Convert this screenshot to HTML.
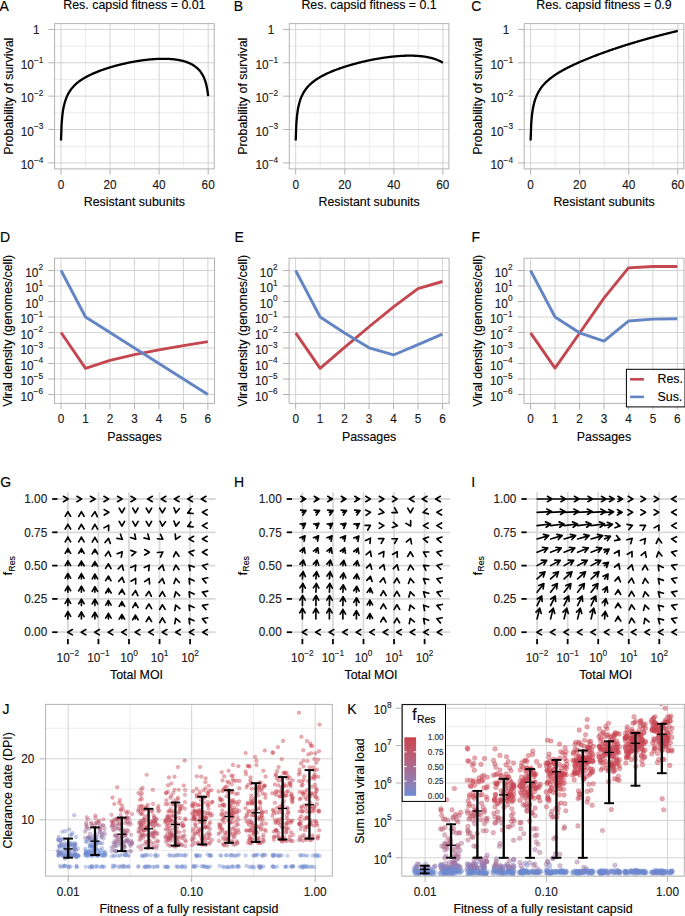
<!DOCTYPE html>
<html><head><meta charset="utf-8"><style>
html,body{margin:0;padding:0;background:#fff;}
svg{display:block;font-family:"Liberation Sans", sans-serif;}
text{stroke:currentColor;stroke-width:0.12px;}
circle{fill-opacity:0.42;stroke-opacity:0.42;stroke-width:0.6}.q0{fill:#6a8ad2;stroke:#6a8ad2}.q1{fill:#7487cb;stroke:#7487cb}.q2{fill:#7e84c4;stroke:#7e84c4}.q3{fill:#8681bd;stroke:#8681bd}.q4{fill:#8d7eb6;stroke:#8d7eb6}.q5{fill:#937aaf;stroke:#937aaf}.q6{fill:#9977a8;stroke:#9977a8}.q7{fill:#9e74a1;stroke:#9e74a1}.q8{fill:#a3709b;stroke:#a3709b}.q9{fill:#a86d94;stroke:#a86d94}.q10{fill:#ac698d;stroke:#ac698d}.q11{fill:#b06686;stroke:#b06686}.q12{fill:#b46280;stroke:#b46280}.q13{fill:#b75f79;stroke:#b75f79}.q14{fill:#ba5b73;stroke:#ba5b73}.q15{fill:#bd576c;stroke:#bd576c}.q16{fill:#c05366;stroke:#c05366}.q17{fill:#c24e5f;stroke:#c24e5f}.q18{fill:#c54a59;stroke:#c54a59}.q19{fill:#c74552;stroke:#c74552}.q20{fill:#c9404c;stroke:#c9404c}.K circle{fill-opacity:0.46;stroke-opacity:0.46}circle.q0b{fill:#6a8ad2;stroke:#6a8ad2;fill-opacity:0.36;stroke-opacity:0.36}circle.q1b{fill:#7487cb;stroke:#7487cb;fill-opacity:0.36;stroke-opacity:0.36}circle.q2b{fill:#7e84c4;stroke:#7e84c4;fill-opacity:0.36;stroke-opacity:0.36}circle.q3b{fill:#8681bd;stroke:#8681bd;fill-opacity:0.36;stroke-opacity:0.36}circle.q4b{fill:#8d7eb6;stroke:#8d7eb6;fill-opacity:0.36;stroke-opacity:0.36}circle.q5b{fill:#937aaf;stroke:#937aaf;fill-opacity:0.36;stroke-opacity:0.36}circle.q6b{fill:#9977a8;stroke:#9977a8;fill-opacity:0.36;stroke-opacity:0.36}circle.q7b{fill:#9e74a1;stroke:#9e74a1;fill-opacity:0.36;stroke-opacity:0.36}circle.q8b{fill:#a3709b;stroke:#a3709b;fill-opacity:0.36;stroke-opacity:0.36}circle.q9b{fill:#a86d94;stroke:#a86d94;fill-opacity:0.36;stroke-opacity:0.36}circle.q10b{fill:#ac698d;stroke:#ac698d;fill-opacity:0.36;stroke-opacity:0.36}circle.q11b{fill:#b06686;stroke:#b06686;fill-opacity:0.36;stroke-opacity:0.36}circle.q12b{fill:#b46280;stroke:#b46280;fill-opacity:0.36;stroke-opacity:0.36}circle.q13b{fill:#b75f79;stroke:#b75f79;fill-opacity:0.36;stroke-opacity:0.36}circle.q14b{fill:#ba5b73;stroke:#ba5b73;fill-opacity:0.36;stroke-opacity:0.36}circle.q15b{fill:#bd576c;stroke:#bd576c;fill-opacity:0.36;stroke-opacity:0.36}circle.q16b{fill:#c05366;stroke:#c05366;fill-opacity:0.36;stroke-opacity:0.36}circle.q17b{fill:#c24e5f;stroke:#c24e5f;fill-opacity:0.36;stroke-opacity:0.36}circle.q18b{fill:#c54a59;stroke:#c54a59;fill-opacity:0.36;stroke-opacity:0.36}circle.q19b{fill:#c74552;stroke:#c74552;fill-opacity:0.36;stroke-opacity:0.36}circle.q20b{fill:#c9404c;stroke:#c9404c;fill-opacity:0.36;stroke-opacity:0.36}
</style></head><body>
<svg width="685" height="916" viewBox="0 0 685 916">
<rect width="685" height="916" fill="#fff"/>
<line x1="85.53" y1="23.6" x2="85.53" y2="168.9" stroke="#e4e4e4" stroke-width="0.75" />
<line x1="134.59" y1="23.6" x2="134.59" y2="168.9" stroke="#e4e4e4" stroke-width="0.75" />
<line x1="183.65" y1="23.6" x2="183.65" y2="168.9" stroke="#e4e4e4" stroke-width="0.75" />
<line x1="54.6" y1="46.09" x2="214.2" y2="46.09" stroke="#e4e4e4" stroke-width="0.75" />
<line x1="54.6" y1="79.46" x2="214.2" y2="79.46" stroke="#e4e4e4" stroke-width="0.75" />
<line x1="54.6" y1="112.84" x2="214.2" y2="112.84" stroke="#e4e4e4" stroke-width="0.75" />
<line x1="54.6" y1="146.21" x2="214.2" y2="146.21" stroke="#e4e4e4" stroke-width="0.75" />
<line x1="61" y1="23.6" x2="61" y2="168.9" stroke="#d3d3d3" stroke-width="1.0" />
<line x1="110.06" y1="23.6" x2="110.06" y2="168.9" stroke="#d3d3d3" stroke-width="1.0" />
<line x1="159.12" y1="23.6" x2="159.12" y2="168.9" stroke="#d3d3d3" stroke-width="1.0" />
<line x1="208.18" y1="23.6" x2="208.18" y2="168.9" stroke="#d3d3d3" stroke-width="1.0" />
<line x1="54.6" y1="29.4" x2="214.2" y2="29.4" stroke="#d3d3d3" stroke-width="1.0" />
<line x1="54.6" y1="62.77" x2="214.2" y2="62.77" stroke="#d3d3d3" stroke-width="1.0" />
<line x1="54.6" y1="96.15" x2="214.2" y2="96.15" stroke="#d3d3d3" stroke-width="1.0" />
<line x1="54.6" y1="129.53" x2="214.2" y2="129.53" stroke="#d3d3d3" stroke-width="1.0" />
<line x1="54.6" y1="162.9" x2="214.2" y2="162.9" stroke="#d3d3d3" stroke-width="1.0" />
<polyline points="61,140.47 61.61,124 62.23,116.54 62.84,111.67 63.45,108.06 64.07,105.18 64.68,102.8 65.29,100.77 65.91,99 66.52,97.43 67.13,96.03 67.75,94.75 68.36,93.58 68.97,92.51 69.59,91.51 70.2,90.59 70.81,89.72 71.43,88.9 72.04,88.13 72.65,87.4 73.27,86.71 73.88,86.06 74.49,85.43 75.1,84.83 75.72,84.25 76.33,83.7 76.94,83.17 77.56,82.66 78.17,82.17 78.78,81.69 79.4,81.23 80.01,80.79 80.62,80.36 81.24,79.94 81.85,79.53 82.46,79.13 83.08,78.75 83.69,78.37 84.3,78.01 84.92,77.65 85.53,77.3 86.14,76.96 86.76,76.62 87.37,76.3 87.98,75.98 88.6,75.67 89.21,75.36 89.82,75.06 90.44,74.76 91.05,74.47 91.66,74.19 92.28,73.91 92.89,73.64 93.5,73.37 94.12,73.1 94.73,72.84 95.34,72.58 95.96,72.33 96.57,72.08 97.18,71.84 97.79,71.6 98.41,71.36 99.02,71.12 99.63,70.89 100.25,70.66 100.86,70.44 101.47,70.22 102.09,70 102.7,69.78 103.31,69.57 103.93,69.36 104.54,69.15 105.15,68.94 105.77,68.74 106.38,68.54 106.99,68.34 107.61,68.15 108.22,67.95 108.83,67.76 109.45,67.57 110.06,67.39 110.67,67.2 111.29,67.02 111.9,66.84 112.51,66.67 113.13,66.49 113.74,66.32 114.35,66.15 114.97,65.98 115.58,65.81 116.19,65.64 116.81,65.48 117.42,65.32 118.03,65.16 118.65,65 119.26,64.85 119.87,64.69 120.49,64.54 121.1,64.39 121.71,64.24 122.32,64.1 122.94,63.95 123.55,63.81 124.16,63.67 124.78,63.53 125.39,63.39 126,63.26 126.62,63.13 127.23,62.99 127.84,62.86 128.46,62.74 129.07,62.61 129.68,62.49 130.3,62.36 130.91,62.24 131.52,62.12 132.14,62.01 132.75,61.89 133.36,61.78 133.98,61.67 134.59,61.56 135.2,61.45 135.82,61.34 136.43,61.24 137.04,61.14 137.66,61.04 138.27,60.94 138.88,60.84 139.5,60.75 140.11,60.66 140.72,60.57 141.34,60.48 141.95,60.39 142.56,60.31 143.18,60.22 143.79,60.14 144.4,60.06 145.02,59.99 145.63,59.91 146.24,59.84 146.85,59.77 147.47,59.7 148.08,59.64 148.69,59.57 149.31,59.51 149.92,59.45 150.53,59.4 151.15,59.34 151.76,59.29 152.37,59.24 152.99,59.19 153.6,59.15 154.21,59.1 154.83,59.06 155.44,59.03 156.05,58.99 156.67,58.96 157.28,58.93 157.89,58.9 158.51,58.88 159.12,58.85 159.73,58.84 160.35,58.82 160.96,58.81 161.57,58.8 162.19,58.79 162.8,58.78 163.41,58.78 164.03,58.79 164.64,58.79 165.25,58.8 165.87,58.81 166.48,58.83 167.09,58.85 167.71,58.87 168.32,58.9 168.93,58.93 169.55,58.96 170.16,59 170.77,59.04 171.38,59.09 172,59.14 172.61,59.19 173.22,59.25 173.84,59.32 174.45,59.39 175.06,59.46 175.68,59.54 176.29,59.63 176.9,59.72 177.52,59.81 178.13,59.91 178.74,60.02 179.36,60.14 179.97,60.26 180.58,60.38 181.2,60.52 181.81,60.66 182.42,60.81 183.04,60.97 183.65,61.13 184.26,61.31 184.88,61.49 185.49,61.68 186.1,61.88 186.72,62.1 187.33,62.32 187.94,62.56 188.56,62.8 189.17,63.06 189.78,63.34 190.4,63.62 191.01,63.93 191.62,64.25 192.24,64.58 192.85,64.94 193.46,65.31 194.08,65.71 194.69,66.13 195.3,66.57 195.91,67.04 196.53,67.54 197.14,68.07 197.75,68.64 198.37,69.25 198.98,69.9 199.59,70.59 200.21,71.35 200.82,72.16 201.43,73.04 202.05,74.01 202.66,75.07 203.27,76.24 203.89,77.55 204.5,79.02 205.11,80.69 205.73,82.64 206.34,84.94 206.95,87.74 207.57,91.3 208.18,96.15" fill="none" stroke="#000" stroke-width="2.3" stroke-linejoin="round" />
<rect x="54.6" y="23.6" width="159.6" height="145.3" fill="none" stroke="#b3b3b3" stroke-width="1.0"/>
<line x1="61" y1="168.9" x2="61" y2="174.7" stroke="#b3b3b3" stroke-width="1.0" />
<text transform="translate(61,189) scale(1,1.08)" font-size="11.8" text-anchor="middle" fill="#222222" >0</text>
<line x1="110.06" y1="168.9" x2="110.06" y2="174.7" stroke="#b3b3b3" stroke-width="1.0" />
<text transform="translate(110.06,189) scale(1,1.08)" font-size="11.8" text-anchor="middle" fill="#222222" >20</text>
<line x1="159.12" y1="168.9" x2="159.12" y2="174.7" stroke="#b3b3b3" stroke-width="1.0" />
<text transform="translate(159.12,189) scale(1,1.08)" font-size="11.8" text-anchor="middle" fill="#222222" >40</text>
<line x1="208.18" y1="168.9" x2="208.18" y2="174.7" stroke="#b3b3b3" stroke-width="1.0" />
<text transform="translate(208.18,189) scale(1,1.08)" font-size="11.8" text-anchor="middle" fill="#222222" >60</text>
<line x1="48.4" y1="29.4" x2="54.6" y2="29.4" stroke="#b3b3b3" stroke-width="1.0" />
<text transform="translate(39.6,33.7) scale(1,1.08)" font-size="11.8" text-anchor="end" fill="#222222" >1</text>
<line x1="48.4" y1="62.77" x2="54.6" y2="62.77" stroke="#b3b3b3" stroke-width="1.0" />
<text transform="translate(20.81,68.98) scale(1,1.08)" font-size="11.8" fill="#222222">10</text>
<text x="33.94" y="62.68" font-size="8.3" fill="#222222">&#8722;1</text>
<line x1="48.4" y1="96.15" x2="54.6" y2="96.15" stroke="#b3b3b3" stroke-width="1.0" />
<text transform="translate(20.81,102.35) scale(1,1.08)" font-size="11.8" fill="#222222">10</text>
<text x="33.94" y="96.05" font-size="8.3" fill="#222222">&#8722;2</text>
<line x1="48.4" y1="129.53" x2="54.6" y2="129.53" stroke="#b3b3b3" stroke-width="1.0" />
<text transform="translate(20.81,135.73) scale(1,1.08)" font-size="11.8" fill="#222222">10</text>
<text x="33.94" y="129.43" font-size="8.3" fill="#222222">&#8722;3</text>
<line x1="48.4" y1="162.9" x2="54.6" y2="162.9" stroke="#b3b3b3" stroke-width="1.0" />
<text transform="translate(20.81,169.1) scale(1,1.08)" font-size="11.8" fill="#222222">10</text>
<text x="33.94" y="162.8" font-size="8.3" fill="#222222">&#8722;4</text>
<text x="134.4" y="205.7" font-size="12.4" text-anchor="middle" fill="#000000" >Resistant subunits</text>
<text transform="translate(12.6,96.25) rotate(-90)" font-size="12.4" text-anchor="middle" fill="#000000">Probability of survival</text>
<text x="134.4" y="8.8" font-size="12.4" text-anchor="middle" fill="#000000" >Res. capsid fitness = 0.01</text>
<text x="-0.4" y="10.6" font-size="14.0" text-anchor="start" fill="#000000" >A</text>
<line x1="320.23" y1="23.6" x2="320.23" y2="168.9" stroke="#e4e4e4" stroke-width="0.75" />
<line x1="369.29" y1="23.6" x2="369.29" y2="168.9" stroke="#e4e4e4" stroke-width="0.75" />
<line x1="418.35" y1="23.6" x2="418.35" y2="168.9" stroke="#e4e4e4" stroke-width="0.75" />
<line x1="289.3" y1="46.09" x2="448.9" y2="46.09" stroke="#e4e4e4" stroke-width="0.75" />
<line x1="289.3" y1="79.46" x2="448.9" y2="79.46" stroke="#e4e4e4" stroke-width="0.75" />
<line x1="289.3" y1="112.84" x2="448.9" y2="112.84" stroke="#e4e4e4" stroke-width="0.75" />
<line x1="289.3" y1="146.21" x2="448.9" y2="146.21" stroke="#e4e4e4" stroke-width="0.75" />
<line x1="295.7" y1="23.6" x2="295.7" y2="168.9" stroke="#d3d3d3" stroke-width="1.0" />
<line x1="344.76" y1="23.6" x2="344.76" y2="168.9" stroke="#d3d3d3" stroke-width="1.0" />
<line x1="393.82" y1="23.6" x2="393.82" y2="168.9" stroke="#d3d3d3" stroke-width="1.0" />
<line x1="442.88" y1="23.6" x2="442.88" y2="168.9" stroke="#d3d3d3" stroke-width="1.0" />
<line x1="289.3" y1="29.4" x2="448.9" y2="29.4" stroke="#d3d3d3" stroke-width="1.0" />
<line x1="289.3" y1="62.77" x2="448.9" y2="62.77" stroke="#d3d3d3" stroke-width="1.0" />
<line x1="289.3" y1="96.15" x2="448.9" y2="96.15" stroke="#d3d3d3" stroke-width="1.0" />
<line x1="289.3" y1="129.53" x2="448.9" y2="129.53" stroke="#d3d3d3" stroke-width="1.0" />
<line x1="289.3" y1="162.9" x2="448.9" y2="162.9" stroke="#d3d3d3" stroke-width="1.0" />
<polyline points="295.7,140.47 296.31,124 296.93,116.53 297.54,111.66 298.15,108.03 298.77,105.16 299.38,102.77 299.99,100.73 300.61,98.96 301.22,97.38 301.83,95.97 302.45,94.69 303.06,93.51 303.67,92.43 304.29,91.43 304.9,90.5 305.51,89.62 306.13,88.8 306.74,88.03 307.35,87.29 307.96,86.59 308.58,85.93 309.19,85.3 309.8,84.69 310.42,84.11 311.03,83.55 311.64,83.01 312.26,82.5 312.87,82 313.48,81.51 314.1,81.05 314.71,80.6 315.32,80.16 315.94,79.73 316.55,79.32 317.16,78.91 317.78,78.52 318.39,78.14 319,77.76 319.62,77.4 320.23,77.04 320.84,76.69 321.46,76.35 322.07,76.02 322.68,75.69 323.3,75.37 323.91,75.05 324.52,74.75 325.14,74.44 325.75,74.14 326.36,73.85 326.98,73.56 327.59,73.28 328.2,73 328.82,72.73 329.43,72.46 330.04,72.19 330.66,71.93 331.27,71.67 331.88,71.42 332.5,71.17 333.11,70.92 333.72,70.68 334.33,70.44 334.95,70.2 335.56,69.96 336.17,69.73 336.79,69.5 337.4,69.28 338.01,69.05 338.63,68.83 339.24,68.61 339.85,68.4 340.47,68.18 341.08,67.97 341.69,67.76 342.31,67.56 342.92,67.35 343.53,67.15 344.15,66.95 344.76,66.75 345.37,66.56 345.99,66.36 346.6,66.17 347.21,65.98 347.83,65.8 348.44,65.61 349.05,65.43 349.67,65.24 350.28,65.06 350.89,64.89 351.51,64.71 352.12,64.53 352.73,64.36 353.35,64.19 353.96,64.02 354.57,63.85 355.19,63.69 355.8,63.52 356.41,63.36 357.02,63.2 357.64,63.04 358.25,62.88 358.86,62.73 359.48,62.57 360.09,62.42 360.7,62.27 361.32,62.12 361.93,61.97 362.54,61.83 363.16,61.68 363.77,61.54 364.38,61.4 365,61.26 365.61,61.12 366.22,60.98 366.84,60.85 367.45,60.71 368.06,60.58 368.68,60.45 369.29,60.32 369.9,60.19 370.52,60.07 371.13,59.94 371.74,59.82 372.36,59.7 372.97,59.58 373.58,59.46 374.2,59.35 374.81,59.23 375.42,59.12 376.04,59.01 376.65,58.9 377.26,58.79 377.88,58.68 378.49,58.57 379.1,58.47 379.72,58.37 380.33,58.27 380.94,58.17 381.55,58.07 382.17,57.98 382.78,57.88 383.39,57.79 384.01,57.7 384.62,57.61 385.23,57.53 385.85,57.44 386.46,57.36 387.07,57.28 387.69,57.2 388.3,57.12 388.91,57.04 389.53,56.97 390.14,56.9 390.75,56.82 391.37,56.76 391.98,56.69 392.59,56.62 393.21,56.56 393.82,56.5 394.43,56.44 395.05,56.38 395.66,56.33 396.27,56.27 396.89,56.22 397.5,56.17 398.11,56.12 398.73,56.08 399.34,56.04 399.95,56 400.57,55.96 401.18,55.92 401.79,55.89 402.41,55.85 403.02,55.83 403.63,55.8 404.25,55.77 404.86,55.75 405.47,55.73 406.08,55.71 406.7,55.7 407.31,55.69 407.92,55.68 408.54,55.67 409.15,55.66 409.76,55.66 410.38,55.66 410.99,55.67 411.6,55.67 412.22,55.68 412.83,55.7 413.44,55.71 414.06,55.73 414.67,55.76 415.28,55.78 415.9,55.81 416.51,55.84 417.12,55.88 417.74,55.92 418.35,55.96 418.96,56.01 419.58,56.06 420.19,56.12 420.8,56.18 421.42,56.24 422.03,56.31 422.64,56.38 423.26,56.46 423.87,56.54 424.48,56.63 425.1,56.72 425.71,56.81 426.32,56.92 426.94,57.02 427.55,57.14 428.16,57.26 428.78,57.38 429.39,57.51 430,57.65 430.62,57.8 431.23,57.95 431.84,58.11 432.45,58.28 433.07,58.46 433.68,58.64 434.29,58.83 434.91,59.04 435.52,59.25 436.13,59.47 436.75,59.7 437.36,59.95 437.97,60.2 438.59,60.47 439.2,60.75 439.81,61.05 440.43,61.36 441.04,61.69 441.65,62.03 442.27,62.39 442.88,62.77" fill="none" stroke="#000" stroke-width="2.3" stroke-linejoin="round" />
<rect x="289.3" y="23.6" width="159.6" height="145.3" fill="none" stroke="#b3b3b3" stroke-width="1.0"/>
<line x1="295.7" y1="168.9" x2="295.7" y2="174.7" stroke="#b3b3b3" stroke-width="1.0" />
<text transform="translate(295.7,189) scale(1,1.08)" font-size="11.8" text-anchor="middle" fill="#222222" >0</text>
<line x1="344.76" y1="168.9" x2="344.76" y2="174.7" stroke="#b3b3b3" stroke-width="1.0" />
<text transform="translate(344.76,189) scale(1,1.08)" font-size="11.8" text-anchor="middle" fill="#222222" >20</text>
<line x1="393.82" y1="168.9" x2="393.82" y2="174.7" stroke="#b3b3b3" stroke-width="1.0" />
<text transform="translate(393.82,189) scale(1,1.08)" font-size="11.8" text-anchor="middle" fill="#222222" >40</text>
<line x1="442.88" y1="168.9" x2="442.88" y2="174.7" stroke="#b3b3b3" stroke-width="1.0" />
<text transform="translate(442.88,189) scale(1,1.08)" font-size="11.8" text-anchor="middle" fill="#222222" >60</text>
<line x1="283.1" y1="29.4" x2="289.3" y2="29.4" stroke="#b3b3b3" stroke-width="1.0" />
<text transform="translate(274.3,33.7) scale(1,1.08)" font-size="11.8" text-anchor="end" fill="#222222" >1</text>
<line x1="283.1" y1="62.77" x2="289.3" y2="62.77" stroke="#b3b3b3" stroke-width="1.0" />
<text transform="translate(255.51,68.98) scale(1,1.08)" font-size="11.8" fill="#222222">10</text>
<text x="268.64" y="62.68" font-size="8.3" fill="#222222">&#8722;1</text>
<line x1="283.1" y1="96.15" x2="289.3" y2="96.15" stroke="#b3b3b3" stroke-width="1.0" />
<text transform="translate(255.51,102.35) scale(1,1.08)" font-size="11.8" fill="#222222">10</text>
<text x="268.64" y="96.05" font-size="8.3" fill="#222222">&#8722;2</text>
<line x1="283.1" y1="129.53" x2="289.3" y2="129.53" stroke="#b3b3b3" stroke-width="1.0" />
<text transform="translate(255.51,135.73) scale(1,1.08)" font-size="11.8" fill="#222222">10</text>
<text x="268.64" y="129.43" font-size="8.3" fill="#222222">&#8722;3</text>
<line x1="283.1" y1="162.9" x2="289.3" y2="162.9" stroke="#b3b3b3" stroke-width="1.0" />
<text transform="translate(255.51,169.1) scale(1,1.08)" font-size="11.8" fill="#222222">10</text>
<text x="268.64" y="162.8" font-size="8.3" fill="#222222">&#8722;4</text>
<text x="369.1" y="205.7" font-size="12.4" text-anchor="middle" fill="#000000" >Resistant subunits</text>
<text transform="translate(247.3,96.25) rotate(-90)" font-size="12.4" text-anchor="middle" fill="#000000">Probability of survival</text>
<text x="369.1" y="8.8" font-size="12.4" text-anchor="middle" fill="#000000" >Res. capsid fitness = 0.1</text>
<text x="233.7" y="10.6" font-size="14.0" text-anchor="start" fill="#000000" >B</text>
<line x1="555.13" y1="23.6" x2="555.13" y2="168.9" stroke="#e4e4e4" stroke-width="0.75" />
<line x1="604.19" y1="23.6" x2="604.19" y2="168.9" stroke="#e4e4e4" stroke-width="0.75" />
<line x1="653.25" y1="23.6" x2="653.25" y2="168.9" stroke="#e4e4e4" stroke-width="0.75" />
<line x1="524.2" y1="46.09" x2="683.8" y2="46.09" stroke="#e4e4e4" stroke-width="0.75" />
<line x1="524.2" y1="79.46" x2="683.8" y2="79.46" stroke="#e4e4e4" stroke-width="0.75" />
<line x1="524.2" y1="112.84" x2="683.8" y2="112.84" stroke="#e4e4e4" stroke-width="0.75" />
<line x1="524.2" y1="146.21" x2="683.8" y2="146.21" stroke="#e4e4e4" stroke-width="0.75" />
<line x1="530.6" y1="23.6" x2="530.6" y2="168.9" stroke="#d3d3d3" stroke-width="1.0" />
<line x1="579.66" y1="23.6" x2="579.66" y2="168.9" stroke="#d3d3d3" stroke-width="1.0" />
<line x1="628.72" y1="23.6" x2="628.72" y2="168.9" stroke="#d3d3d3" stroke-width="1.0" />
<line x1="677.78" y1="23.6" x2="677.78" y2="168.9" stroke="#d3d3d3" stroke-width="1.0" />
<line x1="524.2" y1="29.4" x2="683.8" y2="29.4" stroke="#d3d3d3" stroke-width="1.0" />
<line x1="524.2" y1="62.77" x2="683.8" y2="62.77" stroke="#d3d3d3" stroke-width="1.0" />
<line x1="524.2" y1="96.15" x2="683.8" y2="96.15" stroke="#d3d3d3" stroke-width="1.0" />
<line x1="524.2" y1="129.53" x2="683.8" y2="129.53" stroke="#d3d3d3" stroke-width="1.0" />
<line x1="524.2" y1="162.9" x2="683.8" y2="162.9" stroke="#d3d3d3" stroke-width="1.0" />
<polyline points="530.6,140.47 531.21,123.95 531.83,116.43 532.44,111.51 533.05,107.84 533.67,104.91 534.28,102.48 534.89,100.39 535.51,98.56 536.12,96.94 536.73,95.48 537.35,94.14 537.96,92.92 538.57,91.79 539.19,90.74 539.8,89.75 540.41,88.82 541.03,87.95 541.64,87.12 542.25,86.34 542.87,85.59 543.48,84.87 544.09,84.18 544.7,83.52 545.32,82.89 545.93,82.28 546.54,81.69 547.16,81.11 547.77,80.56 548.38,80.02 549,79.5 549.61,78.99 550.22,78.5 550.84,78.02 551.45,77.55 552.06,77.09 552.68,76.64 553.29,76.2 553.9,75.77 554.52,75.34 555.13,74.93 555.74,74.52 556.36,74.12 556.97,73.73 557.58,73.34 558.2,72.96 558.81,72.59 559.42,72.22 560.04,71.86 560.65,71.5 561.26,71.15 561.88,70.8 562.49,70.46 563.1,70.12 563.72,69.78 564.33,69.45 564.94,69.12 565.56,68.79 566.17,68.47 566.78,68.16 567.39,67.84 568.01,67.53 568.62,67.22 569.23,66.91 569.85,66.61 570.46,66.31 571.07,66.01 571.69,65.72 572.3,65.43 572.91,65.14 573.53,64.85 574.14,64.56 574.75,64.28 575.37,63.99 575.98,63.71 576.59,63.44 577.21,63.16 577.82,62.89 578.43,62.61 579.05,62.34 579.66,62.07 580.27,61.81 580.89,61.54 581.5,61.28 582.11,61.02 582.73,60.75 583.34,60.5 583.95,60.24 584.57,59.98 585.18,59.73 585.79,59.47 586.41,59.22 587.02,58.97 587.63,58.72 588.25,58.47 588.86,58.22 589.47,57.98 590.09,57.73 590.7,57.49 591.31,57.25 591.93,57 592.54,56.76 593.15,56.53 593.76,56.29 594.38,56.05 594.99,55.81 595.6,55.58 596.22,55.35 596.83,55.11 597.44,54.88 598.06,54.65 598.67,54.42 599.28,54.19 599.9,53.97 600.51,53.74 601.12,53.51 601.74,53.29 602.35,53.06 602.96,52.84 603.58,52.62 604.19,52.4 604.8,52.18 605.42,51.96 606.03,51.74 606.64,51.52 607.26,51.31 607.87,51.09 608.48,50.88 609.1,50.66 609.71,50.45 610.32,50.24 610.94,50.02 611.55,49.81 612.16,49.6 612.78,49.39 613.39,49.18 614,48.98 614.62,48.77 615.23,48.56 615.84,48.36 616.46,48.15 617.07,47.95 617.68,47.75 618.29,47.55 618.91,47.34 619.52,47.14 620.13,46.94 620.75,46.74 621.36,46.54 621.97,46.35 622.59,46.15 623.2,45.95 623.81,45.76 624.43,45.56 625.04,45.37 625.65,45.17 626.27,44.98 626.88,44.79 627.49,44.6 628.11,44.41 628.72,44.22 629.33,44.03 629.95,43.84 630.56,43.65 631.17,43.46 631.79,43.28 632.4,43.09 633.01,42.91 633.63,42.72 634.24,42.54 634.85,42.35 635.47,42.17 636.08,41.99 636.69,41.81 637.31,41.62 637.92,41.44 638.53,41.26 639.15,41.09 639.76,40.91 640.37,40.73 640.99,40.55 641.6,40.38 642.21,40.2 642.82,40.02 643.44,39.85 644.05,39.67 644.66,39.5 645.28,39.33 645.89,39.16 646.5,38.98 647.12,38.81 647.73,38.64 648.34,38.47 648.96,38.3 649.57,38.13 650.18,37.96 650.8,37.8 651.41,37.63 652.02,37.46 652.64,37.3 653.25,37.13 653.86,36.97 654.48,36.8 655.09,36.64 655.7,36.47 656.32,36.31 656.93,36.15 657.54,35.99 658.16,35.82 658.77,35.66 659.38,35.5 660,35.34 660.61,35.18 661.22,35.03 661.84,34.87 662.45,34.71 663.06,34.55 663.68,34.4 664.29,34.24 664.9,34.08 665.51,33.93 666.13,33.77 666.74,33.62 667.35,33.47 667.97,33.31 668.58,33.16 669.19,33.01 669.81,32.86 670.42,32.71 671.03,32.55 671.65,32.4 672.26,32.25 672.87,32.11 673.49,31.96 674.1,31.81 674.71,31.66 675.33,31.51 675.94,31.37 676.55,31.22 677.17,31.07 677.78,30.93" fill="none" stroke="#000" stroke-width="2.3" stroke-linejoin="round" />
<rect x="524.2" y="23.6" width="159.6" height="145.3" fill="none" stroke="#b3b3b3" stroke-width="1.0"/>
<line x1="530.6" y1="168.9" x2="530.6" y2="174.7" stroke="#b3b3b3" stroke-width="1.0" />
<text transform="translate(530.6,189) scale(1,1.08)" font-size="11.8" text-anchor="middle" fill="#222222" >0</text>
<line x1="579.66" y1="168.9" x2="579.66" y2="174.7" stroke="#b3b3b3" stroke-width="1.0" />
<text transform="translate(579.66,189) scale(1,1.08)" font-size="11.8" text-anchor="middle" fill="#222222" >20</text>
<line x1="628.72" y1="168.9" x2="628.72" y2="174.7" stroke="#b3b3b3" stroke-width="1.0" />
<text transform="translate(628.72,189) scale(1,1.08)" font-size="11.8" text-anchor="middle" fill="#222222" >40</text>
<line x1="677.78" y1="168.9" x2="677.78" y2="174.7" stroke="#b3b3b3" stroke-width="1.0" />
<text transform="translate(677.78,189) scale(1,1.08)" font-size="11.8" text-anchor="middle" fill="#222222" >60</text>
<line x1="518" y1="29.4" x2="524.2" y2="29.4" stroke="#b3b3b3" stroke-width="1.0" />
<text transform="translate(509.2,33.7) scale(1,1.08)" font-size="11.8" text-anchor="end" fill="#222222" >1</text>
<line x1="518" y1="62.77" x2="524.2" y2="62.77" stroke="#b3b3b3" stroke-width="1.0" />
<text transform="translate(490.41,68.98) scale(1,1.08)" font-size="11.8" fill="#222222">10</text>
<text x="503.54" y="62.68" font-size="8.3" fill="#222222">&#8722;1</text>
<line x1="518" y1="96.15" x2="524.2" y2="96.15" stroke="#b3b3b3" stroke-width="1.0" />
<text transform="translate(490.41,102.35) scale(1,1.08)" font-size="11.8" fill="#222222">10</text>
<text x="503.54" y="96.05" font-size="8.3" fill="#222222">&#8722;2</text>
<line x1="518" y1="129.53" x2="524.2" y2="129.53" stroke="#b3b3b3" stroke-width="1.0" />
<text transform="translate(490.41,135.73) scale(1,1.08)" font-size="11.8" fill="#222222">10</text>
<text x="503.54" y="129.43" font-size="8.3" fill="#222222">&#8722;3</text>
<line x1="518" y1="162.9" x2="524.2" y2="162.9" stroke="#b3b3b3" stroke-width="1.0" />
<text transform="translate(490.41,169.1) scale(1,1.08)" font-size="11.8" fill="#222222">10</text>
<text x="503.54" y="162.8" font-size="8.3" fill="#222222">&#8722;4</text>
<text x="604" y="205.7" font-size="12.4" text-anchor="middle" fill="#000000" >Resistant subunits</text>
<text transform="translate(482.2,96.25) rotate(-90)" font-size="12.4" text-anchor="middle" fill="#000000">Probability of survival</text>
<text x="604" y="8.8" font-size="12.4" text-anchor="middle" fill="#000000" >Res. capsid fitness = 0.9</text>
<text x="471.2" y="10.6" font-size="14.0" text-anchor="start" fill="#000000" >C</text>
<line x1="61.05" y1="258.2" x2="61.05" y2="403.4" stroke="#d3d3d3" stroke-width="1.0" />
<line x1="85.52" y1="258.2" x2="85.52" y2="403.4" stroke="#d3d3d3" stroke-width="1.0" />
<line x1="109.99" y1="258.2" x2="109.99" y2="403.4" stroke="#d3d3d3" stroke-width="1.0" />
<line x1="134.46" y1="258.2" x2="134.46" y2="403.4" stroke="#d3d3d3" stroke-width="1.0" />
<line x1="158.93" y1="258.2" x2="158.93" y2="403.4" stroke="#d3d3d3" stroke-width="1.0" />
<line x1="183.4" y1="258.2" x2="183.4" y2="403.4" stroke="#d3d3d3" stroke-width="1.0" />
<line x1="207.87" y1="258.2" x2="207.87" y2="403.4" stroke="#d3d3d3" stroke-width="1.0" />
<line x1="54.5" y1="270.5" x2="214.5" y2="270.5" stroke="#d3d3d3" stroke-width="1.0" />
<line x1="54.5" y1="286" x2="214.5" y2="286" stroke="#d3d3d3" stroke-width="1.0" />
<line x1="54.5" y1="301.5" x2="214.5" y2="301.5" stroke="#d3d3d3" stroke-width="1.0" />
<line x1="54.5" y1="317" x2="214.5" y2="317" stroke="#d3d3d3" stroke-width="1.0" />
<line x1="54.5" y1="332.5" x2="214.5" y2="332.5" stroke="#d3d3d3" stroke-width="1.0" />
<line x1="54.5" y1="348" x2="214.5" y2="348" stroke="#d3d3d3" stroke-width="1.0" />
<line x1="54.5" y1="363.5" x2="214.5" y2="363.5" stroke="#d3d3d3" stroke-width="1.0" />
<line x1="54.5" y1="379" x2="214.5" y2="379" stroke="#d3d3d3" stroke-width="1.0" />
<line x1="54.5" y1="394.5" x2="214.5" y2="394.5" stroke="#d3d3d3" stroke-width="1.0" />
<polyline points="61.05,332.5 85.52,368.31 109.99,360.4 134.46,354.66 158.93,349.86 183.4,345.68 207.87,341.64" fill="none" stroke="#C4464F" stroke-width="2.9" stroke-linejoin="round" />
<polyline points="61.05,270.5 85.52,317 109.99,332.5 134.46,348 158.93,363.5 183.4,379 207.87,394.5" fill="none" stroke="#6385C4" stroke-width="2.9" stroke-linejoin="round" />
<rect x="54.5" y="258.2" width="160" height="145.2" fill="none" stroke="#b3b3b3" stroke-width="1.0"/>
<line x1="61.05" y1="403.4" x2="61.05" y2="409.4" stroke="#b3b3b3" stroke-width="1.0" />
<text transform="translate(61.05,423.3) scale(1,1.08)" font-size="11.8" text-anchor="middle" fill="#222222" >0</text>
<line x1="85.52" y1="403.4" x2="85.52" y2="409.4" stroke="#b3b3b3" stroke-width="1.0" />
<text transform="translate(85.52,423.3) scale(1,1.08)" font-size="11.8" text-anchor="middle" fill="#222222" >1</text>
<line x1="109.99" y1="403.4" x2="109.99" y2="409.4" stroke="#b3b3b3" stroke-width="1.0" />
<text transform="translate(109.99,423.3) scale(1,1.08)" font-size="11.8" text-anchor="middle" fill="#222222" >2</text>
<line x1="134.46" y1="403.4" x2="134.46" y2="409.4" stroke="#b3b3b3" stroke-width="1.0" />
<text transform="translate(134.46,423.3) scale(1,1.08)" font-size="11.8" text-anchor="middle" fill="#222222" >3</text>
<line x1="158.93" y1="403.4" x2="158.93" y2="409.4" stroke="#b3b3b3" stroke-width="1.0" />
<text transform="translate(158.93,423.3) scale(1,1.08)" font-size="11.8" text-anchor="middle" fill="#222222" >4</text>
<line x1="183.4" y1="403.4" x2="183.4" y2="409.4" stroke="#b3b3b3" stroke-width="1.0" />
<text transform="translate(183.4,423.3) scale(1,1.08)" font-size="11.8" text-anchor="middle" fill="#222222" >5</text>
<line x1="207.87" y1="403.4" x2="207.87" y2="409.4" stroke="#b3b3b3" stroke-width="1.0" />
<text transform="translate(207.87,423.3) scale(1,1.08)" font-size="11.8" text-anchor="middle" fill="#222222" >6</text>
<line x1="48.3" y1="270.5" x2="54.5" y2="270.5" stroke="#b3b3b3" stroke-width="1.0" />
<text transform="translate(25.26,276.6) scale(1,1.08)" font-size="11.8" fill="#222222">10</text>
<text x="38.38" y="270.3" font-size="8.3" fill="#222222">2</text>
<line x1="48.3" y1="286" x2="54.5" y2="286" stroke="#b3b3b3" stroke-width="1.0" />
<text transform="translate(25.26,292.1) scale(1,1.08)" font-size="11.8" fill="#222222">10</text>
<text x="38.38" y="285.8" font-size="8.3" fill="#222222">1</text>
<line x1="48.3" y1="301.5" x2="54.5" y2="301.5" stroke="#b3b3b3" stroke-width="1.0" />
<text transform="translate(25.26,307.6) scale(1,1.08)" font-size="11.8" fill="#222222">10</text>
<text x="38.38" y="301.3" font-size="8.3" fill="#222222">0</text>
<line x1="48.3" y1="317" x2="54.5" y2="317" stroke="#b3b3b3" stroke-width="1.0" />
<text transform="translate(20.41,323.1) scale(1,1.08)" font-size="11.8" fill="#222222">10</text>
<text x="33.54" y="316.8" font-size="8.3" fill="#222222">&#8722;1</text>
<line x1="48.3" y1="332.5" x2="54.5" y2="332.5" stroke="#b3b3b3" stroke-width="1.0" />
<text transform="translate(20.41,338.6) scale(1,1.08)" font-size="11.8" fill="#222222">10</text>
<text x="33.54" y="332.3" font-size="8.3" fill="#222222">&#8722;2</text>
<line x1="48.3" y1="348" x2="54.5" y2="348" stroke="#b3b3b3" stroke-width="1.0" />
<text transform="translate(20.41,354.1) scale(1,1.08)" font-size="11.8" fill="#222222">10</text>
<text x="33.54" y="347.8" font-size="8.3" fill="#222222">&#8722;3</text>
<line x1="48.3" y1="363.5" x2="54.5" y2="363.5" stroke="#b3b3b3" stroke-width="1.0" />
<text transform="translate(20.41,369.6) scale(1,1.08)" font-size="11.8" fill="#222222">10</text>
<text x="33.54" y="363.3" font-size="8.3" fill="#222222">&#8722;4</text>
<line x1="48.3" y1="379" x2="54.5" y2="379" stroke="#b3b3b3" stroke-width="1.0" />
<text transform="translate(20.41,385.1) scale(1,1.08)" font-size="11.8" fill="#222222">10</text>
<text x="33.54" y="378.8" font-size="8.3" fill="#222222">&#8722;5</text>
<line x1="48.3" y1="394.5" x2="54.5" y2="394.5" stroke="#b3b3b3" stroke-width="1.0" />
<text transform="translate(20.41,400.6) scale(1,1.08)" font-size="11.8" fill="#222222">10</text>
<text x="33.54" y="394.3" font-size="8.3" fill="#222222">&#8722;6</text>
<text x="134.5" y="440.9" font-size="12.4" text-anchor="middle" fill="#000000" >Passages</text>
<text transform="translate(12.1,330.8) rotate(-90)" font-size="12.4" text-anchor="middle" fill="#000000">Viral density (genomes/cell)</text>
<text x="-0.1" y="241.7" font-size="14.0" text-anchor="start" fill="#000000" >D</text>
<line x1="295.65" y1="258.2" x2="295.65" y2="403.4" stroke="#d3d3d3" stroke-width="1.0" />
<line x1="320.12" y1="258.2" x2="320.12" y2="403.4" stroke="#d3d3d3" stroke-width="1.0" />
<line x1="344.59" y1="258.2" x2="344.59" y2="403.4" stroke="#d3d3d3" stroke-width="1.0" />
<line x1="369.06" y1="258.2" x2="369.06" y2="403.4" stroke="#d3d3d3" stroke-width="1.0" />
<line x1="393.53" y1="258.2" x2="393.53" y2="403.4" stroke="#d3d3d3" stroke-width="1.0" />
<line x1="418" y1="258.2" x2="418" y2="403.4" stroke="#d3d3d3" stroke-width="1.0" />
<line x1="442.47" y1="258.2" x2="442.47" y2="403.4" stroke="#d3d3d3" stroke-width="1.0" />
<line x1="289.1" y1="270.5" x2="449.1" y2="270.5" stroke="#d3d3d3" stroke-width="1.0" />
<line x1="289.1" y1="286" x2="449.1" y2="286" stroke="#d3d3d3" stroke-width="1.0" />
<line x1="289.1" y1="301.5" x2="449.1" y2="301.5" stroke="#d3d3d3" stroke-width="1.0" />
<line x1="289.1" y1="317" x2="449.1" y2="317" stroke="#d3d3d3" stroke-width="1.0" />
<line x1="289.1" y1="332.5" x2="449.1" y2="332.5" stroke="#d3d3d3" stroke-width="1.0" />
<line x1="289.1" y1="348" x2="449.1" y2="348" stroke="#d3d3d3" stroke-width="1.0" />
<line x1="289.1" y1="363.5" x2="449.1" y2="363.5" stroke="#d3d3d3" stroke-width="1.0" />
<line x1="289.1" y1="379" x2="449.1" y2="379" stroke="#d3d3d3" stroke-width="1.0" />
<line x1="289.1" y1="394.5" x2="449.1" y2="394.5" stroke="#d3d3d3" stroke-width="1.0" />
<polyline points="295.65,332.81 320.12,368.31 344.59,347.38 369.06,326.76 393.53,306.93 418,288.63 442.47,281.5" fill="none" stroke="#C4464F" stroke-width="2.9" stroke-linejoin="round" />
<polyline points="295.65,270.5 320.12,317 344.59,332.96 369.06,347.85 393.53,354.98 418,344.59 442.47,334.05" fill="none" stroke="#6385C4" stroke-width="2.9" stroke-linejoin="round" />
<rect x="289.1" y="258.2" width="160" height="145.2" fill="none" stroke="#b3b3b3" stroke-width="1.0"/>
<line x1="295.65" y1="403.4" x2="295.65" y2="409.4" stroke="#b3b3b3" stroke-width="1.0" />
<text transform="translate(295.65,423.3) scale(1,1.08)" font-size="11.8" text-anchor="middle" fill="#222222" >0</text>
<line x1="320.12" y1="403.4" x2="320.12" y2="409.4" stroke="#b3b3b3" stroke-width="1.0" />
<text transform="translate(320.12,423.3) scale(1,1.08)" font-size="11.8" text-anchor="middle" fill="#222222" >1</text>
<line x1="344.59" y1="403.4" x2="344.59" y2="409.4" stroke="#b3b3b3" stroke-width="1.0" />
<text transform="translate(344.59,423.3) scale(1,1.08)" font-size="11.8" text-anchor="middle" fill="#222222" >2</text>
<line x1="369.06" y1="403.4" x2="369.06" y2="409.4" stroke="#b3b3b3" stroke-width="1.0" />
<text transform="translate(369.06,423.3) scale(1,1.08)" font-size="11.8" text-anchor="middle" fill="#222222" >3</text>
<line x1="393.53" y1="403.4" x2="393.53" y2="409.4" stroke="#b3b3b3" stroke-width="1.0" />
<text transform="translate(393.53,423.3) scale(1,1.08)" font-size="11.8" text-anchor="middle" fill="#222222" >4</text>
<line x1="418" y1="403.4" x2="418" y2="409.4" stroke="#b3b3b3" stroke-width="1.0" />
<text transform="translate(418,423.3) scale(1,1.08)" font-size="11.8" text-anchor="middle" fill="#222222" >5</text>
<line x1="442.47" y1="403.4" x2="442.47" y2="409.4" stroke="#b3b3b3" stroke-width="1.0" />
<text transform="translate(442.47,423.3) scale(1,1.08)" font-size="11.8" text-anchor="middle" fill="#222222" >6</text>
<line x1="282.9" y1="270.5" x2="289.1" y2="270.5" stroke="#b3b3b3" stroke-width="1.0" />
<text transform="translate(259.86,276.6) scale(1,1.08)" font-size="11.8" fill="#222222">10</text>
<text x="272.98" y="270.3" font-size="8.3" fill="#222222">2</text>
<line x1="282.9" y1="286" x2="289.1" y2="286" stroke="#b3b3b3" stroke-width="1.0" />
<text transform="translate(259.86,292.1) scale(1,1.08)" font-size="11.8" fill="#222222">10</text>
<text x="272.98" y="285.8" font-size="8.3" fill="#222222">1</text>
<line x1="282.9" y1="301.5" x2="289.1" y2="301.5" stroke="#b3b3b3" stroke-width="1.0" />
<text transform="translate(259.86,307.6) scale(1,1.08)" font-size="11.8" fill="#222222">10</text>
<text x="272.98" y="301.3" font-size="8.3" fill="#222222">0</text>
<line x1="282.9" y1="317" x2="289.1" y2="317" stroke="#b3b3b3" stroke-width="1.0" />
<text transform="translate(255.01,323.1) scale(1,1.08)" font-size="11.8" fill="#222222">10</text>
<text x="268.14" y="316.8" font-size="8.3" fill="#222222">&#8722;1</text>
<line x1="282.9" y1="332.5" x2="289.1" y2="332.5" stroke="#b3b3b3" stroke-width="1.0" />
<text transform="translate(255.01,338.6) scale(1,1.08)" font-size="11.8" fill="#222222">10</text>
<text x="268.14" y="332.3" font-size="8.3" fill="#222222">&#8722;2</text>
<line x1="282.9" y1="348" x2="289.1" y2="348" stroke="#b3b3b3" stroke-width="1.0" />
<text transform="translate(255.01,354.1) scale(1,1.08)" font-size="11.8" fill="#222222">10</text>
<text x="268.14" y="347.8" font-size="8.3" fill="#222222">&#8722;3</text>
<line x1="282.9" y1="363.5" x2="289.1" y2="363.5" stroke="#b3b3b3" stroke-width="1.0" />
<text transform="translate(255.01,369.6) scale(1,1.08)" font-size="11.8" fill="#222222">10</text>
<text x="268.14" y="363.3" font-size="8.3" fill="#222222">&#8722;4</text>
<line x1="282.9" y1="379" x2="289.1" y2="379" stroke="#b3b3b3" stroke-width="1.0" />
<text transform="translate(255.01,385.1) scale(1,1.08)" font-size="11.8" fill="#222222">10</text>
<text x="268.14" y="378.8" font-size="8.3" fill="#222222">&#8722;5</text>
<line x1="282.9" y1="394.5" x2="289.1" y2="394.5" stroke="#b3b3b3" stroke-width="1.0" />
<text transform="translate(255.01,400.6) scale(1,1.08)" font-size="11.8" fill="#222222">10</text>
<text x="268.14" y="394.3" font-size="8.3" fill="#222222">&#8722;6</text>
<text x="369.1" y="440.9" font-size="12.4" text-anchor="middle" fill="#000000" >Passages</text>
<text transform="translate(246.7,330.8) rotate(-90)" font-size="12.4" text-anchor="middle" fill="#000000">Viral density (genomes/cell)</text>
<text x="234.6" y="241.7" font-size="14.0" text-anchor="start" fill="#000000" >E</text>
<line x1="530.55" y1="258.2" x2="530.55" y2="403.4" stroke="#d3d3d3" stroke-width="1.0" />
<line x1="555.02" y1="258.2" x2="555.02" y2="403.4" stroke="#d3d3d3" stroke-width="1.0" />
<line x1="579.49" y1="258.2" x2="579.49" y2="403.4" stroke="#d3d3d3" stroke-width="1.0" />
<line x1="603.96" y1="258.2" x2="603.96" y2="403.4" stroke="#d3d3d3" stroke-width="1.0" />
<line x1="628.43" y1="258.2" x2="628.43" y2="403.4" stroke="#d3d3d3" stroke-width="1.0" />
<line x1="652.9" y1="258.2" x2="652.9" y2="403.4" stroke="#d3d3d3" stroke-width="1.0" />
<line x1="677.37" y1="258.2" x2="677.37" y2="403.4" stroke="#d3d3d3" stroke-width="1.0" />
<line x1="524" y1="270.5" x2="684" y2="270.5" stroke="#d3d3d3" stroke-width="1.0" />
<line x1="524" y1="286" x2="684" y2="286" stroke="#d3d3d3" stroke-width="1.0" />
<line x1="524" y1="301.5" x2="684" y2="301.5" stroke="#d3d3d3" stroke-width="1.0" />
<line x1="524" y1="317" x2="684" y2="317" stroke="#d3d3d3" stroke-width="1.0" />
<line x1="524" y1="332.5" x2="684" y2="332.5" stroke="#d3d3d3" stroke-width="1.0" />
<line x1="524" y1="348" x2="684" y2="348" stroke="#d3d3d3" stroke-width="1.0" />
<line x1="524" y1="363.5" x2="684" y2="363.5" stroke="#d3d3d3" stroke-width="1.0" />
<line x1="524" y1="379" x2="684" y2="379" stroke="#d3d3d3" stroke-width="1.0" />
<line x1="524" y1="394.5" x2="684" y2="394.5" stroke="#d3d3d3" stroke-width="1.0" />
<polyline points="530.55,332.81 555.02,368.15 579.49,333.27 603.96,298.09 628.43,267.87 652.9,266.47 677.37,266.47" fill="none" stroke="#C4464F" stroke-width="2.9" stroke-linejoin="round" />
<polyline points="530.55,270.5 555.02,317 579.49,332.81 603.96,341.02 628.43,321.03 652.9,319.17 677.37,318.7" fill="none" stroke="#6385C4" stroke-width="2.9" stroke-linejoin="round" />
<rect x="524" y="258.2" width="160" height="145.2" fill="none" stroke="#b3b3b3" stroke-width="1.0"/>
<line x1="530.55" y1="403.4" x2="530.55" y2="409.4" stroke="#b3b3b3" stroke-width="1.0" />
<text transform="translate(530.55,423.3) scale(1,1.08)" font-size="11.8" text-anchor="middle" fill="#222222" >0</text>
<line x1="555.02" y1="403.4" x2="555.02" y2="409.4" stroke="#b3b3b3" stroke-width="1.0" />
<text transform="translate(555.02,423.3) scale(1,1.08)" font-size="11.8" text-anchor="middle" fill="#222222" >1</text>
<line x1="579.49" y1="403.4" x2="579.49" y2="409.4" stroke="#b3b3b3" stroke-width="1.0" />
<text transform="translate(579.49,423.3) scale(1,1.08)" font-size="11.8" text-anchor="middle" fill="#222222" >2</text>
<line x1="603.96" y1="403.4" x2="603.96" y2="409.4" stroke="#b3b3b3" stroke-width="1.0" />
<text transform="translate(603.96,423.3) scale(1,1.08)" font-size="11.8" text-anchor="middle" fill="#222222" >3</text>
<line x1="628.43" y1="403.4" x2="628.43" y2="409.4" stroke="#b3b3b3" stroke-width="1.0" />
<text transform="translate(628.43,423.3) scale(1,1.08)" font-size="11.8" text-anchor="middle" fill="#222222" >4</text>
<line x1="652.9" y1="403.4" x2="652.9" y2="409.4" stroke="#b3b3b3" stroke-width="1.0" />
<text transform="translate(652.9,423.3) scale(1,1.08)" font-size="11.8" text-anchor="middle" fill="#222222" >5</text>
<line x1="677.37" y1="403.4" x2="677.37" y2="409.4" stroke="#b3b3b3" stroke-width="1.0" />
<text transform="translate(677.37,423.3) scale(1,1.08)" font-size="11.8" text-anchor="middle" fill="#222222" >6</text>
<line x1="517.8" y1="270.5" x2="524" y2="270.5" stroke="#b3b3b3" stroke-width="1.0" />
<text transform="translate(494.76,276.6) scale(1,1.08)" font-size="11.8" fill="#222222">10</text>
<text x="507.88" y="270.3" font-size="8.3" fill="#222222">2</text>
<line x1="517.8" y1="286" x2="524" y2="286" stroke="#b3b3b3" stroke-width="1.0" />
<text transform="translate(494.76,292.1) scale(1,1.08)" font-size="11.8" fill="#222222">10</text>
<text x="507.88" y="285.8" font-size="8.3" fill="#222222">1</text>
<line x1="517.8" y1="301.5" x2="524" y2="301.5" stroke="#b3b3b3" stroke-width="1.0" />
<text transform="translate(494.76,307.6) scale(1,1.08)" font-size="11.8" fill="#222222">10</text>
<text x="507.88" y="301.3" font-size="8.3" fill="#222222">0</text>
<line x1="517.8" y1="317" x2="524" y2="317" stroke="#b3b3b3" stroke-width="1.0" />
<text transform="translate(489.91,323.1) scale(1,1.08)" font-size="11.8" fill="#222222">10</text>
<text x="503.04" y="316.8" font-size="8.3" fill="#222222">&#8722;1</text>
<line x1="517.8" y1="332.5" x2="524" y2="332.5" stroke="#b3b3b3" stroke-width="1.0" />
<text transform="translate(489.91,338.6) scale(1,1.08)" font-size="11.8" fill="#222222">10</text>
<text x="503.04" y="332.3" font-size="8.3" fill="#222222">&#8722;2</text>
<line x1="517.8" y1="348" x2="524" y2="348" stroke="#b3b3b3" stroke-width="1.0" />
<text transform="translate(489.91,354.1) scale(1,1.08)" font-size="11.8" fill="#222222">10</text>
<text x="503.04" y="347.8" font-size="8.3" fill="#222222">&#8722;3</text>
<line x1="517.8" y1="363.5" x2="524" y2="363.5" stroke="#b3b3b3" stroke-width="1.0" />
<text transform="translate(489.91,369.6) scale(1,1.08)" font-size="11.8" fill="#222222">10</text>
<text x="503.04" y="363.3" font-size="8.3" fill="#222222">&#8722;4</text>
<line x1="517.8" y1="379" x2="524" y2="379" stroke="#b3b3b3" stroke-width="1.0" />
<text transform="translate(489.91,385.1) scale(1,1.08)" font-size="11.8" fill="#222222">10</text>
<text x="503.04" y="378.8" font-size="8.3" fill="#222222">&#8722;5</text>
<line x1="517.8" y1="394.5" x2="524" y2="394.5" stroke="#b3b3b3" stroke-width="1.0" />
<text transform="translate(489.91,400.6) scale(1,1.08)" font-size="11.8" fill="#222222">10</text>
<text x="503.04" y="394.3" font-size="8.3" fill="#222222">&#8722;6</text>
<text x="604" y="440.9" font-size="12.4" text-anchor="middle" fill="#000000" >Passages</text>
<text transform="translate(481.6,330.8) rotate(-90)" font-size="12.4" text-anchor="middle" fill="#000000">Viral density (genomes/cell)</text>
<text x="471.4" y="241.7" font-size="14.0" text-anchor="start" fill="#000000" >F</text>
<rect x="626.4" y="369.3" width="58.6" height="37.6" fill="#fff" stroke="#000" stroke-width="1"/>
<line x1="630.1" y1="379.3" x2="643.9" y2="379.3" stroke="#C4464F" stroke-width="2.6" />
<line x1="630.1" y1="396.9" x2="643.9" y2="396.9" stroke="#6385C4" stroke-width="2.6" />
<text x="657.5" y="383.1" font-size="12.4" text-anchor="start" fill="#000000" >Res.</text>
<text x="657.5" y="401" font-size="12.4" text-anchor="start" fill="#000000" >Sus.</text>
<line x1="67.9" y1="492.2" x2="67.9" y2="638.6" stroke="#d9d9d9" stroke-width="1.8" />
<line x1="98.45" y1="492.2" x2="98.45" y2="638.6" stroke="#d9d9d9" stroke-width="1.8" />
<line x1="129" y1="492.2" x2="129" y2="638.6" stroke="#d9d9d9" stroke-width="1.8" />
<line x1="159.55" y1="492.2" x2="159.55" y2="638.6" stroke="#d9d9d9" stroke-width="1.8" />
<line x1="190.1" y1="492.2" x2="190.1" y2="638.6" stroke="#d9d9d9" stroke-width="1.8" />
<line x1="57.5" y1="632.2" x2="215.5" y2="632.2" stroke="#d9d9d9" stroke-width="1.8" />
<line x1="57.5" y1="598.9" x2="215.5" y2="598.9" stroke="#d9d9d9" stroke-width="1.8" />
<line x1="57.5" y1="565.6" x2="215.5" y2="565.6" stroke="#d9d9d9" stroke-width="1.8" />
<line x1="57.5" y1="532.3" x2="215.5" y2="532.3" stroke="#d9d9d9" stroke-width="1.8" />
<line x1="57.5" y1="499" x2="215.5" y2="499" stroke="#d9d9d9" stroke-width="1.8" />
<path d="M67.9 499L68.1 499M63.42 501.7L68.1 499L63.42 496.3M81.4 499L81.6 499M76.92 501.7L81.6 499L76.92 496.3M94.9 499L95.1 499M90.42 501.7L95.1 499L90.42 496.3M108.4 499L108.6 499M103.92 501.7L108.6 499L103.92 496.3M121.9 499L122.1 499M117.42 501.7L122.1 499L117.42 496.3M135.4 499L135.6 499M130.92 501.7L135.6 499L130.92 496.3M148.9 499L147.7 499M152.38 496.3L147.7 499L152.38 501.7M162.4 499L161.2 499M165.88 496.3L161.2 499L165.88 501.7M175.9 499L174.5 499M179.18 496.3L174.5 499L179.18 501.7M189.4 499L187.8 499M192.48 496.3L187.8 499L192.48 501.7M202.9 499L201.3 499M205.98 496.3L201.3 499L205.98 501.7M67.9 512.32L67.9 511.72M70.6 516.4L67.9 511.72L65.2 516.4M81.4 512.32L81.4 511.72M84.1 516.4L81.4 511.72L78.7 516.4M94.9 512.32L94.95 511.72M97.23 516.62L94.95 511.72L91.85 516.15M108.4 512.32L108.9 512.32M104.22 515.02L108.9 512.32L104.22 509.62M121.9 512.32L121.9 512.82M119.2 508.14L121.9 512.82L124.6 508.14M135.4 512.32L135.4 512.82M132.7 508.14L135.4 512.82L138.1 508.14M148.9 512.32L148.9 512.82M146.2 508.14L148.9 512.82L151.6 508.14M162.4 512.32L162.4 512.82M159.7 508.14L162.4 512.82L165.1 508.14M175.9 512.32L175.81 512.81M173.97 507.74L175.81 512.81L179.28 508.68M189.4 512.32L187.77 513.08M190.87 508.66L187.77 513.08L193.15 513.55M202.9 512.32L202.4 512.32M207.08 509.62L202.4 512.32L207.08 515.02M67.9 525.64L67.9 524.34M70.6 529.02L67.9 524.34L65.2 529.02M81.4 525.64L81.4 524.34M84.1 529.02L81.4 524.34L78.7 529.02M94.9 525.64L94.9 524.44M97.6 529.12L94.9 524.44L92.2 529.12M108.4 525.64L108.65 525.21M108.65 530.61L108.65 525.21L103.97 527.91M121.9 525.64L121.9 526.14M119.2 521.46L121.9 526.14L124.6 521.46M135.4 525.64L135.4 526.14M132.7 521.46L135.4 526.14L138.1 521.46M148.9 525.64L148.9 526.14M146.2 521.46L148.9 526.14L151.6 521.46M162.4 525.64L162.36 526.14M160.07 521.24L162.36 526.14L165.45 521.71M175.9 525.64L175.81 526.13M173.97 521.06L175.81 526.13L179.28 522M189.4 525.64L187.77 526.4M190.87 521.98L187.77 526.4L193.15 526.87M202.9 525.64L202.4 525.64M207.08 522.94L202.4 525.64L207.08 528.34M67.9 538.96L67.9 537.16M70.6 541.84L67.9 537.16L65.2 541.84M81.4 538.96L81.4 537.16M84.1 541.84L81.4 537.16L78.7 541.84M94.9 538.96L94.9 537.36M97.6 542.04L94.9 537.36L92.2 542.04M108.4 538.96L108.5 538.37M110.35 543.44L108.5 538.37L105.03 542.51M121.9 538.96L122.28 539.28M116.97 538.34L122.28 539.28L120.44 534.21M135.4 538.96L135.72 539.34M130.65 537.5L135.72 539.34L134.78 534.03M148.9 538.96L149.25 539.31M144.04 537.92L149.25 539.31L147.86 534.1M162.4 538.96L162.81 539.25M157.43 538.78L162.81 539.25L160.53 534.35M175.9 538.96L175.69 539.41M175.22 534.03L175.69 539.41L180.11 536.32M189.4 538.96L188.9 538.96M193.58 536.26L188.9 538.96L193.58 541.66M202.9 538.96L202.4 538.96M207.08 536.26L202.4 538.96L207.08 541.66M67.9 552.28L67.9 548.68M70.6 553.36L67.9 548.68L65.2 553.36M81.4 552.28L81.4 548.68M84.1 553.36L81.4 548.68L78.7 553.36M94.9 552.28L94.9 549.28M97.6 553.96L94.9 549.28L92.2 553.96M108.4 552.28L108.48 551.38M110.76 556.28L108.48 551.38L105.38 555.81M121.9 552.28L122.22 551.9M121.28 557.21L122.22 551.9L117.15 553.74M135.4 552.28L135.89 552.19M131.76 555.66L135.89 552.19L130.82 550.35M148.9 552.28L149.4 552.28M144.72 554.98L149.4 552.28L144.72 549.58M162.4 552.28L162.81 551.99M160.53 556.89L162.81 551.99L157.43 552.46M175.9 552.28L175.86 551.78M178.95 556.21L175.86 551.78L173.57 556.68M189.4 552.28L188.91 552.19M193.98 550.35L188.91 552.19L193.04 555.66M202.9 552.28L202.4 552.28M207.08 549.58L202.4 552.28L207.08 554.98M67.9 565.6L67.9 560.9M70.6 565.58L67.9 560.9L65.2 565.58M81.4 565.6L81.4 561.1M84.1 565.78L81.4 561.1L78.7 565.78M94.9 565.6L94.9 561.6M97.6 566.28L94.9 561.6L92.2 566.28M108.4 565.6L108.46 563.8M111 568.57L108.46 563.8L105.6 568.38M121.9 565.6L122.06 565.02M123.45 570.24L122.06 565.02L118.24 568.84M135.4 565.6L135.69 565.19M135.22 570.57L135.69 565.19L130.79 567.47M148.9 565.6L149.19 565.19M148.72 570.57L149.19 565.19L144.29 567.47M162.4 565.6L162.53 565.12M163.93 570.33L162.53 565.12L158.71 568.94M175.9 565.6L175.86 565.1M178.95 569.53L175.86 565.1L173.57 570M189.4 565.6L189.08 565.22M194.15 567.06L189.08 565.22L190.02 570.53M202.9 565.6L202.42 565.47M207.63 564.07L202.42 565.47L206.24 569.29M67.9 578.92L67.9 573.52M70.6 578.2L67.9 573.52L65.2 578.2M81.4 578.92L81.4 573.62M84.1 578.3L81.4 573.62L78.7 578.3M94.9 578.92L94.9 574.12M97.6 578.8L94.9 574.12L92.2 578.8M108.4 578.92L108.5 576.02M111.04 580.79L108.5 576.02L105.64 580.6M121.9 578.92L122.2 577.25M124.04 582.32L122.2 577.25L118.72 581.38M135.4 578.92L135.65 578.49M135.65 583.89L135.65 578.49L130.97 581.19M148.9 578.92L149.11 578.47M149.58 583.85L149.11 578.47L144.69 581.56M162.4 578.92L162.49 578.43M164.33 583.5L162.49 578.43L159.02 582.56M175.9 578.92L175.81 578.43M179.28 582.56L175.81 578.43L173.97 583.5M189.4 578.92L189.11 578.51M194.01 580.79L189.11 578.51L189.58 583.89M202.9 578.92L202.43 578.75M207.75 577.81L202.43 578.75L205.9 582.89M67.9 592.24L67.9 586.04M70.6 590.72L67.9 586.04L65.2 590.72M81.4 592.24L81.4 586.24M84.1 590.92L81.4 586.24L78.7 590.92M94.9 592.24L94.9 586.74M97.6 591.42L94.9 586.74L92.2 591.42M108.4 592.24L108.4 588.34M111.1 593.02L108.4 588.34L105.7 593.02M121.9 592.24L122 589.44M124.53 594.21L122 589.44L119.14 594.02M135.4 592.24L135.54 590.65M137.82 595.54L135.54 590.65L132.44 595.07M148.9 592.24L148.99 591.24M151.27 596.14L148.99 591.24L145.89 595.67M162.4 592.24L162.42 591.64M164.96 596.41L162.42 591.64L159.56 596.22M175.9 592.24L175.77 591.76M179.59 595.58L175.77 591.76L174.37 596.97M189.4 592.24L189.11 591.83M194.01 594.11L189.11 591.83L189.58 597.21M202.9 592.24L202.43 592.07M207.75 591.13L202.43 592.07L205.9 596.21M67.9 605.56L67.9 598.76M70.6 603.44L67.9 598.76L65.2 603.44M81.4 605.56L81.4 599.06M84.1 603.74L81.4 599.06L78.7 603.74M94.9 605.56L94.9 599.26M97.6 603.94L94.9 599.26L92.2 603.94M108.4 605.56L108.4 600.46M111.1 605.14L108.4 600.46L105.7 605.14M121.9 605.56L121.9 601.66M124.6 606.34L121.9 601.66L119.2 606.34M135.4 605.56L135.4 602.86M138.1 607.54L135.4 602.86L132.7 607.54M148.9 605.56L148.9 603.96M151.6 608.64L148.9 603.96L146.2 608.64M162.4 605.56L162.4 604.76M165.1 609.44L162.4 604.76L159.7 609.44M175.9 605.56L175.73 605.09M179.87 608.56L175.73 605.09L174.79 610.41M189.4 605.56L189.11 605.15M194.01 607.43L189.11 605.15L189.58 610.53M202.9 605.56L202.43 605.39M207.75 604.45L202.43 605.39L205.9 609.53M67.9 618.88L67.9 611.68M70.6 616.36L67.9 611.68L65.2 616.36M81.4 618.88L81.4 611.88M84.1 616.56L81.4 611.88L78.7 616.56M94.9 618.88L94.9 612.28M97.6 616.96L94.9 612.28L92.2 616.96M108.4 618.88L108.4 613.38M111.1 618.06L108.4 613.38L105.7 618.06M121.9 618.88L121.9 614.48M124.6 619.16L121.9 614.48L119.2 619.16M135.4 618.88L135.4 615.08M138.1 619.76L135.4 615.08L132.7 619.76M148.9 618.88L148.9 616.88M151.6 621.56L148.9 616.88L146.2 621.56M162.4 618.88L162.4 617.88M165.1 622.56L162.4 617.88L159.7 622.56M175.9 618.88L175.73 618.41M179.87 621.88L175.73 618.41L174.79 623.73M189.4 618.88L189.11 618.47M194.01 620.75L189.11 618.47L189.58 623.85M202.9 618.88L202.43 618.71M207.75 617.77L202.43 618.71L205.9 622.85M67.9 632.2L67.7 632.2M72.38 629.5L67.7 632.2L72.38 634.9M81.4 632.2L81.2 632.2M85.88 629.5L81.2 632.2L85.88 634.9M94.9 632.2L94.7 632.2M99.38 629.5L94.7 632.2L99.38 634.9M108.4 632.2L108.2 632.2M112.88 629.5L108.2 632.2L112.88 634.9M121.9 632.2L121.7 632.2M126.38 629.5L121.7 632.2L126.38 634.9M135.4 632.2L135.2 632.2M139.88 629.5L135.2 632.2L139.88 634.9M148.9 632.2L148.7 632.2M153.38 629.5L148.7 632.2L153.38 634.9M162.4 632.2L162.2 632.2M166.88 629.5L162.2 632.2L166.88 634.9M175.9 632.2L175.7 632.2M180.38 629.5L175.7 632.2L180.38 634.9M189.4 632.2L189.2 632.2M193.88 629.5L189.2 632.2L193.88 634.9M202.9 632.2L202.7 632.2M207.38 629.5L202.7 632.2L207.38 634.9" fill="none" stroke="#000" stroke-width="1.65" stroke-linejoin="round" stroke-linecap="round"/>
<line x1="52.2" y1="632.2" x2="57.5" y2="632.2" stroke="#000" stroke-width="1.8" />
<text transform="translate(47.2,636.4) scale(1,1.08)" font-size="11.8" text-anchor="end" fill="#222222" >0.00</text>
<line x1="52.2" y1="598.9" x2="57.5" y2="598.9" stroke="#000" stroke-width="1.8" />
<text transform="translate(47.2,603.1) scale(1,1.08)" font-size="11.8" text-anchor="end" fill="#222222" >0.25</text>
<line x1="52.2" y1="565.6" x2="57.5" y2="565.6" stroke="#000" stroke-width="1.8" />
<text transform="translate(47.2,569.8) scale(1,1.08)" font-size="11.8" text-anchor="end" fill="#222222" >0.50</text>
<line x1="52.2" y1="532.3" x2="57.5" y2="532.3" stroke="#000" stroke-width="1.8" />
<text transform="translate(47.2,536.5) scale(1,1.08)" font-size="11.8" text-anchor="end" fill="#222222" >0.75</text>
<line x1="52.2" y1="499" x2="57.5" y2="499" stroke="#000" stroke-width="1.8" />
<text transform="translate(47.2,503.2) scale(1,1.08)" font-size="11.8" text-anchor="end" fill="#222222" >1.00</text>
<line x1="67.9" y1="638.9" x2="67.9" y2="644.2" stroke="#000" stroke-width="1.8" />
<text transform="translate(56.61,662.1) scale(1,1.08)" font-size="11.8" fill="#222222">10</text>
<text x="69.73" y="655.8" font-size="8.3" fill="#222222">&#8722;2</text>
<line x1="98.45" y1="638.9" x2="98.45" y2="644.2" stroke="#000" stroke-width="1.8" />
<text transform="translate(87.16,662.1) scale(1,1.08)" font-size="11.8" fill="#222222">10</text>
<text x="100.28" y="655.8" font-size="8.3" fill="#222222">&#8722;1</text>
<line x1="129" y1="638.9" x2="129" y2="644.2" stroke="#000" stroke-width="1.8" />
<text transform="translate(120.13,662.1) scale(1,1.08)" font-size="11.8" fill="#222222">10</text>
<text x="133.25" y="655.8" font-size="8.3" fill="#222222">0</text>
<line x1="159.55" y1="638.9" x2="159.55" y2="644.2" stroke="#000" stroke-width="1.8" />
<text transform="translate(150.68,662.1) scale(1,1.08)" font-size="11.8" fill="#222222">10</text>
<text x="163.8" y="655.8" font-size="8.3" fill="#222222">1</text>
<line x1="190.1" y1="638.9" x2="190.1" y2="644.2" stroke="#000" stroke-width="1.8" />
<text transform="translate(181.23,662.1) scale(1,1.08)" font-size="11.8" fill="#222222">10</text>
<text x="194.35" y="655.8" font-size="8.3" fill="#222222">2</text>
<text x="136.5" y="679.1" font-size="12.4" text-anchor="middle" fill="#000000" >Total MOI</text>
<text transform="translate(12.4,575.2) rotate(-90)" font-size="12.6" fill="#000">f<tspan dy="2.3" font-size="8.8">Res</tspan></text>
<text x="0.2" y="486.8" font-size="14.0" text-anchor="start" fill="#000000" >G</text>
<line x1="302.4" y1="492.2" x2="302.4" y2="638.6" stroke="#d9d9d9" stroke-width="1.8" />
<line x1="332.95" y1="492.2" x2="332.95" y2="638.6" stroke="#d9d9d9" stroke-width="1.8" />
<line x1="363.5" y1="492.2" x2="363.5" y2="638.6" stroke="#d9d9d9" stroke-width="1.8" />
<line x1="394.05" y1="492.2" x2="394.05" y2="638.6" stroke="#d9d9d9" stroke-width="1.8" />
<line x1="424.6" y1="492.2" x2="424.6" y2="638.6" stroke="#d9d9d9" stroke-width="1.8" />
<line x1="292" y1="632.2" x2="450" y2="632.2" stroke="#d9d9d9" stroke-width="1.8" />
<line x1="292" y1="598.9" x2="450" y2="598.9" stroke="#d9d9d9" stroke-width="1.8" />
<line x1="292" y1="565.6" x2="450" y2="565.6" stroke="#d9d9d9" stroke-width="1.8" />
<line x1="292" y1="532.3" x2="450" y2="532.3" stroke="#d9d9d9" stroke-width="1.8" />
<line x1="292" y1="499" x2="450" y2="499" stroke="#d9d9d9" stroke-width="1.8" />
<path d="M302.4 499L305.6 499M300.92 501.7L305.6 499L300.92 496.3M315.9 499L318.9 499M314.22 501.7L318.9 499L314.22 496.3M329.4 499L332.4 499M327.72 501.7L332.4 499L327.72 496.3M342.9 499L345.9 499M341.22 501.7L345.9 499L341.22 496.3M356.4 499L359.4 499M354.72 501.7L359.4 499L354.72 496.3M369.9 499L370.4 499M365.72 501.7L370.4 499L365.72 496.3M383.4 499L383.9 499M379.22 501.7L383.9 499L379.22 496.3M396.9 499L397.1 499M392.42 501.7L397.1 499L392.42 496.3M410.4 499L409.4 499M414.08 496.3L409.4 499L414.08 501.7M423.9 499L422.3 499M426.98 496.3L422.3 499L426.98 501.7M437.4 499L435.7 499M440.38 496.3L435.7 499L440.38 501.7M302.4 512.32L306.03 510.63M302.93 515.05L306.03 510.63L300.65 510.16M315.9 512.32L319.53 510.63M316.43 515.05L319.53 510.63L314.15 510.16M329.4 512.32L333.03 510.63M329.93 515.05L333.03 510.63L327.65 510.16M342.9 512.32L346.53 510.63M343.43 515.05L346.53 510.63L341.15 510.16M356.4 512.32L360.03 510.63M356.93 515.05L360.03 510.63L354.65 510.16M369.9 512.32L370.5 512.27M366.07 515.37L370.5 512.27L365.6 509.99M383.4 512.32L383.89 512.41M378.82 514.25L383.89 512.41L379.76 508.94M396.9 512.32L397.33 512.57M391.93 512.57L397.33 512.57L394.63 507.89M410.4 512.32L410.4 512.82M407.7 508.14L410.4 512.82L413.1 508.14M423.9 512.32L423.13 512.53M426.95 508.71L423.13 512.53L428.34 513.92M437.4 512.32L436.9 512.32M441.58 509.62L436.9 512.32L441.58 515.02M302.4 525.64L305.47 523.41M303.28 528.34L305.47 523.41L300.1 523.97M315.9 525.64L318.97 523.41M316.78 528.34L318.97 523.41L313.6 523.97M329.4 525.64L332.47 523.41M330.28 528.34L332.47 523.41L327.1 523.97M342.9 525.64L345.97 523.41M343.78 528.34L345.97 523.41L340.6 523.97M356.4 525.64L359.31 523.52M357.12 528.46L359.31 523.52L353.94 524.09M369.9 525.64L370.42 525.34M367.72 530.02L370.42 525.34L365.02 525.34M383.4 525.64L383.9 525.64M379.22 528.34L383.9 525.64L379.22 522.94M396.9 525.64L397.39 525.73M392.32 527.57L397.39 525.73L393.26 522.26M410.4 525.64L410.65 526.07M405.97 523.37L410.65 526.07L410.65 520.67M423.9 525.64L423.4 525.64M428.08 522.94L423.4 525.64L428.08 528.34M437.4 525.64L436.9 525.64M441.58 522.94L436.9 525.64L441.58 528.34M302.4 538.96L305.04 535.82M304.1 541.14L305.04 535.82L299.96 537.67M315.9 538.96L318.54 535.82M317.6 541.14L318.54 535.82L313.46 537.67M329.4 538.96L332.04 535.82M331.1 541.14L332.04 535.82L326.96 537.67M342.9 538.96L345.47 535.9M344.53 541.21L345.47 535.9L340.4 537.74M356.4 538.96L358.84 536.05M357.9 541.37L358.84 536.05L353.77 537.9M369.9 538.96L370.47 538.14M370 543.52L370.47 538.14L365.58 540.42M383.4 538.96L383.92 538.66M381.22 543.34L383.92 538.66L378.52 538.66M396.9 538.96L397.33 538.71M394.63 543.39L397.33 538.71L391.93 538.71M410.4 538.96L410.57 538.49M411.51 543.81L410.57 538.49L406.43 541.96M423.9 538.96L423.41 538.87M428.48 537.03L423.41 538.87L427.54 542.34M437.4 538.96L436.91 538.87M441.98 537.03L436.91 538.87L441.04 542.34M302.4 552.28L304.24 547.74M304.99 553.08L304.24 547.74L299.98 551.06M315.9 552.28L317.74 547.74M318.49 553.08L317.74 547.74L313.48 551.06M329.4 552.28L331.24 547.74M331.99 553.08L331.24 547.74L326.98 551.06M342.9 552.28L344.66 547.92M345.41 553.27L344.66 547.92L340.41 551.25M356.4 552.28L358.05 548.2M358.8 553.55L358.05 548.2L353.79 551.52M369.9 552.28L370.31 551.15M371.25 556.47L370.31 551.15L366.17 554.62M383.4 552.28L383.86 551.62M383.39 557L383.86 551.62L378.96 553.91M396.9 552.28L397.2 551.76M397.2 557.16L397.2 551.76L392.52 554.46M410.4 552.28L410.4 551.78M413.1 556.46L410.4 551.78L407.7 556.46M423.9 552.28L423.47 552.03M428.87 552.03L423.47 552.03L426.17 556.71M437.4 552.28L436.92 552.15M442.13 550.75L436.92 552.15L440.74 555.97M302.4 565.6L303.39 559.99M305.24 565.06L303.39 559.99L299.92 564.12M315.9 565.6L316.89 559.99M318.74 565.06L316.89 559.99L313.42 564.12M329.4 565.6L330.39 559.99M332.24 565.06L330.39 559.99L326.92 564.12M342.9 565.6L343.84 560.28M345.68 565.36L343.84 560.28L340.37 564.42M356.4 565.6L357.27 560.68M359.12 565.75L357.27 560.68L353.8 564.81M369.9 565.6L370.31 564.05M371.71 569.27L370.31 564.05L366.5 567.87M383.4 565.6L383.74 564.66M384.68 569.98L383.74 564.66L379.61 568.13M396.9 565.6L397.11 564.83M398.5 570.04L397.11 564.83L393.29 568.65M410.4 565.6L410.36 565.1M413.45 569.53L410.36 565.1L408.07 570M423.9 565.6L423.49 565.31M428.87 565.78L423.49 565.31L425.77 570.21M437.4 565.6L436.92 565.47M442.13 564.07L436.92 565.47L440.74 569.29M302.4 578.92L303.16 571.66M305.36 576.59L303.16 571.66L299.99 576.03M315.9 578.92L316.66 571.66M318.86 576.59L316.66 571.66L313.49 576.03M329.4 578.92L330.16 571.66M332.36 576.59L330.16 571.66L326.99 576.03M342.9 578.92L343.53 572.95M345.72 577.89L343.53 572.95L340.35 577.32M356.4 578.92L356.92 573.95M359.12 578.88L356.92 573.95L353.75 578.32M369.9 578.92L370.44 576.38M372.11 581.51L370.44 576.38L366.83 580.39M383.4 578.92L383.61 577.74M385.46 582.81L383.61 577.74L380.14 581.87M396.9 578.92L396.93 578.12M399.46 582.89L396.93 578.12L394.07 582.7M410.4 578.92L410.31 578.43M413.78 582.56L410.31 578.43L408.47 583.5M423.9 578.92L423.52 578.6M428.83 579.54L423.52 578.6L425.36 583.67M437.4 578.92L436.93 578.75M442.25 577.81L436.93 578.75L440.4 582.89M302.4 592.24L302.87 583.35M305.32 588.16L302.87 583.35L299.92 587.88M315.9 592.24L316.37 583.35M318.82 588.16L316.37 583.35L313.42 587.88M329.4 592.24L329.87 583.35M332.32 588.16L329.87 583.35L326.92 587.88M342.9 592.24L343.29 584.75M345.74 589.56L343.29 584.75L340.35 589.28M356.4 592.24L356.71 586.25M359.17 591.06L356.71 586.25L353.77 590.78M369.9 592.24L370.27 587.96M372.56 592.85L370.27 587.96L367.18 592.38M383.4 592.24L383.4 590.84M386.1 595.52L383.4 590.84L380.7 595.52M396.9 592.24L396.9 591.44M399.6 596.12L396.9 591.44L394.2 596.12M410.4 592.24L410.27 591.76M414.09 595.58L410.27 591.76L408.87 596.97M423.9 592.24L423.55 591.89M428.76 593.28L423.55 591.89L424.94 597.1M437.4 592.24L436.93 592.07M442.25 591.13L436.93 592.07L440.4 596.21M302.4 605.56L302.58 595.46M305.19 600.18L302.58 595.46L299.8 600.09M315.9 605.56L316.08 595.46M318.69 600.18L316.08 595.46L313.3 600.09M329.4 605.56L329.58 595.46M332.19 600.18L329.58 595.46L326.8 600.09M342.9 605.56L343.06 596.56M345.68 601.28L343.06 596.56L340.28 601.19M356.4 605.56L356.54 597.76M359.15 602.48L356.54 597.76L353.75 602.39M369.9 605.56L369.9 600.16M372.6 604.84L369.9 600.16L367.2 604.84M383.4 605.56L383.4 603.96M386.1 608.64L383.4 603.96L380.7 608.64M396.9 605.56L396.9 604.76M399.6 609.44L396.9 604.76L394.2 609.44M410.4 605.56L410.23 605.09M414.37 608.56L410.23 605.09L409.29 610.41M423.9 605.56L423.58 605.18M428.65 607.02L423.58 605.18L424.52 610.49M437.4 605.56L436.93 605.39M442.25 604.45L436.93 605.39L440.4 609.53M302.4 618.88L302.4 608.28M305.1 612.96L302.4 608.28L299.7 612.96M315.9 618.88L315.9 608.28M318.6 612.96L315.9 608.28L313.2 612.96M329.4 618.88L329.4 608.28M332.1 612.96L329.4 608.28L326.7 612.96M342.9 618.88L342.9 609.38M345.6 614.06L342.9 609.38L340.2 614.06M356.4 618.88L356.4 610.68M359.1 615.36L356.4 610.68L353.7 615.36M369.9 618.88L369.9 613.58M372.6 618.26L369.9 613.58L367.2 618.26M383.4 618.88L383.4 617.28M386.1 621.96L383.4 617.28L380.7 621.96M396.9 618.88L396.9 618.08M399.6 622.76L396.9 618.08L394.2 622.76M410.4 618.88L410.23 618.41M414.37 621.88L410.23 618.41L409.29 623.73M423.9 618.88L423.58 618.5M428.65 620.34L423.58 618.5L424.52 623.81M437.4 618.88L436.93 618.71M442.25 617.77L436.93 618.71L440.4 622.85M302.4 632.2L302.2 632.2M306.88 629.5L302.2 632.2L306.88 634.9M315.9 632.2L315.7 632.2M320.38 629.5L315.7 632.2L320.38 634.9M329.4 632.2L329.2 632.2M333.88 629.5L329.2 632.2L333.88 634.9M342.9 632.2L342.7 632.2M347.38 629.5L342.7 632.2L347.38 634.9M356.4 632.2L356.2 632.2M360.88 629.5L356.2 632.2L360.88 634.9M369.9 632.2L369.7 632.2M374.38 629.5L369.7 632.2L374.38 634.9M383.4 632.2L383.2 632.2M387.88 629.5L383.2 632.2L387.88 634.9M396.9 632.2L396.7 632.2M401.38 629.5L396.7 632.2L401.38 634.9M410.4 632.2L410.2 632.2M414.88 629.5L410.2 632.2L414.88 634.9M423.9 632.2L423.7 632.2M428.38 629.5L423.7 632.2L428.38 634.9M437.4 632.2L437.2 632.2M441.88 629.5L437.2 632.2L441.88 634.9" fill="none" stroke="#000" stroke-width="1.65" stroke-linejoin="round" stroke-linecap="round"/>
<line x1="286.7" y1="632.2" x2="292" y2="632.2" stroke="#000" stroke-width="1.8" />
<text transform="translate(281.7,636.4) scale(1,1.08)" font-size="11.8" text-anchor="end" fill="#222222" >0.00</text>
<line x1="286.7" y1="598.9" x2="292" y2="598.9" stroke="#000" stroke-width="1.8" />
<text transform="translate(281.7,603.1) scale(1,1.08)" font-size="11.8" text-anchor="end" fill="#222222" >0.25</text>
<line x1="286.7" y1="565.6" x2="292" y2="565.6" stroke="#000" stroke-width="1.8" />
<text transform="translate(281.7,569.8) scale(1,1.08)" font-size="11.8" text-anchor="end" fill="#222222" >0.50</text>
<line x1="286.7" y1="532.3" x2="292" y2="532.3" stroke="#000" stroke-width="1.8" />
<text transform="translate(281.7,536.5) scale(1,1.08)" font-size="11.8" text-anchor="end" fill="#222222" >0.75</text>
<line x1="286.7" y1="499" x2="292" y2="499" stroke="#000" stroke-width="1.8" />
<text transform="translate(281.7,503.2) scale(1,1.08)" font-size="11.8" text-anchor="end" fill="#222222" >1.00</text>
<line x1="302.4" y1="638.9" x2="302.4" y2="644.2" stroke="#000" stroke-width="1.8" />
<text transform="translate(291.11,662.1) scale(1,1.08)" font-size="11.8" fill="#222222">10</text>
<text x="304.23" y="655.8" font-size="8.3" fill="#222222">&#8722;2</text>
<line x1="332.95" y1="638.9" x2="332.95" y2="644.2" stroke="#000" stroke-width="1.8" />
<text transform="translate(321.66,662.1) scale(1,1.08)" font-size="11.8" fill="#222222">10</text>
<text x="334.78" y="655.8" font-size="8.3" fill="#222222">&#8722;1</text>
<line x1="363.5" y1="638.9" x2="363.5" y2="644.2" stroke="#000" stroke-width="1.8" />
<text transform="translate(354.63,662.1) scale(1,1.08)" font-size="11.8" fill="#222222">10</text>
<text x="367.75" y="655.8" font-size="8.3" fill="#222222">0</text>
<line x1="394.05" y1="638.9" x2="394.05" y2="644.2" stroke="#000" stroke-width="1.8" />
<text transform="translate(385.18,662.1) scale(1,1.08)" font-size="11.8" fill="#222222">10</text>
<text x="398.3" y="655.8" font-size="8.3" fill="#222222">1</text>
<line x1="424.6" y1="638.9" x2="424.6" y2="644.2" stroke="#000" stroke-width="1.8" />
<text transform="translate(415.73,662.1) scale(1,1.08)" font-size="11.8" fill="#222222">10</text>
<text x="428.85" y="655.8" font-size="8.3" fill="#222222">2</text>
<text x="371" y="679.1" font-size="12.4" text-anchor="middle" fill="#000000" >Total MOI</text>
<text transform="translate(246.9,575.2) rotate(-90)" font-size="12.6" fill="#000">f<tspan dy="2.3" font-size="8.8">Res</tspan></text>
<text x="234.1" y="486.8" font-size="14.0" text-anchor="start" fill="#000000" >H</text>
<line x1="537.1" y1="492.2" x2="537.1" y2="638.6" stroke="#d9d9d9" stroke-width="1.8" />
<line x1="567.65" y1="492.2" x2="567.65" y2="638.6" stroke="#d9d9d9" stroke-width="1.8" />
<line x1="598.2" y1="492.2" x2="598.2" y2="638.6" stroke="#d9d9d9" stroke-width="1.8" />
<line x1="628.75" y1="492.2" x2="628.75" y2="638.6" stroke="#d9d9d9" stroke-width="1.8" />
<line x1="659.3" y1="492.2" x2="659.3" y2="638.6" stroke="#d9d9d9" stroke-width="1.8" />
<line x1="526.7" y1="632.2" x2="684.7" y2="632.2" stroke="#d9d9d9" stroke-width="1.8" />
<line x1="526.7" y1="598.9" x2="684.7" y2="598.9" stroke="#d9d9d9" stroke-width="1.8" />
<line x1="526.7" y1="565.6" x2="684.7" y2="565.6" stroke="#d9d9d9" stroke-width="1.8" />
<line x1="526.7" y1="532.3" x2="684.7" y2="532.3" stroke="#d9d9d9" stroke-width="1.8" />
<line x1="526.7" y1="499" x2="684.7" y2="499" stroke="#d9d9d9" stroke-width="1.8" />
<path d="M537.1 499L552.1 499M547.42 501.7L552.1 499L547.42 496.3M550.6 499L565.6 499M560.92 501.7L565.6 499L560.92 496.3M564.1 499L579.1 499M574.42 501.7L579.1 499L574.42 496.3M577.6 499L592.6 499M587.92 501.7L592.6 499L587.92 496.3M591.1 499L606.1 499M601.42 501.7L606.1 499L601.42 496.3M604.6 499L614.1 499M609.42 501.7L614.1 499L609.42 496.3M618.1 499L622.6 499M617.92 501.7L622.6 499L617.92 496.3M631.6 499L632.8 499M628.12 501.7L632.8 499L628.12 496.3M645.1 499L645.6 499M640.92 501.7L645.6 499L640.92 496.3M658.6 499L658.8 499M654.12 501.7L658.8 499L654.12 496.3M672.1 499L671.6 499M676.28 496.3L671.6 499L676.28 501.7M537.1 512.32L551.58 511.56M547.05 514.5L551.58 511.56L546.77 509.11M550.6 512.32L565.08 511.56M560.55 514.5L565.08 511.56L560.27 509.11M564.1 512.32L578.58 511.56M574.05 514.5L578.58 511.56L573.77 509.11M577.6 512.32L592.08 511.56M587.55 514.5L592.08 511.56L587.27 509.11M591.1 512.32L605.58 511.56M601.05 514.5L605.58 511.56L600.77 509.11M604.6 512.32L613.59 511.85M609.06 514.79L613.59 511.85L608.78 509.4M618.1 512.32L622.1 512.32M617.42 515.02L622.1 512.32L617.42 509.62M631.6 512.32L632.6 512.32M627.92 515.02L632.6 512.32L627.92 509.62M645.1 512.32L645.6 512.32M640.92 515.02L645.6 512.32L640.92 509.62M658.6 512.32L658.8 512.32M654.12 515.02L658.8 512.32L654.12 509.62M672.1 512.32L671.6 512.32M676.28 509.62L671.6 512.32L676.28 515.02M537.1 525.64L550.5 523.99M546.19 527.24L550.5 523.99L545.53 521.88M550.6 525.64L564 523.99M559.69 527.24L564 523.99L559.03 521.88M564.1 525.64L577.5 523.99M573.19 527.24L577.5 523.99L572.53 521.88M577.6 525.64L591 523.99M586.69 527.24L591 523.99L586.03 521.88M591.1 525.64L604.5 523.99M600.19 527.24L604.5 523.99L599.53 521.88M604.6 525.64L612.48 524.25M608.34 527.72L612.48 524.25L607.4 522.4M618.1 525.64L620.07 525.99M615 527.83L620.07 525.99L615.93 522.52M631.6 525.64L632.35 525.37M628.88 529.5L632.35 525.37L627.03 524.43M645.1 525.64L645.53 525.39M642.83 530.07L645.53 525.39L640.13 525.39M658.6 525.64L658.85 525.21M658.85 530.61L658.85 525.21L654.17 527.91M672.1 525.64L671.6 525.64M676.28 522.94L671.6 525.64L676.28 528.34M537.1 538.96L548.64 535.65M544.88 539.54L548.64 535.65L543.4 534.35M550.6 538.96L562.14 535.65M558.38 539.54L562.14 535.65L556.9 534.35M564.1 538.96L575.64 535.65M571.88 539.54L575.64 535.65L570.4 534.35M577.6 538.96L589.14 535.65M585.38 539.54L589.14 535.65L583.9 534.35M591.1 538.96L602.64 535.65M598.88 539.54L602.64 535.65L597.4 534.35M604.6 538.96L610.49 536.21M607.39 540.64L610.49 536.21L605.11 535.74M618.1 538.96L619.98 539.64M614.66 540.58L619.98 539.64L616.51 535.51M631.6 538.96L632.17 538.39M630.77 543.61L632.17 538.39L626.95 539.79M645.1 538.96L645.42 538.58M644.48 543.89L645.42 538.58L640.35 540.42M658.6 538.96L658.56 538.46M661.65 542.89L658.56 538.46L656.27 543.36M672.1 538.96L671.6 538.92M676.5 536.63L671.6 538.92L676.03 542.01M537.1 552.28L547.76 547.97M544.44 552.23L547.76 547.97L542.42 547.22M550.6 552.28L561.26 547.97M557.94 552.23L561.26 547.97L555.92 547.22M564.1 552.28L574.76 547.97M571.44 552.23L574.76 547.97L569.42 547.22M577.6 552.28L588.26 547.97M584.94 552.23L588.26 547.97L582.92 547.22M591.1 552.28L601.76 547.97M598.44 552.23L601.76 547.97L596.42 547.22M604.6 552.28L609.11 549.13M606.82 554.02L609.11 549.13L603.73 549.6M618.1 552.28L619.1 550.55M619.1 555.95L619.1 550.55L614.42 553.25M631.6 552.28L632 551.59M632 556.99L632 551.59L627.32 554.29M645.1 552.28L645.27 551.81M646.21 557.13L645.27 551.81L641.13 555.28M658.6 552.28L658.51 551.79M661.98 555.92L658.51 551.79L656.67 556.86M672.1 552.28L671.62 552.15M676.83 550.75L671.62 552.15L675.44 555.97M537.1 565.6L546.72 560.27M543.94 564.9L546.72 560.27L541.32 560.17M550.6 565.6L560.22 560.27M557.44 564.9L560.22 560.27L554.82 560.17M564.1 565.6L573.72 560.27M570.94 564.9L573.72 560.27L568.32 560.17M577.6 565.6L587.22 560.27M584.44 564.9L587.22 560.27L581.82 560.17M591.1 565.6L600.72 560.27M597.94 564.9L600.72 560.27L595.32 560.17M604.6 565.6L608.43 562.39M606.58 567.46L608.43 562.39L603.11 563.32M618.1 565.6L618.78 563.72M619.72 569.04L618.78 563.72L614.65 567.19M631.6 565.6L631.81 564.83M633.2 570.04L631.81 564.83L627.99 568.65M645.1 565.6L645.1 565.1M647.8 569.78L645.1 565.1L642.4 569.78M658.6 565.6L658.31 565.19M663.21 567.47L658.31 565.19L658.78 570.57M672.1 565.6L671.63 565.43M676.95 564.49L671.63 565.43L675.1 569.57M537.1 578.92L544.98 571.83M543.31 576.96L544.98 571.83L539.7 572.95M550.6 578.92L558.48 571.83M556.81 576.96L558.48 571.83L553.2 572.95M564.1 578.92L571.98 571.83M570.31 576.96L571.98 571.83L566.7 572.95M577.6 578.92L585.48 571.83M583.81 576.96L585.48 571.83L580.2 572.95M591.1 578.92L598.98 571.83M597.31 576.96L598.98 571.83L593.7 572.95M604.6 578.92L608.04 574.01M607.57 579.38L608.04 574.01L603.15 576.29M618.1 578.92L618.48 576.75M620.33 581.83L618.48 576.75L615.01 580.89M631.6 578.92L631.67 578.12M633.95 583.02L631.67 578.12L628.57 582.55M645.1 578.92L645.06 578.42M648.15 582.85L645.06 578.42L642.77 583.32M658.6 578.92L658.28 578.54M663.35 580.38L658.28 578.54L659.22 583.85M672.1 578.92L671.63 578.75M676.95 577.81L671.63 578.75L675.1 582.89M537.1 592.24L543.87 583.57M543.12 588.92L543.87 583.57L538.87 585.59M550.6 592.24L557.37 583.57M556.62 588.92L557.37 583.57L552.37 585.59M564.1 592.24L570.87 583.57M570.12 588.92L570.87 583.57L565.87 585.59M577.6 592.24L584.37 583.57M583.62 588.92L584.37 583.57L579.37 585.59M591.1 592.24L597.87 583.57M597.12 588.92L597.87 583.57L592.87 585.59M604.6 592.24L607.14 586.8M607.61 592.18L607.14 586.8L602.71 589.9M618.1 592.24L618.19 589.74M620.72 594.51L618.19 589.74L615.33 594.32M631.6 592.24L631.6 591.44M634.3 596.12L631.6 591.44L628.9 596.12M645.1 592.24L645.01 591.75M648.48 595.88L645.01 591.75L643.17 596.82M658.6 592.24L658.25 591.89M663.46 593.28L658.25 591.89L659.64 597.1M672.1 592.24L671.63 592.07M676.95 591.13L671.63 592.07L675.1 596.21M537.1 605.56L541.75 596.03M542.12 601.42L541.75 596.03L537.27 599.05M550.6 605.56L555.25 596.03M555.62 601.42L555.25 596.03L550.77 599.05M564.1 605.56L568.75 596.03M569.12 601.42L568.75 596.03L564.27 599.05M577.6 605.56L582.25 596.03M582.62 601.42L582.25 596.03L577.77 599.05M591.1 605.56L595.75 596.03M596.12 601.42L595.75 596.03L591.27 599.05M604.6 605.56L605.82 598.67M607.66 603.74L605.82 598.67L602.34 602.8M618.1 605.56L618.1 603.06M620.8 607.74L618.1 603.06L615.4 607.74M631.6 605.56L631.53 604.76M634.63 609.19L631.53 604.76L629.25 609.66M645.1 605.56L644.97 605.08M648.79 608.9L644.97 605.08L643.57 610.29M658.6 605.56L658.25 605.21M663.46 606.6L658.25 605.21L659.64 610.42M672.1 605.56L671.63 605.39M676.95 604.45L671.63 605.39L675.1 609.53M537.1 618.88L539.76 608.21M541.25 613.4L539.76 608.21L536.01 612.09M550.6 618.88L553.26 608.21M554.75 613.4L553.26 608.21L549.51 612.09M564.1 618.88L566.76 608.21M568.25 613.4L566.76 608.21L563.01 612.09M577.6 618.88L580.26 608.21M581.75 613.4L580.26 608.21L576.51 612.09M591.1 618.88L593.76 608.21M595.25 613.4L593.76 608.21L590.01 612.09M604.6 618.88L605.25 611.41M607.54 616.3L605.25 611.41L602.16 615.83M618.1 618.88L618.1 616.38M620.8 621.06L618.1 616.38L615.4 621.06M631.6 618.88L631.53 618.08M634.63 622.51L631.53 618.08L629.25 622.98M645.1 618.88L644.93 618.41M649.07 621.88L644.93 618.41L643.99 623.73M658.6 618.88L658.25 618.53M663.46 619.92L658.25 618.53L659.64 623.74M672.1 618.88L671.63 618.71M676.95 617.77L671.63 618.71L675.1 622.85M537.1 632.2L536.9 632.2M541.58 629.5L536.9 632.2L541.58 634.9M550.6 632.2L550.4 632.2M555.08 629.5L550.4 632.2L555.08 634.9M564.1 632.2L563.9 632.2M568.58 629.5L563.9 632.2L568.58 634.9M577.6 632.2L577.4 632.2M582.08 629.5L577.4 632.2L582.08 634.9M591.1 632.2L590.9 632.2M595.58 629.5L590.9 632.2L595.58 634.9M604.6 632.2L604.4 632.2M609.08 629.5L604.4 632.2L609.08 634.9M618.1 632.2L617.9 632.2M622.58 629.5L617.9 632.2L622.58 634.9M631.6 632.2L631.4 632.2M636.08 629.5L631.4 632.2L636.08 634.9M645.1 632.2L644.9 632.2M649.58 629.5L644.9 632.2L649.58 634.9M658.6 632.2L658.4 632.2M663.08 629.5L658.4 632.2L663.08 634.9M672.1 632.2L671.9 632.2M676.58 629.5L671.9 632.2L676.58 634.9" fill="none" stroke="#000" stroke-width="1.65" stroke-linejoin="round" stroke-linecap="round"/>
<line x1="521.4" y1="632.2" x2="526.7" y2="632.2" stroke="#000" stroke-width="1.8" />
<text transform="translate(516.4,636.4) scale(1,1.08)" font-size="11.8" text-anchor="end" fill="#222222" >0.00</text>
<line x1="521.4" y1="598.9" x2="526.7" y2="598.9" stroke="#000" stroke-width="1.8" />
<text transform="translate(516.4,603.1) scale(1,1.08)" font-size="11.8" text-anchor="end" fill="#222222" >0.25</text>
<line x1="521.4" y1="565.6" x2="526.7" y2="565.6" stroke="#000" stroke-width="1.8" />
<text transform="translate(516.4,569.8) scale(1,1.08)" font-size="11.8" text-anchor="end" fill="#222222" >0.50</text>
<line x1="521.4" y1="532.3" x2="526.7" y2="532.3" stroke="#000" stroke-width="1.8" />
<text transform="translate(516.4,536.5) scale(1,1.08)" font-size="11.8" text-anchor="end" fill="#222222" >0.75</text>
<line x1="521.4" y1="499" x2="526.7" y2="499" stroke="#000" stroke-width="1.8" />
<text transform="translate(516.4,503.2) scale(1,1.08)" font-size="11.8" text-anchor="end" fill="#222222" >1.00</text>
<line x1="537.1" y1="638.9" x2="537.1" y2="644.2" stroke="#000" stroke-width="1.8" />
<text transform="translate(525.81,662.1) scale(1,1.08)" font-size="11.8" fill="#222222">10</text>
<text x="538.93" y="655.8" font-size="8.3" fill="#222222">&#8722;2</text>
<line x1="567.65" y1="638.9" x2="567.65" y2="644.2" stroke="#000" stroke-width="1.8" />
<text transform="translate(556.36,662.1) scale(1,1.08)" font-size="11.8" fill="#222222">10</text>
<text x="569.48" y="655.8" font-size="8.3" fill="#222222">&#8722;1</text>
<line x1="598.2" y1="638.9" x2="598.2" y2="644.2" stroke="#000" stroke-width="1.8" />
<text transform="translate(589.33,662.1) scale(1,1.08)" font-size="11.8" fill="#222222">10</text>
<text x="602.45" y="655.8" font-size="8.3" fill="#222222">0</text>
<line x1="628.75" y1="638.9" x2="628.75" y2="644.2" stroke="#000" stroke-width="1.8" />
<text transform="translate(619.88,662.1) scale(1,1.08)" font-size="11.8" fill="#222222">10</text>
<text x="633" y="655.8" font-size="8.3" fill="#222222">1</text>
<line x1="659.3" y1="638.9" x2="659.3" y2="644.2" stroke="#000" stroke-width="1.8" />
<text transform="translate(650.43,662.1) scale(1,1.08)" font-size="11.8" fill="#222222">10</text>
<text x="663.55" y="655.8" font-size="8.3" fill="#222222">2</text>
<text x="605.7" y="679.1" font-size="12.4" text-anchor="middle" fill="#000000" >Total MOI</text>
<text transform="translate(481.6,575.2) rotate(-90)" font-size="12.6" fill="#000">f<tspan dy="2.3" font-size="8.8">Res</tspan></text>
<text x="471.3" y="486.8" font-size="14.0" text-anchor="start" fill="#000000" >I</text>
<line x1="129.95" y1="704.4" x2="129.95" y2="876.1" stroke="#e4e4e4" stroke-width="0.75" />
<line x1="253.45" y1="704.4" x2="253.45" y2="876.1" stroke="#e4e4e4" stroke-width="0.75" />
<line x1="45.6" y1="850.3" x2="332.3" y2="850.3" stroke="#e4e4e4" stroke-width="0.75" />
<line x1="45.6" y1="789.3" x2="332.3" y2="789.3" stroke="#e4e4e4" stroke-width="0.75" />
<line x1="45.6" y1="728.3" x2="332.3" y2="728.3" stroke="#e4e4e4" stroke-width="0.75" />
<line x1="68.2" y1="704.4" x2="68.2" y2="876.1" stroke="#d3d3d3" stroke-width="1.0" />
<line x1="191.7" y1="704.4" x2="191.7" y2="876.1" stroke="#d3d3d3" stroke-width="1.0" />
<line x1="315.2" y1="704.4" x2="315.2" y2="876.1" stroke="#d3d3d3" stroke-width="1.0" />
<line x1="45.6" y1="819.8" x2="332.3" y2="819.8" stroke="#d3d3d3" stroke-width="1.0" />
<line x1="45.6" y1="758.8" x2="332.3" y2="758.8" stroke="#d3d3d3" stroke-width="1.0" />
<clipPath id="cj"><rect x="45.6" y="704.4" width="286.7" height="171.70000000000005"/></clipPath>
<g clip-path="url(#cj)">
<circle cx="273.9" cy="839.8" r="1.8" class="q18"/>
<circle cx="312.1" cy="794.6" r="1.8" class="q18"/>
<circle cx="226.1" cy="855.5" r="1.8" class="q1b"/>
<circle cx="69.8" cy="855.9" r="1.8" class="q2"/>
<circle cx="260.1" cy="868.3" r="1.8" class="q1b"/>
<circle cx="288.4" cy="828.5" r="1.8" class="q19"/>
<circle cx="154.7" cy="866.8" r="1.8" class="q0b"/>
<circle cx="282.4" cy="796.1" r="1.8" class="q17"/>
<circle cx="224.1" cy="844.3" r="1.8" class="q18"/>
<circle cx="184.9" cy="866.2" r="1.8" class="q0b"/>
<circle cx="152.9" cy="866.9" r="1.8" class="q0b"/>
<circle cx="212.2" cy="815.0" r="1.8" class="q20"/>
<circle cx="93.9" cy="846.8" r="1.8" class="q2"/>
<circle cx="319.2" cy="830.3" r="1.8" class="q19"/>
<circle cx="224.2" cy="776.3" r="1.8" class="q20"/>
<circle cx="313.5" cy="776.5" r="1.8" class="q20"/>
<circle cx="207.6" cy="854.6" r="1.8" class="q0b"/>
<circle cx="265.3" cy="794.4" r="1.8" class="q20"/>
<circle cx="157.8" cy="808.2" r="1.8" class="q19"/>
<circle cx="168.2" cy="867.1" r="1.8" class="q1b"/>
<circle cx="292.8" cy="797.8" r="1.8" class="q18"/>
<circle cx="195.1" cy="819.0" r="1.8" class="q16"/>
<circle cx="197.8" cy="814.5" r="1.8" class="q17"/>
<circle cx="253.6" cy="833.0" r="1.8" class="q17"/>
<circle cx="104.6" cy="828.6" r="1.8" class="q9"/>
<circle cx="273.7" cy="831.8" r="1.8" class="q16"/>
<circle cx="147.2" cy="819.9" r="1.8" class="q15"/>
<circle cx="207.9" cy="794.0" r="1.8" class="q20"/>
<circle cx="123.1" cy="829.5" r="1.8" class="q12"/>
<circle cx="200.0" cy="828.8" r="1.8" class="q18"/>
<circle cx="132.2" cy="842.4" r="1.8" class="q7"/>
<circle cx="207.4" cy="813.0" r="1.8" class="q18"/>
<circle cx="246.6" cy="787.1" r="1.8" class="q20"/>
<circle cx="176.2" cy="866.3" r="1.8" class="q1b"/>
<circle cx="251.3" cy="783.3" r="1.8" class="q20"/>
<circle cx="70.5" cy="856.0" r="1.8" class="q0"/>
<circle cx="100.0" cy="831.9" r="1.8" class="q6"/>
<circle cx="227.5" cy="837.5" r="1.8" class="q16"/>
<circle cx="245.4" cy="817.6" r="1.8" class="q18"/>
<circle cx="263.3" cy="837.1" r="1.8" class="q15"/>
<circle cx="179.0" cy="854.9" r="1.8" class="q1b"/>
<circle cx="318.2" cy="811.1" r="1.8" class="q20"/>
<circle cx="219.7" cy="865.9" r="1.8" class="q0b"/>
<circle cx="144.8" cy="808.5" r="1.8" class="q16"/>
<circle cx="144.1" cy="810.0" r="1.8" class="q18"/>
<circle cx="142.3" cy="825.7" r="1.8" class="q17"/>
<circle cx="192.9" cy="831.2" r="1.8" class="q17"/>
<circle cx="292.4" cy="801.2" r="1.8" class="q20"/>
<circle cx="114.4" cy="844.9" r="1.8" class="q8"/>
<circle cx="184.7" cy="760.5" r="1.8" class="q20"/>
<circle cx="85.7" cy="851.2" r="1.8" class="q0"/>
<circle cx="125.2" cy="855.4" r="1.8" class="q1b"/>
<circle cx="118.5" cy="867.1" r="1.8" class="q1b"/>
<circle cx="74.6" cy="844.8" r="1.8" class="q1"/>
<circle cx="74.6" cy="853.5" r="1.8" class="q1"/>
<circle cx="175.9" cy="846.8" r="1.8" class="q16"/>
<circle cx="103.4" cy="819.3" r="1.8" class="q14"/>
<circle cx="64.2" cy="865.8" r="1.8" class="q1b"/>
<circle cx="125.4" cy="835.6" r="1.8" class="q13"/>
<circle cx="178.8" cy="844.3" r="1.8" class="q13"/>
<circle cx="124.5" cy="866.6" r="1.8" class="q1b"/>
<circle cx="193.1" cy="837.1" r="1.8" class="q16"/>
<circle cx="314.9" cy="784.8" r="1.8" class="q20"/>
<circle cx="227.3" cy="840.0" r="1.8" class="q18"/>
<circle cx="249.9" cy="830.4" r="1.8" class="q20"/>
<circle cx="92.0" cy="847.2" r="1.8" class="q0"/>
<circle cx="85.7" cy="866.8" r="1.8" class="q0b"/>
<circle cx="192.4" cy="804.8" r="1.8" class="q19"/>
<circle cx="140.2" cy="827.7" r="1.8" class="q17"/>
<circle cx="192.0" cy="845.3" r="1.8" class="q18"/>
<circle cx="138.4" cy="846.8" r="1.8" class="q12"/>
<circle cx="147.9" cy="866.7" r="1.8" class="q1b"/>
<circle cx="93.6" cy="846.2" r="1.8" class="q0"/>
<circle cx="120.0" cy="855.7" r="1.8" class="q1b"/>
<circle cx="88.1" cy="853.6" r="1.8" class="q0"/>
<circle cx="124.6" cy="841.5" r="1.8" class="q8"/>
<circle cx="142.0" cy="834.0" r="1.8" class="q14"/>
<circle cx="239.4" cy="780.9" r="1.8" class="q20"/>
<circle cx="122.9" cy="808.6" r="1.8" class="q16"/>
<circle cx="101.3" cy="836.6" r="1.8" class="q6"/>
<circle cx="144.8" cy="816.8" r="1.8" class="q17"/>
<circle cx="235.6" cy="834.0" r="1.8" class="q14"/>
<circle cx="181.4" cy="837.0" r="1.8" class="q17"/>
<circle cx="282.2" cy="805.2" r="1.8" class="q17"/>
<circle cx="250.2" cy="780.3" r="1.8" class="q20"/>
<circle cx="264.2" cy="786.5" r="1.8" class="q20"/>
<circle cx="287.3" cy="840.5" r="1.8" class="q16"/>
<circle cx="85.6" cy="853.3" r="1.8" class="q0"/>
<circle cx="203.8" cy="837.8" r="1.8" class="q16"/>
<circle cx="318.2" cy="776.8" r="1.8" class="q20"/>
<circle cx="130.7" cy="824.3" r="1.8" class="q14"/>
<circle cx="141.3" cy="824.7" r="1.8" class="q17"/>
<circle cx="173.1" cy="836.2" r="1.8" class="q19"/>
<circle cx="153.0" cy="833.2" r="1.8" class="q12"/>
<circle cx="304.9" cy="827.3" r="1.8" class="q17"/>
<circle cx="233.0" cy="844.1" r="1.8" class="q17"/>
<circle cx="203.3" cy="840.6" r="1.8" class="q15"/>
<circle cx="304.6" cy="819.0" r="1.8" class="q18"/>
<circle cx="147.2" cy="855.2" r="1.8" class="q0b"/>
<circle cx="151.5" cy="821.2" r="1.8" class="q16"/>
<circle cx="167.5" cy="829.2" r="1.8" class="q16"/>
<circle cx="68.2" cy="856.7" r="1.8" class="q2"/>
<circle cx="179.1" cy="844.3" r="1.8" class="q15"/>
<circle cx="203.9" cy="802.5" r="1.8" class="q18"/>
<circle cx="128.2" cy="855.5" r="1.8" class="q0b"/>
<circle cx="173.3" cy="816.1" r="1.8" class="q20"/>
<circle cx="121.2" cy="810.6" r="1.8" class="q19"/>
<circle cx="164.9" cy="866.6" r="1.8" class="q1b"/>
<circle cx="91.2" cy="842.1" r="1.8" class="q2"/>
<circle cx="319.1" cy="811.7" r="1.8" class="q20"/>
<circle cx="275.7" cy="775.6" r="1.8" class="q20"/>
<circle cx="201.8" cy="839.8" r="1.8" class="q16"/>
<circle cx="247.0" cy="830.5" r="1.8" class="q18"/>
<circle cx="141.6" cy="836.1" r="1.8" class="q12"/>
<circle cx="319.0" cy="751.2" r="1.8" class="q20"/>
<circle cx="176.9" cy="838.0" r="1.8" class="q18"/>
<circle cx="76.4" cy="857.2" r="1.8" class="q2"/>
<circle cx="97.8" cy="866.6" r="1.8" class="q1b"/>
<circle cx="232.0" cy="810.8" r="1.8" class="q17"/>
<circle cx="280.3" cy="838.8" r="1.8" class="q17"/>
<circle cx="209.5" cy="843.8" r="1.8" class="q16"/>
<circle cx="262.4" cy="856.1" r="1.8" class="q1b"/>
<circle cx="203.2" cy="818.9" r="1.8" class="q19"/>
<circle cx="246.9" cy="814.3" r="1.8" class="q20"/>
<circle cx="128.5" cy="866.4" r="1.8" class="q0b"/>
<circle cx="282.7" cy="793.5" r="1.8" class="q20"/>
<circle cx="235.5" cy="832.7" r="1.8" class="q18"/>
<circle cx="314.2" cy="778.6" r="1.8" class="q19"/>
<circle cx="69.2" cy="829.5" r="1.8" class="q3"/>
<circle cx="122.5" cy="867.3" r="1.8" class="q1b"/>
<circle cx="283.1" cy="740.9" r="1.8" class="q20"/>
<circle cx="281.6" cy="787.3" r="1.8" class="q17"/>
<circle cx="277.0" cy="771.1" r="1.8" class="q20"/>
<circle cx="96.7" cy="844.6" r="1.8" class="q3"/>
<circle cx="263.9" cy="840.8" r="1.8" class="q19"/>
<circle cx="100.3" cy="824.5" r="1.8" class="q11"/>
<circle cx="286.6" cy="785.7" r="1.8" class="q20"/>
<circle cx="167.4" cy="823.1" r="1.8" class="q17"/>
<circle cx="115.3" cy="840.6" r="1.8" class="q8"/>
<circle cx="228.5" cy="770.8" r="1.8" class="q20"/>
<circle cx="287.1" cy="807.9" r="1.8" class="q19"/>
<circle cx="272.8" cy="809.8" r="1.8" class="q20"/>
<circle cx="316.1" cy="855.8" r="1.8" class="q0b"/>
<circle cx="92.8" cy="836.1" r="1.8" class="q6"/>
<circle cx="140.7" cy="825.2" r="1.8" class="q15"/>
<circle cx="208.9" cy="785.7" r="1.8" class="q20"/>
<circle cx="306.7" cy="817.9" r="1.8" class="q20"/>
<circle cx="303.6" cy="779.8" r="1.8" class="q20"/>
<circle cx="182.6" cy="825.9" r="1.8" class="q20"/>
<circle cx="234.6" cy="807.7" r="1.8" class="q19"/>
<circle cx="145.1" cy="823.0" r="1.8" class="q16"/>
<circle cx="193.5" cy="815.0" r="1.8" class="q19"/>
<circle cx="209.1" cy="838.2" r="1.8" class="q15"/>
<circle cx="91.0" cy="853.4" r="1.8" class="q0"/>
<circle cx="140.9" cy="795.3" r="1.8" class="q16"/>
<circle cx="233.5" cy="829.2" r="1.8" class="q19"/>
<circle cx="153.5" cy="835.8" r="1.8" class="q13"/>
<circle cx="299.7" cy="772.5" r="1.8" class="q20"/>
<circle cx="155.8" cy="819.3" r="1.8" class="q15"/>
<circle cx="299.5" cy="769.5" r="1.8" class="q19"/>
<circle cx="272.5" cy="866.5" r="1.8" class="q0b"/>
<circle cx="219.0" cy="840.9" r="1.8" class="q17"/>
<circle cx="195.1" cy="824.1" r="1.8" class="q15"/>
<circle cx="183.8" cy="785.5" r="1.8" class="q20"/>
<circle cx="262.6" cy="793.5" r="1.8" class="q20"/>
<circle cx="318.9" cy="810.6" r="1.8" class="q20"/>
<circle cx="66.9" cy="849.8" r="1.8" class="q0"/>
<circle cx="93.7" cy="850.2" r="1.8" class="q0"/>
<circle cx="116.3" cy="841.7" r="1.8" class="q8"/>
<circle cx="119.2" cy="824.6" r="1.8" class="q13"/>
<circle cx="184.8" cy="808.6" r="1.8" class="q19"/>
<circle cx="274.1" cy="855.6" r="1.8" class="q0b"/>
<circle cx="254.3" cy="803.4" r="1.8" class="q20"/>
<circle cx="265.8" cy="831.0" r="1.8" class="q20"/>
<circle cx="100.1" cy="842.9" r="1.8" class="q0"/>
<circle cx="173.0" cy="837.1" r="1.8" class="q15"/>
<circle cx="233.3" cy="809.9" r="1.8" class="q18"/>
<circle cx="293.0" cy="866.1" r="1.8" class="q0b"/>
<circle cx="222.9" cy="837.5" r="1.8" class="q16"/>
<circle cx="224.8" cy="813.4" r="1.8" class="q19"/>
<circle cx="172.5" cy="821.1" r="1.8" class="q19"/>
<circle cx="158.4" cy="806.0" r="1.8" class="q19"/>
<circle cx="185.2" cy="855.8" r="1.8" class="q1b"/>
<circle cx="200.7" cy="810.1" r="1.8" class="q18"/>
<circle cx="231.6" cy="784.3" r="1.8" class="q18"/>
<circle cx="245.6" cy="855.4" r="1.8" class="q0b"/>
<circle cx="118.0" cy="855.7" r="1.8" class="q1b"/>
<circle cx="63.4" cy="866.6" r="1.8" class="q0b"/>
<circle cx="140.7" cy="824.4" r="1.8" class="q19"/>
<circle cx="76.4" cy="865.9" r="1.8" class="q0b"/>
<circle cx="72.5" cy="833.0" r="1.8" class="q0"/>
<circle cx="127.5" cy="841.0" r="1.8" class="q7"/>
<circle cx="205.8" cy="827.6" r="1.8" class="q19"/>
<circle cx="96.4" cy="822.7" r="1.8" class="q13"/>
<circle cx="147.6" cy="847.1" r="1.8" class="q12"/>
<circle cx="114.6" cy="827.0" r="1.8" class="q10"/>
<circle cx="290.7" cy="786.3" r="1.8" class="q20"/>
<circle cx="230.9" cy="800.6" r="1.8" class="q19"/>
<circle cx="260.8" cy="866.9" r="1.8" class="q1b"/>
<circle cx="68.3" cy="847.0" r="1.8" class="q1"/>
<circle cx="306.9" cy="790.0" r="1.8" class="q20"/>
<circle cx="112.6" cy="821.9" r="1.8" class="q17"/>
<circle cx="93.1" cy="852.2" r="1.8" class="q0"/>
<circle cx="69.3" cy="855.9" r="1.8" class="q0"/>
<circle cx="59.7" cy="846.4" r="1.8" class="q0"/>
<circle cx="58.2" cy="840.1" r="1.8" class="q1"/>
<circle cx="124.2" cy="846.7" r="1.8" class="q7"/>
<circle cx="121.3" cy="818.1" r="1.8" class="q17"/>
<circle cx="115.1" cy="818.9" r="1.8" class="q14"/>
<circle cx="117.4" cy="835.1" r="1.8" class="q10"/>
<circle cx="114.3" cy="804.0" r="1.8" class="q18"/>
<circle cx="59.5" cy="853.1" r="1.8" class="q2"/>
<circle cx="171.2" cy="834.0" r="1.8" class="q17"/>
<circle cx="245.6" cy="771.5" r="1.8" class="q20"/>
<circle cx="178.2" cy="812.5" r="1.8" class="q19"/>
<circle cx="60.8" cy="844.6" r="1.8" class="q1"/>
<circle cx="203.4" cy="844.5" r="1.8" class="q19"/>
<circle cx="308.2" cy="837.7" r="1.8" class="q17"/>
<circle cx="222.5" cy="780.4" r="1.8" class="q20"/>
<circle cx="147.0" cy="835.4" r="1.8" class="q12"/>
<circle cx="194.2" cy="810.5" r="1.8" class="q20"/>
<circle cx="155.3" cy="822.7" r="1.8" class="q13"/>
<circle cx="127.3" cy="830.1" r="1.8" class="q13"/>
<circle cx="281.7" cy="759.1" r="1.8" class="q20"/>
<circle cx="308.3" cy="754.4" r="1.8" class="q20"/>
<circle cx="118.4" cy="839.5" r="1.8" class="q10"/>
<circle cx="67.2" cy="852.4" r="1.8" class="q2"/>
<circle cx="303.5" cy="766.5" r="1.8" class="q20"/>
<circle cx="140.1" cy="836.2" r="1.8" class="q14"/>
<circle cx="231.6" cy="841.1" r="1.8" class="q18"/>
<circle cx="97.7" cy="823.8" r="1.8" class="q10"/>
<circle cx="292.6" cy="798.5" r="1.8" class="q20"/>
<circle cx="247.9" cy="822.7" r="1.8" class="q19"/>
<circle cx="278.4" cy="836.7" r="1.8" class="q15"/>
<circle cx="250.3" cy="837.7" r="1.8" class="q20"/>
<circle cx="236.8" cy="841.2" r="1.8" class="q17"/>
<circle cx="58.1" cy="839.4" r="1.8" class="q2"/>
<circle cx="74.5" cy="854.8" r="1.8" class="q0"/>
<circle cx="227.7" cy="839.2" r="1.8" class="q20"/>
<circle cx="87.2" cy="827.3" r="1.8" class="q7"/>
<circle cx="116.6" cy="828.5" r="1.8" class="q10"/>
<circle cx="238.4" cy="766.2" r="1.8" class="q20"/>
<circle cx="307.0" cy="805.0" r="1.8" class="q20"/>
<circle cx="146.1" cy="827.8" r="1.8" class="q15"/>
<circle cx="284.9" cy="772.7" r="1.8" class="q20"/>
<circle cx="307.5" cy="761.0" r="1.8" class="q19"/>
<circle cx="239.1" cy="811.0" r="1.8" class="q17"/>
<circle cx="258.6" cy="827.2" r="1.8" class="q19"/>
<circle cx="224.1" cy="788.8" r="1.8" class="q19"/>
<circle cx="299.6" cy="823.2" r="1.8" class="q20"/>
<circle cx="212.5" cy="801.9" r="1.8" class="q20"/>
<circle cx="256.0" cy="788.2" r="1.8" class="q20"/>
<circle cx="67.7" cy="855.1" r="1.8" class="q0b"/>
<circle cx="285.4" cy="841.3" r="1.8" class="q18"/>
<circle cx="177.4" cy="845.1" r="1.8" class="q15"/>
<circle cx="287.4" cy="855.7" r="1.8" class="q1b"/>
<circle cx="253.0" cy="855.8" r="1.8" class="q1b"/>
<circle cx="152.8" cy="789.9" r="1.8" class="q19"/>
<circle cx="299.5" cy="866.7" r="1.8" class="q0b"/>
<circle cx="140.7" cy="813.2" r="1.8" class="q16"/>
<circle cx="89.7" cy="846.1" r="1.8" class="q0"/>
<circle cx="141.0" cy="814.0" r="1.8" class="q18"/>
<circle cx="281.5" cy="791.2" r="1.8" class="q20"/>
<circle cx="154.7" cy="831.0" r="1.8" class="q17"/>
<circle cx="90.9" cy="840.0" r="1.8" class="q3"/>
<circle cx="234.1" cy="836.3" r="1.8" class="q18"/>
<circle cx="251.4" cy="815.3" r="1.8" class="q20"/>
<circle cx="119.7" cy="828.5" r="1.8" class="q13"/>
<circle cx="238.8" cy="854.5" r="1.8" class="q1b"/>
<circle cx="228.8" cy="790.1" r="1.8" class="q20"/>
<circle cx="69.3" cy="867.2" r="1.8" class="q1b"/>
<circle cx="102.3" cy="853.1" r="1.8" class="q0"/>
<circle cx="153.2" cy="847.8" r="1.8" class="q14"/>
<circle cx="99.8" cy="852.9" r="1.8" class="q0"/>
<circle cx="104.8" cy="834.7" r="1.8" class="q6"/>
<circle cx="165.8" cy="792.9" r="1.8" class="q20"/>
<circle cx="302.7" cy="811.3" r="1.8" class="q20"/>
<circle cx="222.1" cy="828.9" r="1.8" class="q19"/>
<circle cx="77.0" cy="854.5" r="1.8" class="q1b"/>
<circle cx="155.2" cy="821.3" r="1.8" class="q15"/>
<circle cx="310.1" cy="806.7" r="1.8" class="q18"/>
<circle cx="174.5" cy="776.8" r="1.8" class="q20"/>
<circle cx="185.9" cy="841.5" r="1.8" class="q16"/>
<circle cx="224.1" cy="822.5" r="1.8" class="q18"/>
<circle cx="206.3" cy="845.0" r="1.8" class="q12"/>
<circle cx="229.1" cy="867.3" r="1.8" class="q1b"/>
<circle cx="207.7" cy="792.6" r="1.8" class="q20"/>
<circle cx="88.6" cy="837.9" r="1.8" class="q5"/>
<circle cx="101.6" cy="834.8" r="1.8" class="q6"/>
<circle cx="102.3" cy="834.1" r="1.8" class="q5"/>
<circle cx="178.3" cy="836.4" r="1.8" class="q16"/>
<circle cx="69.0" cy="852.8" r="1.8" class="q2"/>
<circle cx="175.6" cy="817.8" r="1.8" class="q18"/>
<circle cx="314.8" cy="774.4" r="1.8" class="q17"/>
<circle cx="254.1" cy="867.4" r="1.8" class="q0b"/>
<circle cx="227.6" cy="867.5" r="1.8" class="q1b"/>
<circle cx="219.7" cy="798.0" r="1.8" class="q20"/>
<circle cx="144.2" cy="855.8" r="1.8" class="q1b"/>
<circle cx="171.8" cy="812.0" r="1.8" class="q20"/>
<circle cx="142.2" cy="856.1" r="1.8" class="q0b"/>
<circle cx="199.6" cy="794.4" r="1.8" class="q20"/>
<circle cx="310.5" cy="794.0" r="1.8" class="q18"/>
<circle cx="69.5" cy="849.9" r="1.8" class="q2"/>
<circle cx="115.5" cy="851.1" r="1.8" class="q6"/>
<circle cx="220.7" cy="799.4" r="1.8" class="q20"/>
<circle cx="317.5" cy="855.1" r="1.8" class="q0b"/>
<circle cx="261.5" cy="816.0" r="1.8" class="q19"/>
<circle cx="89.4" cy="837.9" r="1.8" class="q2"/>
<circle cx="291.6" cy="799.0" r="1.8" class="q20"/>
<circle cx="208.8" cy="813.6" r="1.8" class="q17"/>
<circle cx="280.3" cy="855.4" r="1.8" class="q1b"/>
<circle cx="207.3" cy="866.8" r="1.8" class="q1b"/>
<circle cx="174.8" cy="821.8" r="1.8" class="q16"/>
<circle cx="279.0" cy="855.7" r="1.8" class="q1b"/>
<circle cx="121.2" cy="836.4" r="1.8" class="q7"/>
<circle cx="167.9" cy="791.9" r="1.8" class="q19"/>
<circle cx="96.4" cy="840.4" r="1.8" class="q3"/>
<circle cx="252.3" cy="824.0" r="1.8" class="q20"/>
<circle cx="276.3" cy="829.9" r="1.8" class="q20"/>
<circle cx="246.1" cy="830.5" r="1.8" class="q20"/>
<circle cx="153.0" cy="803.9" r="1.8" class="q19"/>
<circle cx="314.5" cy="867.1" r="1.8" class="q0b"/>
<circle cx="170.1" cy="832.5" r="1.8" class="q18"/>
<circle cx="184.9" cy="802.1" r="1.8" class="q18"/>
<circle cx="115.5" cy="835.8" r="1.8" class="q9"/>
<circle cx="142.0" cy="855.5" r="1.8" class="q0b"/>
<circle cx="226.3" cy="855.1" r="1.8" class="q0b"/>
<circle cx="198.2" cy="811.4" r="1.8" class="q20"/>
<circle cx="152.3" cy="810.6" r="1.8" class="q15"/>
<circle cx="316.3" cy="762.8" r="1.8" class="q18"/>
<circle cx="311.9" cy="808.5" r="1.8" class="q19"/>
<circle cx="172.0" cy="825.1" r="1.8" class="q16"/>
<circle cx="262.9" cy="854.5" r="1.8" class="q1b"/>
<circle cx="74.2" cy="855.3" r="1.8" class="q0b"/>
<circle cx="229.0" cy="782.6" r="1.8" class="q20"/>
<circle cx="175.6" cy="822.2" r="1.8" class="q17"/>
<circle cx="275.9" cy="774.2" r="1.8" class="q20"/>
<circle cx="202.7" cy="820.1" r="1.8" class="q16"/>
<circle cx="178.2" cy="866.5" r="1.8" class="q1b"/>
<circle cx="258.0" cy="843.0" r="1.8" class="q16"/>
<circle cx="142.0" cy="835.3" r="1.8" class="q15"/>
<circle cx="100.7" cy="829.3" r="1.8" class="q10"/>
<circle cx="283.7" cy="795.9" r="1.8" class="q20"/>
<circle cx="253.0" cy="829.8" r="1.8" class="q18"/>
<circle cx="143.4" cy="822.8" r="1.8" class="q20"/>
<circle cx="260.5" cy="803.9" r="1.8" class="q20"/>
<circle cx="255.0" cy="756.9" r="1.8" class="q20"/>
<circle cx="262.6" cy="817.8" r="1.8" class="q20"/>
<circle cx="168.5" cy="837.9" r="1.8" class="q17"/>
<circle cx="116.7" cy="819.4" r="1.8" class="q15"/>
<circle cx="114.3" cy="850.5" r="1.8" class="q6"/>
<circle cx="196.8" cy="856.1" r="1.8" class="q1b"/>
<circle cx="124.6" cy="854.9" r="1.8" class="q1b"/>
<circle cx="87.3" cy="838.6" r="1.8" class="q1"/>
<circle cx="60.4" cy="854.0" r="1.8" class="q0"/>
<circle cx="91.9" cy="851.4" r="1.8" class="q0"/>
<circle cx="286.7" cy="792.0" r="1.8" class="q20"/>
<circle cx="231.0" cy="819.0" r="1.8" class="q18"/>
<circle cx="125.9" cy="853.0" r="1.8" class="q3"/>
<circle cx="255.5" cy="855.2" r="1.8" class="q1b"/>
<circle cx="256.4" cy="765.0" r="1.8" class="q20"/>
<circle cx="118.5" cy="820.2" r="1.8" class="q16"/>
<circle cx="178.0" cy="797.9" r="1.8" class="q19"/>
<circle cx="200.3" cy="836.1" r="1.8" class="q17"/>
<circle cx="58.6" cy="851.7" r="1.8" class="q0"/>
<circle cx="263.3" cy="770.8" r="1.8" class="q20"/>
<circle cx="132.2" cy="814.0" r="1.8" class="q19"/>
<circle cx="176.6" cy="855.6" r="1.8" class="q1b"/>
<circle cx="123.4" cy="865.7" r="1.8" class="q0b"/>
<circle cx="95.8" cy="837.9" r="1.8" class="q4"/>
<circle cx="292.8" cy="866.6" r="1.8" class="q1b"/>
<circle cx="303.2" cy="750.2" r="1.8" class="q20"/>
<circle cx="306.3" cy="840.0" r="1.8" class="q18"/>
<circle cx="218.6" cy="791.5" r="1.8" class="q20"/>
<circle cx="140.0" cy="822.6" r="1.8" class="q16"/>
<circle cx="167.9" cy="816.9" r="1.8" class="q18"/>
<circle cx="141.8" cy="793.1" r="1.8" class="q18"/>
<circle cx="311.7" cy="866.7" r="1.8" class="q1b"/>
<circle cx="74.2" cy="815.3" r="1.8" class="q1"/>
<circle cx="302.7" cy="840.7" r="1.8" class="q17"/>
<circle cx="299.9" cy="837.0" r="1.8" class="q17"/>
<circle cx="85.0" cy="837.8" r="1.8" class="q4"/>
<circle cx="210.3" cy="813.3" r="1.8" class="q19"/>
<circle cx="308.1" cy="781.0" r="1.8" class="q19"/>
<circle cx="252.1" cy="802.3" r="1.8" class="q20"/>
<circle cx="284.0" cy="801.0" r="1.8" class="q20"/>
<circle cx="218.6" cy="833.9" r="1.8" class="q18"/>
<circle cx="58.8" cy="836.8" r="1.8" class="q2"/>
<circle cx="180.5" cy="808.7" r="1.8" class="q19"/>
<circle cx="209.5" cy="855.8" r="1.8" class="q1b"/>
<circle cx="281.7" cy="818.6" r="1.8" class="q20"/>
<circle cx="92.3" cy="825.2" r="1.8" class="q11"/>
<circle cx="223.0" cy="819.4" r="1.8" class="q19"/>
<circle cx="126.1" cy="866.8" r="1.8" class="q1b"/>
<circle cx="95.4" cy="815.6" r="1.8" class="q17"/>
<circle cx="170.1" cy="838.2" r="1.8" class="q18"/>
<circle cx="278.5" cy="832.8" r="1.8" class="q20"/>
<circle cx="230.3" cy="828.4" r="1.8" class="q18"/>
<circle cx="127.2" cy="817.4" r="1.8" class="q14"/>
<circle cx="299.8" cy="799.2" r="1.8" class="q20"/>
<circle cx="61.0" cy="852.6" r="1.8" class="q1"/>
<circle cx="305.1" cy="792.2" r="1.8" class="q19"/>
<circle cx="234.2" cy="802.7" r="1.8" class="q20"/>
<circle cx="255.2" cy="826.8" r="1.8" class="q19"/>
<circle cx="293.1" cy="866.6" r="1.8" class="q0b"/>
<circle cx="237.1" cy="812.3" r="1.8" class="q16"/>
<circle cx="91.1" cy="823.6" r="1.8" class="q11"/>
<circle cx="57.9" cy="850.7" r="1.8" class="q1"/>
<circle cx="260.0" cy="819.3" r="1.8" class="q18"/>
<circle cx="142.9" cy="819.9" r="1.8" class="q16"/>
<circle cx="315.5" cy="753.3" r="1.8" class="q19"/>
<circle cx="233.0" cy="764.9" r="1.8" class="q20"/>
<circle cx="121.9" cy="805.4" r="1.8" class="q20"/>
<circle cx="139.2" cy="823.1" r="1.8" class="q11"/>
<circle cx="154.0" cy="842.8" r="1.8" class="q15"/>
<circle cx="314.4" cy="806.4" r="1.8" class="q19"/>
<circle cx="301.2" cy="816.4" r="1.8" class="q20"/>
<circle cx="151.1" cy="843.8" r="1.8" class="q16"/>
<circle cx="265.9" cy="823.6" r="1.8" class="q19"/>
<circle cx="291.0" cy="795.3" r="1.8" class="q20"/>
<circle cx="167.8" cy="844.7" r="1.8" class="q17"/>
<circle cx="229.7" cy="813.3" r="1.8" class="q19"/>
<circle cx="200.2" cy="829.9" r="1.8" class="q17"/>
<circle cx="261.6" cy="811.4" r="1.8" class="q18"/>
<circle cx="169.4" cy="822.5" r="1.8" class="q19"/>
<circle cx="68.8" cy="855.0" r="1.8" class="q1b"/>
<circle cx="89.1" cy="852.2" r="1.8" class="q0"/>
<circle cx="111.5" cy="826.0" r="1.8" class="q13"/>
<circle cx="220.0" cy="828.2" r="1.8" class="q20"/>
<circle cx="249.4" cy="835.8" r="1.8" class="q18"/>
<circle cx="259.4" cy="790.5" r="1.8" class="q18"/>
<circle cx="185.8" cy="854.9" r="1.8" class="q1b"/>
<circle cx="58.6" cy="853.0" r="1.8" class="q0"/>
<circle cx="204.8" cy="821.8" r="1.8" class="q20"/>
<circle cx="76.5" cy="855.8" r="1.8" class="q1"/>
<circle cx="299.1" cy="824.5" r="1.8" class="q17"/>
<circle cx="299.7" cy="811.3" r="1.8" class="q20"/>
<circle cx="233.9" cy="855.9" r="1.8" class="q0b"/>
<circle cx="225.5" cy="835.1" r="1.8" class="q18"/>
<circle cx="131.9" cy="844.0" r="1.8" class="q8"/>
<circle cx="245.5" cy="808.2" r="1.8" class="q20"/>
<circle cx="208.7" cy="832.0" r="1.8" class="q16"/>
<circle cx="282.6" cy="803.4" r="1.8" class="q20"/>
<circle cx="85.3" cy="855.4" r="1.8" class="q0"/>
<circle cx="314.3" cy="807.5" r="1.8" class="q20"/>
<circle cx="303.3" cy="794.1" r="1.8" class="q20"/>
<circle cx="102.4" cy="855.4" r="1.8" class="q0b"/>
<circle cx="125.4" cy="819.1" r="1.8" class="q15"/>
<circle cx="208.6" cy="808.7" r="1.8" class="q18"/>
<circle cx="238.0" cy="793.6" r="1.8" class="q15"/>
<circle cx="78.7" cy="855.9" r="1.8" class="q0"/>
<circle cx="291.1" cy="832.2" r="1.8" class="q18"/>
<circle cx="211.4" cy="855.9" r="1.8" class="q1b"/>
<circle cx="200.0" cy="817.3" r="1.8" class="q19"/>
<circle cx="86.7" cy="817.2" r="1.8" class="q15"/>
<circle cx="237.3" cy="817.0" r="1.8" class="q17"/>
<circle cx="292.1" cy="795.7" r="1.8" class="q18"/>
<circle cx="112.7" cy="865.7" r="1.8" class="q0b"/>
<circle cx="260.8" cy="782.7" r="1.8" class="q20"/>
<circle cx="207.7" cy="802.1" r="1.8" class="q19"/>
<circle cx="225.8" cy="839.3" r="1.8" class="q14"/>
<circle cx="227.3" cy="845.6" r="1.8" class="q14"/>
<circle cx="259.3" cy="866.8" r="1.8" class="q0b"/>
<circle cx="66.9" cy="843.8" r="1.8" class="q1"/>
<circle cx="264.0" cy="785.7" r="1.8" class="q20"/>
<circle cx="60.2" cy="852.9" r="1.8" class="q0"/>
<circle cx="77.8" cy="848.6" r="1.8" class="q1"/>
<circle cx="301.5" cy="807.8" r="1.8" class="q19"/>
<circle cx="97.1" cy="834.5" r="1.8" class="q6"/>
<circle cx="167.1" cy="866.7" r="1.8" class="q0b"/>
<circle cx="252.1" cy="839.2" r="1.8" class="q18"/>
<circle cx="143.5" cy="829.8" r="1.8" class="q13"/>
<circle cx="203.8" cy="866.4" r="1.8" class="q0b"/>
<circle cx="221.9" cy="813.9" r="1.8" class="q20"/>
<circle cx="247.5" cy="765.9" r="1.8" class="q20"/>
<circle cx="168.3" cy="811.4" r="1.8" class="q20"/>
<circle cx="182.1" cy="838.4" r="1.8" class="q15"/>
<circle cx="278.3" cy="856.1" r="1.8" class="q1b"/>
<circle cx="58.7" cy="855.7" r="1.8" class="q2"/>
<circle cx="237.8" cy="865.9" r="1.8" class="q0b"/>
<circle cx="199.4" cy="821.9" r="1.8" class="q17"/>
<circle cx="198.7" cy="810.2" r="1.8" class="q16"/>
<circle cx="200.2" cy="855.9" r="1.8" class="q0b"/>
<circle cx="274.4" cy="836.5" r="1.8" class="q18"/>
<circle cx="265.3" cy="855.1" r="1.8" class="q1b"/>
<circle cx="301.7" cy="806.5" r="1.8" class="q20"/>
<circle cx="119.7" cy="866.4" r="1.8" class="q1b"/>
<circle cx="103.6" cy="825.5" r="1.8" class="q14"/>
<circle cx="232.9" cy="775.8" r="1.8" class="q20"/>
<circle cx="262.9" cy="839.9" r="1.8" class="q17"/>
<circle cx="76.1" cy="850.3" r="1.8" class="q2"/>
<circle cx="232.4" cy="866.2" r="1.8" class="q1b"/>
<circle cx="200.1" cy="767.0" r="1.8" class="q20"/>
<circle cx="174.0" cy="800.7" r="1.8" class="q16"/>
<circle cx="126.9" cy="813.3" r="1.8" class="q18"/>
<circle cx="248.6" cy="811.8" r="1.8" class="q19"/>
<circle cx="236.8" cy="825.1" r="1.8" class="q19"/>
<circle cx="274.4" cy="855.1" r="1.8" class="q1b"/>
<circle cx="280.8" cy="838.8" r="1.8" class="q17"/>
<circle cx="96.1" cy="844.6" r="1.8" class="q1"/>
<circle cx="290.3" cy="784.2" r="1.8" class="q20"/>
<circle cx="247.6" cy="803.9" r="1.8" class="q20"/>
<circle cx="157.9" cy="841.6" r="1.8" class="q15"/>
<circle cx="115.5" cy="845.9" r="1.8" class="q8"/>
<circle cx="195.2" cy="811.5" r="1.8" class="q20"/>
<circle cx="182.1" cy="805.9" r="1.8" class="q18"/>
<circle cx="306.0" cy="808.4" r="1.8" class="q17"/>
<circle cx="258.4" cy="788.2" r="1.8" class="q20"/>
<circle cx="97.3" cy="854.2" r="1.8" class="q0b"/>
<circle cx="64.3" cy="839.0" r="1.8" class="q1"/>
<circle cx="272.4" cy="816.0" r="1.8" class="q15"/>
<circle cx="251.7" cy="788.6" r="1.8" class="q20"/>
<circle cx="251.3" cy="795.5" r="1.8" class="q18"/>
<circle cx="124.7" cy="830.6" r="1.8" class="q12"/>
<circle cx="228.0" cy="792.0" r="1.8" class="q20"/>
<circle cx="181.2" cy="855.4" r="1.8" class="q1b"/>
<circle cx="181.7" cy="867.2" r="1.8" class="q0b"/>
<circle cx="319.6" cy="724.6" r="1.8" class="q20"/>
<circle cx="65.0" cy="865.9" r="1.8" class="q0b"/>
<circle cx="220.3" cy="824.7" r="1.8" class="q15"/>
<circle cx="224.4" cy="804.6" r="1.8" class="q20"/>
<circle cx="165.6" cy="804.1" r="1.8" class="q18"/>
<circle cx="177.2" cy="799.4" r="1.8" class="q20"/>
<circle cx="144.3" cy="830.5" r="1.8" class="q17"/>
<circle cx="312.9" cy="838.4" r="1.8" class="q17"/>
<circle cx="259.5" cy="786.2" r="1.8" class="q20"/>
<circle cx="205.4" cy="782.3" r="1.8" class="q20"/>
<circle cx="237.6" cy="855.5" r="1.8" class="q0b"/>
<circle cx="224.4" cy="817.4" r="1.8" class="q18"/>
<circle cx="308.1" cy="867.0" r="1.8" class="q1b"/>
<circle cx="233.5" cy="813.8" r="1.8" class="q19"/>
<circle cx="102.2" cy="843.4" r="1.8" class="q2"/>
<circle cx="97.8" cy="855.9" r="1.8" class="q0"/>
<circle cx="204.1" cy="798.3" r="1.8" class="q18"/>
<circle cx="265.4" cy="797.7" r="1.8" class="q20"/>
<circle cx="303.5" cy="760.7" r="1.8" class="q20"/>
<circle cx="231.8" cy="792.7" r="1.8" class="q20"/>
<circle cx="306.6" cy="799.4" r="1.8" class="q20"/>
<circle cx="158.4" cy="811.5" r="1.8" class="q17"/>
<circle cx="260.3" cy="808.0" r="1.8" class="q20"/>
<circle cx="273.4" cy="866.6" r="1.8" class="q0b"/>
<circle cx="69.6" cy="853.3" r="1.8" class="q1"/>
<circle cx="64.4" cy="866.0" r="1.8" class="q1b"/>
<circle cx="231.3" cy="815.1" r="1.8" class="q18"/>
<circle cx="196.6" cy="795.1" r="1.8" class="q19"/>
<circle cx="70.2" cy="855.3" r="1.8" class="q1"/>
<circle cx="155.1" cy="856.1" r="1.8" class="q0b"/>
<circle cx="235.9" cy="812.6" r="1.8" class="q20"/>
<circle cx="275.0" cy="793.0" r="1.8" class="q19"/>
<circle cx="153.8" cy="815.4" r="1.8" class="q19"/>
<circle cx="220.5" cy="825.4" r="1.8" class="q16"/>
<circle cx="234.7" cy="844.9" r="1.8" class="q15"/>
<circle cx="92.4" cy="844.9" r="1.8" class="q0"/>
<circle cx="315.8" cy="788.0" r="1.8" class="q20"/>
<circle cx="105.4" cy="853.9" r="1.8" class="q0"/>
<circle cx="129.6" cy="844.5" r="1.8" class="q6"/>
<circle cx="285.3" cy="867.0" r="1.8" class="q1b"/>
<circle cx="266.0" cy="811.8" r="1.8" class="q19"/>
<circle cx="259.3" cy="817.2" r="1.8" class="q20"/>
<circle cx="279.0" cy="812.5" r="1.8" class="q20"/>
<circle cx="169.7" cy="811.2" r="1.8" class="q19"/>
<circle cx="232.5" cy="812.9" r="1.8" class="q19"/>
<circle cx="92.1" cy="866.4" r="1.8" class="q1b"/>
<circle cx="222.4" cy="829.9" r="1.8" class="q17"/>
<circle cx="299.4" cy="792.0" r="1.8" class="q19"/>
<circle cx="101.5" cy="837.3" r="1.8" class="q4"/>
<circle cx="182.1" cy="866.0" r="1.8" class="q0b"/>
<circle cx="258.0" cy="808.4" r="1.8" class="q20"/>
<circle cx="290.2" cy="783.5" r="1.8" class="q20"/>
<circle cx="179.7" cy="832.3" r="1.8" class="q16"/>
<circle cx="264.9" cy="785.6" r="1.8" class="q20"/>
<circle cx="165.2" cy="836.7" r="1.8" class="q15"/>
<circle cx="311.7" cy="793.1" r="1.8" class="q19"/>
<circle cx="90.3" cy="867.3" r="1.8" class="q0b"/>
<circle cx="118.5" cy="843.2" r="1.8" class="q5"/>
<circle cx="176.2" cy="843.0" r="1.8" class="q16"/>
<circle cx="274.9" cy="819.8" r="1.8" class="q18"/>
<circle cx="251.1" cy="803.6" r="1.8" class="q18"/>
<circle cx="196.1" cy="855.1" r="1.8" class="q1b"/>
<circle cx="232.5" cy="842.0" r="1.8" class="q17"/>
<circle cx="171.2" cy="783.5" r="1.8" class="q20"/>
<circle cx="202.1" cy="811.2" r="1.8" class="q20"/>
<circle cx="111.5" cy="821.4" r="1.8" class="q15"/>
<circle cx="251.2" cy="827.8" r="1.8" class="q18"/>
<circle cx="85.4" cy="848.7" r="1.8" class="q0"/>
<circle cx="196.6" cy="855.5" r="1.8" class="q1b"/>
<circle cx="170.6" cy="820.5" r="1.8" class="q17"/>
<circle cx="165.1" cy="822.1" r="1.8" class="q20"/>
<circle cx="91.3" cy="822.9" r="1.8" class="q11"/>
<circle cx="232.7" cy="779.5" r="1.8" class="q20"/>
<circle cx="278.1" cy="791.7" r="1.8" class="q20"/>
<circle cx="205.7" cy="778.3" r="1.8" class="q20"/>
<circle cx="126.4" cy="851.7" r="1.8" class="q7"/>
<circle cx="96.3" cy="866.0" r="1.8" class="q0b"/>
<circle cx="140.9" cy="830.7" r="1.8" class="q15"/>
<circle cx="170.1" cy="855.4" r="1.8" class="q0b"/>
<circle cx="305.0" cy="830.3" r="1.8" class="q20"/>
<circle cx="221.7" cy="772.3" r="1.8" class="q20"/>
<circle cx="174.8" cy="828.6" r="1.8" class="q15"/>
<circle cx="250.1" cy="839.7" r="1.8" class="q17"/>
<circle cx="302.5" cy="811.5" r="1.8" class="q20"/>
<circle cx="156.3" cy="855.9" r="1.8" class="q0b"/>
<circle cx="281.8" cy="855.5" r="1.8" class="q1b"/>
<circle cx="129.2" cy="843.0" r="1.8" class="q6"/>
<circle cx="159.0" cy="810.3" r="1.8" class="q16"/>
<circle cx="67.5" cy="851.6" r="1.8" class="q1"/>
<circle cx="262.3" cy="825.0" r="1.8" class="q14"/>
<circle cx="261.2" cy="829.7" r="1.8" class="q16"/>
<circle cx="125.2" cy="834.7" r="1.8" class="q13"/>
<circle cx="88.0" cy="837.4" r="1.8" class="q5"/>
<circle cx="174.2" cy="840.9" r="1.8" class="q18"/>
<circle cx="87.1" cy="852.7" r="1.8" class="q0"/>
<circle cx="203.6" cy="796.9" r="1.8" class="q19"/>
<circle cx="315.1" cy="796.7" r="1.8" class="q20"/>
<circle cx="205.5" cy="827.1" r="1.8" class="q17"/>
<circle cx="286.3" cy="866.5" r="1.8" class="q0b"/>
<circle cx="222.9" cy="804.7" r="1.8" class="q20"/>
<circle cx="99.8" cy="829.9" r="1.8" class="q7"/>
<circle cx="231.3" cy="775.7" r="1.8" class="q20"/>
<circle cx="174.5" cy="789.9" r="1.8" class="q20"/>
<circle cx="286.6" cy="795.5" r="1.8" class="q18"/>
<circle cx="158.9" cy="825.5" r="1.8" class="q16"/>
<circle cx="258.2" cy="818.6" r="1.8" class="q19"/>
<circle cx="172.4" cy="804.6" r="1.8" class="q17"/>
<circle cx="173.8" cy="811.2" r="1.8" class="q17"/>
<circle cx="142.6" cy="813.8" r="1.8" class="q17"/>
<circle cx="286.6" cy="772.8" r="1.8" class="q20"/>
<circle cx="139.0" cy="828.5" r="1.8" class="q14"/>
<circle cx="280.4" cy="809.1" r="1.8" class="q18"/>
<circle cx="289.8" cy="836.3" r="1.8" class="q20"/>
<circle cx="224.2" cy="867.4" r="1.8" class="q0b"/>
<circle cx="146.0" cy="829.1" r="1.8" class="q17"/>
<circle cx="200.1" cy="830.6" r="1.8" class="q15"/>
<circle cx="165.6" cy="867.0" r="1.8" class="q1b"/>
<circle cx="183.3" cy="826.3" r="1.8" class="q18"/>
<circle cx="192.8" cy="841.1" r="1.8" class="q15"/>
<circle cx="171.2" cy="795.8" r="1.8" class="q19"/>
<circle cx="143.0" cy="829.6" r="1.8" class="q14"/>
<circle cx="117.2" cy="837.0" r="1.8" class="q10"/>
<circle cx="86.2" cy="822.6" r="1.8" class="q11"/>
<circle cx="312.0" cy="786.8" r="1.8" class="q18"/>
<circle cx="251.8" cy="803.5" r="1.8" class="q19"/>
<circle cx="282.0" cy="841.6" r="1.8" class="q15"/>
<circle cx="201.3" cy="844.5" r="1.8" class="q15"/>
<circle cx="176.6" cy="831.9" r="1.8" class="q18"/>
<circle cx="145.3" cy="835.0" r="1.8" class="q13"/>
<circle cx="283.4" cy="827.3" r="1.8" class="q18"/>
<circle cx="300.8" cy="798.2" r="1.8" class="q18"/>
<circle cx="70.0" cy="835.3" r="1.8" class="q1"/>
<circle cx="210.1" cy="854.9" r="1.8" class="q1b"/>
<circle cx="285.5" cy="795.5" r="1.8" class="q19"/>
<circle cx="249.0" cy="839.8" r="1.8" class="q19"/>
<circle cx="99.1" cy="828.0" r="1.8" class="q11"/>
<circle cx="292.6" cy="780.3" r="1.8" class="q20"/>
<circle cx="232.9" cy="816.7" r="1.8" class="q20"/>
<circle cx="177.8" cy="841.2" r="1.8" class="q17"/>
<circle cx="209.2" cy="835.0" r="1.8" class="q15"/>
<circle cx="146.8" cy="827.6" r="1.8" class="q13"/>
<circle cx="98.8" cy="821.2" r="1.8" class="q15"/>
<circle cx="251.3" cy="867.3" r="1.8" class="q0b"/>
<circle cx="86.1" cy="824.7" r="1.8" class="q10"/>
<circle cx="168.0" cy="785.4" r="1.8" class="q20"/>
<circle cx="256.2" cy="855.4" r="1.8" class="q0b"/>
<circle cx="147.1" cy="809.2" r="1.8" class="q17"/>
<circle cx="86.8" cy="841.8" r="1.8" class="q1"/>
<circle cx="174.5" cy="855.5" r="1.8" class="q0b"/>
<circle cx="281.8" cy="793.1" r="1.8" class="q20"/>
<circle cx="211.9" cy="802.2" r="1.8" class="q19"/>
<circle cx="308.1" cy="795.0" r="1.8" class="q20"/>
<circle cx="76.5" cy="866.8" r="1.8" class="q1b"/>
<circle cx="263.6" cy="866.6" r="1.8" class="q1b"/>
<circle cx="316.7" cy="823.4" r="1.8" class="q20"/>
<circle cx="223.1" cy="866.6" r="1.8" class="q1b"/>
<circle cx="232.3" cy="801.8" r="1.8" class="q20"/>
<circle cx="96.5" cy="855.7" r="1.8" class="q0"/>
<circle cx="170.3" cy="834.9" r="1.8" class="q15"/>
<circle cx="86.6" cy="826.1" r="1.8" class="q14"/>
<circle cx="245.6" cy="753.0" r="1.8" class="q20"/>
<circle cx="249.8" cy="830.9" r="1.8" class="q17"/>
<circle cx="291.6" cy="866.5" r="1.8" class="q1b"/>
<circle cx="250.6" cy="830.1" r="1.8" class="q16"/>
<circle cx="178.7" cy="789.8" r="1.8" class="q18"/>
<circle cx="282.8" cy="792.3" r="1.8" class="q20"/>
<circle cx="221.2" cy="855.7" r="1.8" class="q1b"/>
<circle cx="89.2" cy="851.4" r="1.8" class="q0"/>
<circle cx="275.4" cy="830.4" r="1.8" class="q18"/>
<circle cx="153.9" cy="846.9" r="1.8" class="q16"/>
<circle cx="247.9" cy="785.1" r="1.8" class="q20"/>
<circle cx="141.8" cy="845.4" r="1.8" class="q12"/>
<circle cx="238.2" cy="829.7" r="1.8" class="q19"/>
<circle cx="145.3" cy="843.9" r="1.8" class="q15"/>
<circle cx="75.6" cy="844.9" r="1.8" class="q2"/>
<circle cx="128.6" cy="866.7" r="1.8" class="q0b"/>
<circle cx="112.9" cy="829.6" r="1.8" class="q13"/>
<circle cx="229.6" cy="816.1" r="1.8" class="q19"/>
<circle cx="305.3" cy="797.5" r="1.8" class="q20"/>
<circle cx="230.0" cy="808.9" r="1.8" class="q17"/>
<circle cx="290.6" cy="841.1" r="1.8" class="q16"/>
<circle cx="274.9" cy="784.6" r="1.8" class="q20"/>
<circle cx="238.2" cy="866.2" r="1.8" class="q0b"/>
<circle cx="313.8" cy="825.5" r="1.8" class="q19"/>
<circle cx="262.0" cy="812.8" r="1.8" class="q19"/>
<circle cx="274.9" cy="802.7" r="1.8" class="q19"/>
<circle cx="89.8" cy="844.8" r="1.8" class="q2"/>
<circle cx="229.7" cy="805.9" r="1.8" class="q20"/>
<circle cx="231.2" cy="809.2" r="1.8" class="q18"/>
<circle cx="282.5" cy="813.4" r="1.8" class="q16"/>
<circle cx="289.4" cy="782.6" r="1.8" class="q20"/>
<circle cx="276.4" cy="830.8" r="1.8" class="q17"/>
<circle cx="238.0" cy="824.4" r="1.8" class="q16"/>
<circle cx="120.3" cy="845.1" r="1.8" class="q6"/>
<circle cx="61.1" cy="845.0" r="1.8" class="q0"/>
<circle cx="140.9" cy="838.6" r="1.8" class="q15"/>
<circle cx="311.3" cy="839.9" r="1.8" class="q16"/>
<circle cx="230.9" cy="803.5" r="1.8" class="q19"/>
<circle cx="62.3" cy="831.7" r="1.8" class="q1"/>
<circle cx="227.1" cy="812.7" r="1.8" class="q17"/>
<circle cx="111.9" cy="851.2" r="1.8" class="q5"/>
<circle cx="72.2" cy="845.4" r="1.8" class="q2"/>
<circle cx="222.3" cy="810.3" r="1.8" class="q17"/>
<circle cx="149.2" cy="835.7" r="1.8" class="q14"/>
<circle cx="260.1" cy="843.3" r="1.8" class="q18"/>
<circle cx="157.6" cy="866.4" r="1.8" class="q1b"/>
<circle cx="284.7" cy="773.4" r="1.8" class="q20"/>
<circle cx="255.6" cy="830.6" r="1.8" class="q16"/>
<circle cx="311.2" cy="866.7" r="1.8" class="q0b"/>
<circle cx="260.0" cy="842.6" r="1.8" class="q18"/>
<circle cx="70.2" cy="843.4" r="1.8" class="q0"/>
<circle cx="314.8" cy="855.0" r="1.8" class="q1b"/>
<circle cx="181.6" cy="844.4" r="1.8" class="q13"/>
<circle cx="309.6" cy="767.2" r="1.8" class="q20"/>
<circle cx="63.7" cy="847.5" r="1.8" class="q0"/>
<circle cx="227.2" cy="866.6" r="1.8" class="q0b"/>
<circle cx="232.8" cy="833.7" r="1.8" class="q18"/>
<circle cx="105.3" cy="855.7" r="1.8" class="q0b"/>
<circle cx="154.9" cy="821.6" r="1.8" class="q17"/>
<circle cx="300.5" cy="839.3" r="1.8" class="q17"/>
<circle cx="68.5" cy="845.2" r="1.8" class="q2"/>
<circle cx="286.2" cy="831.6" r="1.8" class="q19"/>
<circle cx="85.8" cy="841.6" r="1.8" class="q0"/>
<circle cx="264.7" cy="854.9" r="1.8" class="q1b"/>
<circle cx="317.2" cy="825.5" r="1.8" class="q18"/>
<circle cx="172.7" cy="855.9" r="1.8" class="q1b"/>
<circle cx="309.6" cy="812.2" r="1.8" class="q20"/>
<circle cx="209.9" cy="828.8" r="1.8" class="q18"/>
<circle cx="58.9" cy="854.7" r="1.8" class="q1b"/>
<circle cx="307.2" cy="827.2" r="1.8" class="q18"/>
<circle cx="304.0" cy="835.1" r="1.8" class="q17"/>
<circle cx="272.3" cy="793.2" r="1.8" class="q20"/>
<circle cx="233.6" cy="866.8" r="1.8" class="q1b"/>
<circle cx="100.3" cy="832.3" r="1.8" class="q5"/>
<circle cx="198.2" cy="813.8" r="1.8" class="q19"/>
<circle cx="149.9" cy="840.9" r="1.8" class="q14"/>
<circle cx="209.2" cy="824.3" r="1.8" class="q17"/>
<circle cx="197.8" cy="811.6" r="1.8" class="q19"/>
<circle cx="157.3" cy="840.8" r="1.8" class="q14"/>
<circle cx="313.9" cy="810.1" r="1.8" class="q20"/>
<circle cx="202.1" cy="838.6" r="1.8" class="q18"/>
<circle cx="193.7" cy="806.6" r="1.8" class="q17"/>
<circle cx="146.2" cy="854.7" r="1.8" class="q1b"/>
<circle cx="121.6" cy="837.6" r="1.8" class="q10"/>
<circle cx="257.7" cy="838.3" r="1.8" class="q19"/>
<circle cx="319.7" cy="855.7" r="1.8" class="q0b"/>
<circle cx="262.6" cy="812.4" r="1.8" class="q17"/>
<circle cx="304.6" cy="865.8" r="1.8" class="q0b"/>
<circle cx="153.0" cy="825.5" r="1.8" class="q15"/>
<circle cx="127.4" cy="818.0" r="1.8" class="q16"/>
<circle cx="156.7" cy="818.9" r="1.8" class="q17"/>
<circle cx="102.8" cy="866.8" r="1.8" class="q0b"/>
<circle cx="180.3" cy="809.2" r="1.8" class="q19"/>
<circle cx="124.3" cy="846.8" r="1.8" class="q6"/>
<circle cx="89.3" cy="836.8" r="1.8" class="q8"/>
<circle cx="123.0" cy="833.7" r="1.8" class="q12"/>
<circle cx="193.1" cy="828.9" r="1.8" class="q17"/>
<circle cx="286.1" cy="823.4" r="1.8" class="q19"/>
<circle cx="74.5" cy="845.9" r="1.8" class="q2"/>
<circle cx="257.9" cy="840.3" r="1.8" class="q20"/>
<circle cx="193.3" cy="803.0" r="1.8" class="q17"/>
<circle cx="256.5" cy="760.7" r="1.8" class="q20"/>
<circle cx="196.9" cy="866.1" r="1.8" class="q1b"/>
<circle cx="246.0" cy="774.2" r="1.8" class="q19"/>
<circle cx="292.7" cy="841.1" r="1.8" class="q20"/>
<circle cx="167.3" cy="833.5" r="1.8" class="q15"/>
<circle cx="87.8" cy="819.2" r="1.8" class="q13"/>
<circle cx="293.0" cy="834.9" r="1.8" class="q15"/>
<circle cx="168.9" cy="777.4" r="1.8" class="q20"/>
<circle cx="199.6" cy="814.8" r="1.8" class="q19"/>
<circle cx="202.6" cy="828.5" r="1.8" class="q16"/>
<circle cx="220.5" cy="800.5" r="1.8" class="q18"/>
<circle cx="220.4" cy="855.4" r="1.8" class="q0b"/>
<circle cx="127.8" cy="840.1" r="1.8" class="q9"/>
<circle cx="94.6" cy="839.6" r="1.8" class="q6"/>
<circle cx="290.1" cy="839.5" r="1.8" class="q18"/>
<circle cx="89.5" cy="866.7" r="1.8" class="q1b"/>
<circle cx="156.8" cy="824.2" r="1.8" class="q17"/>
<circle cx="285.6" cy="866.6" r="1.8" class="q0b"/>
<circle cx="194.0" cy="819.2" r="1.8" class="q19"/>
<circle cx="167.6" cy="840.1" r="1.8" class="q14"/>
<circle cx="204.9" cy="866.6" r="1.8" class="q1b"/>
<circle cx="183.7" cy="836.2" r="1.8" class="q12"/>
<circle cx="318.2" cy="836.0" r="1.8" class="q19"/>
<circle cx="300.9" cy="855.4" r="1.8" class="q0b"/>
<circle cx="261.5" cy="790.0" r="1.8" class="q16"/>
<circle cx="176.1" cy="832.0" r="1.8" class="q17"/>
<circle cx="77.1" cy="867.0" r="1.8" class="q1b"/>
<circle cx="306.0" cy="838.5" r="1.8" class="q19"/>
<circle cx="111.5" cy="814.9" r="1.8" class="q14"/>
<circle cx="139.4" cy="831.9" r="1.8" class="q14"/>
<circle cx="195.9" cy="820.0" r="1.8" class="q16"/>
<circle cx="93.9" cy="848.5" r="1.8" class="q0"/>
<circle cx="258.5" cy="826.3" r="1.8" class="q17"/>
<circle cx="141.0" cy="789.4" r="1.8" class="q19"/>
<circle cx="169.5" cy="831.5" r="1.8" class="q14"/>
<circle cx="124.4" cy="845.4" r="1.8" class="q5"/>
<circle cx="299.0" cy="712.8" r="1.8" class="q20"/>
<circle cx="310.7" cy="822.5" r="1.8" class="q19"/>
<circle cx="209.0" cy="791.1" r="1.8" class="q20"/>
<circle cx="223.4" cy="790.1" r="1.8" class="q20"/>
<circle cx="170.0" cy="845.9" r="1.8" class="q14"/>
<circle cx="277.1" cy="866.5" r="1.8" class="q0b"/>
<circle cx="195.5" cy="825.1" r="1.8" class="q17"/>
<circle cx="122.2" cy="866.0" r="1.8" class="q1b"/>
<circle cx="170.5" cy="809.0" r="1.8" class="q16"/>
<circle cx="230.1" cy="855.7" r="1.8" class="q0b"/>
<circle cx="234.0" cy="827.4" r="1.8" class="q15"/>
<circle cx="257.2" cy="832.9" r="1.8" class="q17"/>
<circle cx="65.0" cy="845.9" r="1.8" class="q0"/>
<circle cx="180.0" cy="809.8" r="1.8" class="q17"/>
<circle cx="61.9" cy="851.9" r="1.8" class="q0"/>
<circle cx="310.1" cy="807.4" r="1.8" class="q20"/>
<circle cx="157.1" cy="845.8" r="1.8" class="q15"/>
<circle cx="85.8" cy="853.3" r="1.8" class="q0"/>
<circle cx="279.6" cy="796.5" r="1.8" class="q20"/>
<circle cx="64.5" cy="843.3" r="1.8" class="q2"/>
<circle cx="314.9" cy="821.2" r="1.8" class="q19"/>
<circle cx="140.4" cy="820.9" r="1.8" class="q15"/>
<circle cx="282.3" cy="839.0" r="1.8" class="q18"/>
<circle cx="253.4" cy="834.8" r="1.8" class="q18"/>
<circle cx="123.4" cy="844.2" r="1.8" class="q4"/>
<circle cx="203.7" cy="790.4" r="1.8" class="q20"/>
<circle cx="154.3" cy="837.6" r="1.8" class="q14"/>
<circle cx="165.9" cy="820.5" r="1.8" class="q18"/>
<circle cx="185.2" cy="867.5" r="1.8" class="q1b"/>
<circle cx="261.5" cy="823.5" r="1.8" class="q14"/>
<circle cx="249.9" cy="843.2" r="1.8" class="q16"/>
<circle cx="102.4" cy="855.9" r="1.8" class="q0b"/>
<circle cx="113.9" cy="820.4" r="1.8" class="q14"/>
<circle cx="146.7" cy="774.8" r="1.8" class="q17"/>
<circle cx="317.5" cy="856.2" r="1.8" class="q0b"/>
<circle cx="192.1" cy="813.3" r="1.8" class="q20"/>
<circle cx="96.9" cy="841.0" r="1.8" class="q0"/>
<circle cx="96.3" cy="837.2" r="1.8" class="q4"/>
<circle cx="230.1" cy="823.1" r="1.8" class="q17"/>
<circle cx="261.0" cy="828.3" r="1.8" class="q18"/>
<circle cx="153.3" cy="826.8" r="1.8" class="q19"/>
<circle cx="58.1" cy="855.5" r="1.8" class="q0"/>
<circle cx="126.9" cy="841.3" r="1.8" class="q7"/>
<circle cx="307.4" cy="855.7" r="1.8" class="q1b"/>
<circle cx="169.1" cy="816.4" r="1.8" class="q19"/>
<circle cx="118.2" cy="818.4" r="1.8" class="q13"/>
<circle cx="192.3" cy="819.5" r="1.8" class="q16"/>
<circle cx="123.0" cy="845.9" r="1.8" class="q9"/>
<circle cx="280.1" cy="809.6" r="1.8" class="q17"/>
<circle cx="120.8" cy="830.6" r="1.8" class="q10"/>
<circle cx="197.8" cy="805.2" r="1.8" class="q19"/>
<circle cx="75.2" cy="855.6" r="1.8" class="q0b"/>
<circle cx="171.0" cy="834.6" r="1.8" class="q16"/>
<circle cx="173.6" cy="804.0" r="1.8" class="q18"/>
<circle cx="238.8" cy="832.6" r="1.8" class="q19"/>
<circle cx="276.1" cy="812.9" r="1.8" class="q16"/>
<circle cx="124.0" cy="834.1" r="1.8" class="q13"/>
<circle cx="250.9" cy="798.9" r="1.8" class="q17"/>
<circle cx="116.7" cy="851.4" r="1.8" class="q3"/>
<circle cx="272.9" cy="866.4" r="1.8" class="q1b"/>
<circle cx="59.7" cy="847.5" r="1.8" class="q3"/>
<circle cx="102.8" cy="825.2" r="1.8" class="q7"/>
<circle cx="250.7" cy="843.5" r="1.8" class="q16"/>
<circle cx="273.5" cy="813.3" r="1.8" class="q20"/>
<circle cx="256.4" cy="831.9" r="1.8" class="q17"/>
<circle cx="309.8" cy="797.0" r="1.8" class="q18"/>
<circle cx="224.5" cy="845.5" r="1.8" class="q18"/>
<circle cx="191.8" cy="839.5" r="1.8" class="q15"/>
<circle cx="313.1" cy="767.4" r="1.8" class="q20"/>
<circle cx="119.3" cy="802.9" r="1.8" class="q20"/>
<circle cx="113.9" cy="830.4" r="1.8" class="q12"/>
<circle cx="170.4" cy="797.8" r="1.8" class="q18"/>
<circle cx="128.2" cy="811.7" r="1.8" class="q18"/>
<circle cx="247.8" cy="802.8" r="1.8" class="q20"/>
<circle cx="206.5" cy="834.3" r="1.8" class="q16"/>
<circle cx="301.4" cy="736.8" r="1.8" class="q20"/>
<circle cx="254.9" cy="812.8" r="1.8" class="q18"/>
<circle cx="91.8" cy="838.1" r="1.8" class="q1"/>
<circle cx="180.6" cy="824.2" r="1.8" class="q17"/>
<circle cx="317.9" cy="837.5" r="1.8" class="q19"/>
<circle cx="76.0" cy="837.1" r="1.8" class="q1"/>
<circle cx="113.6" cy="855.8" r="1.8" class="q1b"/>
<circle cx="151.1" cy="823.6" r="1.8" class="q14"/>
<circle cx="154.2" cy="818.0" r="1.8" class="q14"/>
<circle cx="104.7" cy="855.3" r="1.8" class="q0b"/>
<circle cx="74.3" cy="849.9" r="1.8" class="q1"/>
<circle cx="283.7" cy="786.2" r="1.8" class="q19"/>
<circle cx="173.2" cy="792.9" r="1.8" class="q16"/>
<circle cx="249.0" cy="824.7" r="1.8" class="q20"/>
<circle cx="239.1" cy="801.4" r="1.8" class="q20"/>
<circle cx="167.4" cy="866.7" r="1.8" class="q0b"/>
<circle cx="116.6" cy="846.1" r="1.8" class="q4"/>
<circle cx="211.3" cy="790.2" r="1.8" class="q20"/>
<circle cx="67.8" cy="866.1" r="1.8" class="q1b"/>
<circle cx="141.0" cy="822.7" r="1.8" class="q14"/>
<circle cx="87.6" cy="856.0" r="1.8" class="q0"/>
<circle cx="281.7" cy="841.1" r="1.8" class="q17"/>
<circle cx="316.9" cy="789.5" r="1.8" class="q19"/>
<circle cx="177.5" cy="867.2" r="1.8" class="q1b"/>
<circle cx="131.8" cy="843.9" r="1.8" class="q8"/>
<circle cx="202.8" cy="866.0" r="1.8" class="q0b"/>
<circle cx="150.1" cy="824.1" r="1.8" class="q17"/>
<circle cx="131.5" cy="842.3" r="1.8" class="q7"/>
<circle cx="147.5" cy="848.0" r="1.8" class="q13"/>
<circle cx="151.6" cy="811.6" r="1.8" class="q16"/>
<circle cx="144.6" cy="855.6" r="1.8" class="q1b"/>
<circle cx="298.9" cy="840.2" r="1.8" class="q15"/>
<circle cx="262.1" cy="855.2" r="1.8" class="q1b"/>
<circle cx="153.2" cy="821.2" r="1.8" class="q15"/>
<circle cx="202.0" cy="842.1" r="1.8" class="q15"/>
<circle cx="282.9" cy="786.5" r="1.8" class="q20"/>
<circle cx="230.2" cy="813.7" r="1.8" class="q20"/>
<circle cx="170.5" cy="838.7" r="1.8" class="q17"/>
<circle cx="283.4" cy="772.7" r="1.8" class="q20"/>
<circle cx="272.7" cy="854.6" r="1.8" class="q1b"/>
<circle cx="177.0" cy="828.1" r="1.8" class="q18"/>
<circle cx="144.3" cy="867.0" r="1.8" class="q0b"/>
<circle cx="317.0" cy="769.6" r="1.8" class="q20"/>
<circle cx="265.6" cy="776.6" r="1.8" class="q20"/>
<circle cx="72.0" cy="853.1" r="1.8" class="q1"/>
<circle cx="68.4" cy="867.1" r="1.8" class="q0b"/>
<circle cx="74.3" cy="849.5" r="1.8" class="q0"/>
<circle cx="209.9" cy="834.2" r="1.8" class="q17"/>
<circle cx="112.4" cy="826.1" r="1.8" class="q14"/>
<circle cx="91.4" cy="845.8" r="1.8" class="q0"/>
<circle cx="128.2" cy="824.5" r="1.8" class="q12"/>
<circle cx="128.0" cy="831.1" r="1.8" class="q10"/>
<circle cx="234.0" cy="780.9" r="1.8" class="q19"/>
<circle cx="175.2" cy="845.2" r="1.8" class="q14"/>
<circle cx="251.1" cy="839.1" r="1.8" class="q17"/>
<circle cx="122.0" cy="854.6" r="1.8" class="q1b"/>
<circle cx="206.0" cy="818.3" r="1.8" class="q20"/>
<circle cx="91.8" cy="867.4" r="1.8" class="q1b"/>
<circle cx="147.8" cy="829.8" r="1.8" class="q15"/>
<circle cx="310.2" cy="840.0" r="1.8" class="q19"/>
<circle cx="145.1" cy="827.3" r="1.8" class="q18"/>
<circle cx="205.4" cy="788.2" r="1.8" class="q19"/>
<circle cx="94.2" cy="854.7" r="1.8" class="q0"/>
<circle cx="168.6" cy="826.0" r="1.8" class="q15"/>
<circle cx="59.9" cy="866.1" r="1.8" class="q1b"/>
<circle cx="228.3" cy="820.4" r="1.8" class="q18"/>
<circle cx="288.4" cy="812.8" r="1.8" class="q20"/>
<circle cx="306.5" cy="826.7" r="1.8" class="q20"/>
<circle cx="113.5" cy="842.7" r="1.8" class="q9"/>
<circle cx="302.2" cy="792.1" r="1.8" class="q20"/>
<circle cx="276.1" cy="795.0" r="1.8" class="q20"/>
<circle cx="249.7" cy="820.4" r="1.8" class="q18"/>
<circle cx="124.9" cy="831.4" r="1.8" class="q11"/>
<circle cx="281.2" cy="822.1" r="1.8" class="q20"/>
<circle cx="63.2" cy="853.2" r="1.8" class="q2"/>
<circle cx="166.0" cy="841.6" r="1.8" class="q15"/>
<circle cx="124.4" cy="823.3" r="1.8" class="q12"/>
<circle cx="273.8" cy="811.0" r="1.8" class="q19"/>
<circle cx="140.5" cy="827.3" r="1.8" class="q13"/>
<circle cx="209.0" cy="804.9" r="1.8" class="q20"/>
<circle cx="310.9" cy="745.7" r="1.8" class="q20"/>
<circle cx="233.8" cy="837.6" r="1.8" class="q17"/>
<circle cx="310.6" cy="802.8" r="1.8" class="q16"/>
<circle cx="249.5" cy="866.7" r="1.8" class="q1b"/>
<circle cx="232.5" cy="791.6" r="1.8" class="q20"/>
<circle cx="86.3" cy="852.1" r="1.8" class="q0"/>
<circle cx="278.0" cy="747.1" r="1.8" class="q20"/>
<circle cx="172.6" cy="830.3" r="1.8" class="q15"/>
<circle cx="251.7" cy="822.4" r="1.8" class="q18"/>
<circle cx="281.7" cy="789.9" r="1.8" class="q19"/>
<circle cx="307.7" cy="818.1" r="1.8" class="q20"/>
<circle cx="311.5" cy="778.2" r="1.8" class="q20"/>
<circle cx="230.8" cy="813.6" r="1.8" class="q18"/>
<circle cx="301.7" cy="866.7" r="1.8" class="q1b"/>
<circle cx="299.4" cy="818.7" r="1.8" class="q20"/>
<circle cx="68.2" cy="844.8" r="1.8" class="q1"/>
<circle cx="149.2" cy="846.8" r="1.8" class="q11"/>
<circle cx="99.3" cy="854.5" r="1.8" class="q0"/>
<circle cx="279.2" cy="838.9" r="1.8" class="q20"/>
<circle cx="193.2" cy="866.2" r="1.8" class="q1b"/>
<circle cx="277.7" cy="821.1" r="1.8" class="q19"/>
<circle cx="129.2" cy="818.3" r="1.8" class="q12"/>
<circle cx="175.1" cy="826.6" r="1.8" class="q14"/>
<circle cx="219.4" cy="826.7" r="1.8" class="q20"/>
<circle cx="276.8" cy="778.3" r="1.8" class="q20"/>
<circle cx="69.9" cy="844.5" r="1.8" class="q1"/>
<circle cx="236.8" cy="866.9" r="1.8" class="q1b"/>
<circle cx="128.5" cy="855.7" r="1.8" class="q1b"/>
<circle cx="300.9" cy="763.4" r="1.8" class="q20"/>
<circle cx="70.3" cy="849.4" r="1.8" class="q1"/>
<circle cx="104.4" cy="832.4" r="1.8" class="q9"/>
<circle cx="74.5" cy="856.0" r="1.8" class="q1"/>
<circle cx="185.7" cy="819.5" r="1.8" class="q15"/>
<circle cx="90.0" cy="846.4" r="1.8" class="q0"/>
<circle cx="170.5" cy="820.0" r="1.8" class="q18"/>
<circle cx="138.4" cy="831.8" r="1.8" class="q15"/>
<circle cx="75.5" cy="854.1" r="1.8" class="q3"/>
<circle cx="258.2" cy="795.5" r="1.8" class="q19"/>
<circle cx="123.3" cy="842.3" r="1.8" class="q8"/>
<circle cx="104.2" cy="866.7" r="1.8" class="q0b"/>
<circle cx="173.8" cy="834.6" r="1.8" class="q16"/>
<circle cx="165.9" cy="838.0" r="1.8" class="q15"/>
<circle cx="274.6" cy="867.2" r="1.8" class="q1b"/>
<circle cx="310.2" cy="823.4" r="1.8" class="q20"/>
<circle cx="155.3" cy="825.1" r="1.8" class="q13"/>
<circle cx="124.6" cy="841.2" r="1.8" class="q6"/>
<circle cx="144.4" cy="818.8" r="1.8" class="q17"/>
<circle cx="114.8" cy="835.4" r="1.8" class="q12"/>
<circle cx="201.2" cy="822.4" r="1.8" class="q18"/>
<circle cx="194.5" cy="811.9" r="1.8" class="q16"/>
<circle cx="152.5" cy="836.4" r="1.8" class="q19"/>
<circle cx="184.9" cy="794.8" r="1.8" class="q15"/>
<circle cx="201.3" cy="776.6" r="1.8" class="q20"/>
<circle cx="304.5" cy="805.2" r="1.8" class="q18"/>
<circle cx="76.5" cy="857.2" r="1.8" class="q0"/>
<circle cx="282.7" cy="806.2" r="1.8" class="q18"/>
<circle cx="138.3" cy="866.2" r="1.8" class="q1b"/>
<circle cx="317.5" cy="798.9" r="1.8" class="q20"/>
<circle cx="284.1" cy="839.6" r="1.8" class="q20"/>
<circle cx="100.9" cy="866.9" r="1.8" class="q0b"/>
<circle cx="116.6" cy="836.2" r="1.8" class="q9"/>
<circle cx="103.4" cy="838.6" r="1.8" class="q4"/>
<circle cx="195.1" cy="833.8" r="1.8" class="q18"/>
<circle cx="119.6" cy="823.8" r="1.8" class="q14"/>
<circle cx="185.0" cy="818.7" r="1.8" class="q18"/>
<circle cx="226.8" cy="786.5" r="1.8" class="q20"/>
<circle cx="317.0" cy="804.0" r="1.8" class="q18"/>
<circle cx="149.9" cy="866.6" r="1.8" class="q1b"/>
<circle cx="172.0" cy="815.6" r="1.8" class="q18"/>
<circle cx="306.9" cy="811.7" r="1.8" class="q19"/>
<circle cx="230.8" cy="854.9" r="1.8" class="q1b"/>
<circle cx="307.3" cy="866.2" r="1.8" class="q0b"/>
<circle cx="167.0" cy="836.1" r="1.8" class="q17"/>
<circle cx="125.7" cy="811.7" r="1.8" class="q16"/>
<circle cx="315.2" cy="776.8" r="1.8" class="q20"/>
<circle cx="314.4" cy="759.1" r="1.8" class="q20"/>
<circle cx="89.7" cy="840.0" r="1.8" class="q4"/>
<circle cx="207.9" cy="827.3" r="1.8" class="q18"/>
<circle cx="272.7" cy="752.4" r="1.8" class="q20"/>
<circle cx="302.6" cy="836.2" r="1.8" class="q15"/>
<circle cx="95.0" cy="843.1" r="1.8" class="q0"/>
<circle cx="280.2" cy="796.3" r="1.8" class="q19"/>
<circle cx="64.4" cy="849.2" r="1.8" class="q0"/>
<circle cx="154.2" cy="832.5" r="1.8" class="q17"/>
<circle cx="117.2" cy="823.2" r="1.8" class="q12"/>
<circle cx="262.6" cy="820.5" r="1.8" class="q18"/>
<circle cx="259.8" cy="802.1" r="1.8" class="q19"/>
<circle cx="261.1" cy="866.4" r="1.8" class="q1b"/>
<circle cx="276.9" cy="808.1" r="1.8" class="q20"/>
<circle cx="252.8" cy="866.4" r="1.8" class="q0b"/>
<circle cx="72.8" cy="845.4" r="1.8" class="q0"/>
<circle cx="276.3" cy="830.6" r="1.8" class="q17"/>
<circle cx="100.7" cy="827.4" r="1.8" class="q10"/>
<circle cx="222.8" cy="791.1" r="1.8" class="q20"/>
<circle cx="222.7" cy="805.0" r="1.8" class="q19"/>
<circle cx="284.3" cy="837.2" r="1.8" class="q19"/>
<circle cx="177.8" cy="838.9" r="1.8" class="q17"/>
<circle cx="97.1" cy="854.9" r="1.8" class="q0"/>
<circle cx="276.2" cy="821.8" r="1.8" class="q18"/>
<circle cx="59.1" cy="854.0" r="1.8" class="q3"/>
<circle cx="139.1" cy="806.4" r="1.8" class="q17"/>
<circle cx="131.2" cy="840.8" r="1.8" class="q8"/>
<circle cx="210.0" cy="842.4" r="1.8" class="q18"/>
<circle cx="198.7" cy="833.6" r="1.8" class="q18"/>
<circle cx="69.1" cy="854.0" r="1.8" class="q1"/>
<circle cx="289.7" cy="777.9" r="1.8" class="q19"/>
<circle cx="288.1" cy="791.2" r="1.8" class="q20"/>
<circle cx="148.7" cy="840.1" r="1.8" class="q12"/>
<circle cx="193.5" cy="817.5" r="1.8" class="q16"/>
<circle cx="69.3" cy="845.7" r="1.8" class="q1"/>
<circle cx="235.6" cy="855.6" r="1.8" class="q1b"/>
<circle cx="92.7" cy="855.5" r="1.8" class="q1b"/>
<circle cx="171.4" cy="835.5" r="1.8" class="q20"/>
<circle cx="61.0" cy="854.2" r="1.8" class="q1"/>
<circle cx="143.9" cy="820.5" r="1.8" class="q18"/>
<circle cx="182.5" cy="822.8" r="1.8" class="q16"/>
<circle cx="299.0" cy="774.4" r="1.8" class="q19"/>
<circle cx="221.3" cy="814.8" r="1.8" class="q18"/>
<circle cx="299.5" cy="823.5" r="1.8" class="q18"/>
<circle cx="301.6" cy="785.7" r="1.8" class="q19"/>
<circle cx="206.1" cy="866.9" r="1.8" class="q1b"/>
<circle cx="179.7" cy="818.1" r="1.8" class="q18"/>
<circle cx="206.4" cy="817.6" r="1.8" class="q20"/>
<circle cx="288.9" cy="820.8" r="1.8" class="q18"/>
<circle cx="195.5" cy="803.8" r="1.8" class="q20"/>
<circle cx="287.4" cy="778.4" r="1.8" class="q20"/>
<circle cx="85.1" cy="831.8" r="1.8" class="q8"/>
<circle cx="207.8" cy="838.2" r="1.8" class="q18"/>
<circle cx="95.2" cy="839.7" r="1.8" class="q1"/>
<circle cx="167.3" cy="818.0" r="1.8" class="q19"/>
<circle cx="118.5" cy="839.5" r="1.8" class="q8"/>
<circle cx="100.5" cy="850.0" r="1.8" class="q0"/>
<circle cx="193.8" cy="838.4" r="1.8" class="q14"/>
<circle cx="114.9" cy="855.7" r="1.8" class="q1b"/>
<circle cx="195.0" cy="815.8" r="1.8" class="q20"/>
<circle cx="127.3" cy="822.3" r="1.8" class="q13"/>
<circle cx="181.6" cy="866.6" r="1.8" class="q0b"/>
<circle cx="278.5" cy="819.6" r="1.8" class="q20"/>
<circle cx="66.2" cy="850.8" r="1.8" class="q3"/>
<circle cx="286.1" cy="832.7" r="1.8" class="q17"/>
<circle cx="253.2" cy="825.9" r="1.8" class="q19"/>
<circle cx="70.7" cy="866.5" r="1.8" class="q0b"/>
<circle cx="204.3" cy="822.8" r="1.8" class="q18"/>
<circle cx="89.0" cy="854.9" r="1.8" class="q1b"/>
<circle cx="280.1" cy="825.0" r="1.8" class="q16"/>
<circle cx="204.3" cy="817.7" r="1.8" class="q18"/>
<circle cx="263.2" cy="834.7" r="1.8" class="q16"/>
<circle cx="95.8" cy="842.4" r="1.8" class="q0"/>
<circle cx="169.8" cy="818.5" r="1.8" class="q15"/>
<circle cx="200.0" cy="819.1" r="1.8" class="q20"/>
<circle cx="104.3" cy="852.1" r="1.8" class="q0"/>
<circle cx="224.2" cy="806.2" r="1.8" class="q17"/>
<circle cx="74.5" cy="843.4" r="1.8" class="q1"/>
<circle cx="59.4" cy="840.6" r="1.8" class="q2"/>
<circle cx="113.0" cy="867.5" r="1.8" class="q1b"/>
<circle cx="130.5" cy="846.1" r="1.8" class="q7"/>
<circle cx="147.7" cy="815.3" r="1.8" class="q16"/>
<circle cx="226.9" cy="832.2" r="1.8" class="q20"/>
<circle cx="212.1" cy="839.9" r="1.8" class="q16"/>
<circle cx="147.8" cy="804.8" r="1.8" class="q18"/>
<circle cx="89.9" cy="854.9" r="1.8" class="q1b"/>
<circle cx="60.4" cy="840.9" r="1.8" class="q2"/>
<circle cx="89.0" cy="828.8" r="1.8" class="q9"/>
<circle cx="264.7" cy="829.7" r="1.8" class="q19"/>
<circle cx="248.8" cy="811.0" r="1.8" class="q19"/>
<circle cx="200.8" cy="800.2" r="1.8" class="q20"/>
<circle cx="261.6" cy="815.2" r="1.8" class="q18"/>
<circle cx="299.7" cy="824.2" r="1.8" class="q16"/>
<circle cx="250.9" cy="822.2" r="1.8" class="q18"/>
<circle cx="168.3" cy="839.2" r="1.8" class="q17"/>
<circle cx="302.9" cy="855.2" r="1.8" class="q0b"/>
<circle cx="233.6" cy="812.1" r="1.8" class="q18"/>
<circle cx="115.3" cy="866.0" r="1.8" class="q1b"/>
<circle cx="224.1" cy="817.1" r="1.8" class="q18"/>
<circle cx="111.7" cy="856.3" r="1.8" class="q1b"/>
<circle cx="311.2" cy="753.2" r="1.8" class="q20"/>
<circle cx="123.6" cy="850.1" r="1.8" class="q4"/>
<circle cx="239.3" cy="788.2" r="1.8" class="q20"/>
<circle cx="235.9" cy="821.4" r="1.8" class="q19"/>
<circle cx="317.6" cy="838.4" r="1.8" class="q16"/>
<circle cx="264.8" cy="750.5" r="1.8" class="q20"/>
<circle cx="230.4" cy="822.2" r="1.8" class="q16"/>
<circle cx="124.7" cy="847.0" r="1.8" class="q8"/>
<circle cx="251.1" cy="801.3" r="1.8" class="q20"/>
<circle cx="287.4" cy="822.9" r="1.8" class="q18"/>
<circle cx="237.4" cy="842.7" r="1.8" class="q18"/>
<circle cx="169.2" cy="820.2" r="1.8" class="q18"/>
<circle cx="312.8" cy="855.7" r="1.8" class="q0b"/>
<circle cx="290.7" cy="822.8" r="1.8" class="q20"/>
<circle cx="177.9" cy="767.1" r="1.8" class="q20"/>
<circle cx="64.9" cy="858.7" r="1.8" class="q2"/>
<circle cx="291.3" cy="821.1" r="1.8" class="q19"/>
<circle cx="166.8" cy="825.6" r="1.8" class="q19"/>
<circle cx="231.0" cy="834.7" r="1.8" class="q18"/>
<circle cx="299.1" cy="781.1" r="1.8" class="q20"/>
<circle cx="61.0" cy="866.8" r="1.8" class="q1b"/>
<circle cx="73.0" cy="854.9" r="1.8" class="q0b"/>
<circle cx="62.5" cy="855.6" r="1.8" class="q2"/>
<circle cx="138.4" cy="793.0" r="1.8" class="q20"/>
<circle cx="312.2" cy="746.1" r="1.8" class="q20"/>
<circle cx="206.6" cy="843.3" r="1.8" class="q16"/>
<circle cx="304.3" cy="776.2" r="1.8" class="q20"/>
<circle cx="205.1" cy="815.8" r="1.8" class="q20"/>
<circle cx="194.5" cy="843.6" r="1.8" class="q13"/>
<circle cx="316.0" cy="821.5" r="1.8" class="q19"/>
<circle cx="254.7" cy="798.6" r="1.8" class="q20"/>
<circle cx="312.4" cy="835.5" r="1.8" class="q20"/>
<circle cx="175.9" cy="816.8" r="1.8" class="q16"/>
<circle cx="254.9" cy="814.9" r="1.8" class="q20"/>
<circle cx="146.8" cy="866.4" r="1.8" class="q1b"/>
<circle cx="114.1" cy="865.8" r="1.8" class="q0b"/>
<circle cx="181.8" cy="845.3" r="1.8" class="q19"/>
<circle cx="172.6" cy="834.7" r="1.8" class="q13"/>
<circle cx="210.1" cy="866.5" r="1.8" class="q0b"/>
<circle cx="178.0" cy="824.3" r="1.8" class="q20"/>
<circle cx="208.1" cy="796.0" r="1.8" class="q20"/>
<circle cx="141.2" cy="849.1" r="1.8" class="q14"/>
<circle cx="71.6" cy="834.6" r="1.8" class="q1"/>
<circle cx="201.4" cy="811.8" r="1.8" class="q20"/>
<circle cx="316.2" cy="796.8" r="1.8" class="q20"/>
<circle cx="287.8" cy="808.8" r="1.8" class="q20"/>
<circle cx="254.3" cy="855.3" r="1.8" class="q1b"/>
<circle cx="74.7" cy="848.5" r="1.8" class="q3"/>
<circle cx="281.0" cy="777.0" r="1.8" class="q20"/>
<circle cx="94.1" cy="825.7" r="1.8" class="q10"/>
<circle cx="276.9" cy="855.1" r="1.8" class="q0b"/>
<circle cx="230.2" cy="831.9" r="1.8" class="q17"/>
<circle cx="59.1" cy="852.2" r="1.8" class="q3"/>
<circle cx="199.2" cy="805.1" r="1.8" class="q19"/>
<circle cx="72.0" cy="855.7" r="1.8" class="q0b"/>
<circle cx="258.9" cy="837.9" r="1.8" class="q15"/>
<circle cx="91.4" cy="856.2" r="1.8" class="q0"/>
<circle cx="194.1" cy="816.8" r="1.8" class="q17"/>
<circle cx="273.0" cy="856.1" r="1.8" class="q1b"/>
<circle cx="292.2" cy="820.7" r="1.8" class="q18"/>
<circle cx="125.0" cy="835.1" r="1.8" class="q11"/>
<circle cx="78.3" cy="855.9" r="1.8" class="q0b"/>
<circle cx="91.9" cy="866.1" r="1.8" class="q0b"/>
<circle cx="194.3" cy="818.7" r="1.8" class="q19"/>
<circle cx="184.2" cy="831.1" r="1.8" class="q15"/>
<circle cx="60.9" cy="840.1" r="1.8" class="q2"/>
<circle cx="193.1" cy="791.3" r="1.8" class="q20"/>
<circle cx="254.1" cy="831.5" r="1.8" class="q16"/>
<circle cx="312.7" cy="811.5" r="1.8" class="q18"/>
<circle cx="196.9" cy="856.1" r="1.8" class="q0b"/>
<circle cx="129.9" cy="821.9" r="1.8" class="q13"/>
<circle cx="126.3" cy="833.2" r="1.8" class="q11"/>
<circle cx="303.8" cy="866.6" r="1.8" class="q0b"/>
<circle cx="145.4" cy="866.8" r="1.8" class="q0b"/>
<circle cx="150.7" cy="855.3" r="1.8" class="q1b"/>
<circle cx="257.9" cy="854.6" r="1.8" class="q0b"/>
<circle cx="257.1" cy="792.4" r="1.8" class="q20"/>
<circle cx="237.8" cy="804.4" r="1.8" class="q20"/>
<circle cx="86.1" cy="829.3" r="1.8" class="q7"/>
<circle cx="177.7" cy="805.9" r="1.8" class="q18"/>
<circle cx="219.1" cy="824.1" r="1.8" class="q17"/>
<circle cx="177.2" cy="855.0" r="1.8" class="q1b"/>
<circle cx="124.5" cy="832.9" r="1.8" class="q12"/>
<circle cx="246.4" cy="865.9" r="1.8" class="q1b"/>
<circle cx="147.0" cy="842.4" r="1.8" class="q16"/>
<circle cx="65.2" cy="831.1" r="1.8" class="q0"/>
<circle cx="287.9" cy="812.0" r="1.8" class="q18"/>
<circle cx="279.5" cy="806.6" r="1.8" class="q20"/>
<circle cx="194.1" cy="865.8" r="1.8" class="q1b"/>
<circle cx="224.8" cy="832.8" r="1.8" class="q20"/>
<circle cx="210.3" cy="815.9" r="1.8" class="q16"/>
<circle cx="306.1" cy="866.9" r="1.8" class="q1b"/>
<circle cx="197.8" cy="832.1" r="1.8" class="q14"/>
<circle cx="156.6" cy="848.0" r="1.8" class="q11"/>
<circle cx="314.4" cy="770.3" r="1.8" class="q20"/>
<circle cx="194.7" cy="866.8" r="1.8" class="q1b"/>
<circle cx="236.6" cy="780.8" r="1.8" class="q19"/>
<circle cx="93.0" cy="840.3" r="1.8" class="q1"/>
<circle cx="246.4" cy="821.0" r="1.8" class="q17"/>
<circle cx="169.7" cy="828.3" r="1.8" class="q19"/>
<circle cx="64.0" cy="846.1" r="1.8" class="q1"/>
<circle cx="98.8" cy="821.0" r="1.8" class="q17"/>
<circle cx="65.5" cy="857.0" r="1.8" class="q0"/>
<circle cx="152.2" cy="822.4" r="1.8" class="q15"/>
<circle cx="103.6" cy="855.4" r="1.8" class="q0b"/>
<circle cx="99.0" cy="855.2" r="1.8" class="q0b"/>
<circle cx="281.8" cy="827.1" r="1.8" class="q17"/>
<circle cx="139.7" cy="840.1" r="1.8" class="q15"/>
<circle cx="254.1" cy="832.2" r="1.8" class="q18"/>
<circle cx="256.4" cy="809.8" r="1.8" class="q18"/>
<circle cx="140.0" cy="799.7" r="1.8" class="q18"/>
<circle cx="304.1" cy="867.0" r="1.8" class="q0b"/>
<circle cx="86.9" cy="855.4" r="1.8" class="q0"/>
<circle cx="140.6" cy="809.8" r="1.8" class="q16"/>
<circle cx="152.6" cy="834.0" r="1.8" class="q16"/>
<circle cx="222.2" cy="799.9" r="1.8" class="q20"/>
<circle cx="225.3" cy="787.0" r="1.8" class="q20"/>
<circle cx="208.3" cy="867.6" r="1.8" class="q0b"/>
<circle cx="76.4" cy="855.8" r="1.8" class="q0"/>
<circle cx="131.0" cy="851.4" r="1.8" class="q6"/>
<circle cx="102.1" cy="866.3" r="1.8" class="q0b"/>
<circle cx="219.7" cy="805.8" r="1.8" class="q19"/>
<circle cx="284.0" cy="784.2" r="1.8" class="q20"/>
<circle cx="237.0" cy="809.8" r="1.8" class="q19"/>
<circle cx="113.2" cy="847.0" r="1.8" class="q8"/>
<circle cx="85.7" cy="854.1" r="1.8" class="q0"/>
<circle cx="115.9" cy="825.6" r="1.8" class="q13"/>
<circle cx="202.4" cy="817.2" r="1.8" class="q18"/>
<circle cx="278.6" cy="767.1" r="1.8" class="q20"/>
<circle cx="196.5" cy="788.8" r="1.8" class="q20"/>
<circle cx="121.0" cy="842.1" r="1.8" class="q5"/>
<circle cx="201.6" cy="812.9" r="1.8" class="q20"/>
<circle cx="97.9" cy="851.2" r="1.8" class="q0"/>
<circle cx="196.9" cy="796.9" r="1.8" class="q18"/>
<circle cx="157.0" cy="832.9" r="1.8" class="q16"/>
<circle cx="95.4" cy="817.9" r="1.8" class="q15"/>
<circle cx="166.0" cy="821.0" r="1.8" class="q19"/>
<circle cx="257.9" cy="840.7" r="1.8" class="q17"/>
<circle cx="278.5" cy="785.4" r="1.8" class="q18"/>
<circle cx="198.0" cy="842.5" r="1.8" class="q15"/>
<circle cx="309.1" cy="825.0" r="1.8" class="q20"/>
<circle cx="95.2" cy="867.0" r="1.8" class="q0b"/>
<circle cx="150.8" cy="833.2" r="1.8" class="q14"/>
<circle cx="232.4" cy="822.4" r="1.8" class="q19"/>
<circle cx="167.9" cy="804.1" r="1.8" class="q19"/>
<circle cx="194.6" cy="834.3" r="1.8" class="q18"/>
<circle cx="127.5" cy="821.7" r="1.8" class="q13"/>
<circle cx="248.0" cy="842.6" r="1.8" class="q17"/>
<circle cx="301.3" cy="825.8" r="1.8" class="q16"/>
<circle cx="239.0" cy="867.0" r="1.8" class="q1b"/>
<circle cx="169.3" cy="855.3" r="1.8" class="q0b"/>
<circle cx="246.8" cy="815.9" r="1.8" class="q16"/>
<circle cx="184.3" cy="835.6" r="1.8" class="q15"/>
<circle cx="287.0" cy="818.4" r="1.8" class="q19"/>
<circle cx="183.2" cy="855.3" r="1.8" class="q0b"/>
<circle cx="75.2" cy="849.0" r="1.8" class="q2"/>
<circle cx="227.3" cy="781.7" r="1.8" class="q20"/>
<circle cx="154.3" cy="817.5" r="1.8" class="q18"/>
<circle cx="204.8" cy="812.4" r="1.8" class="q17"/>
<circle cx="63.1" cy="856.0" r="1.8" class="q0"/>
<circle cx="291.4" cy="793.5" r="1.8" class="q18"/>
<circle cx="236.0" cy="830.6" r="1.8" class="q17"/>
<circle cx="127.0" cy="839.0" r="1.8" class="q8"/>
<circle cx="272.8" cy="855.7" r="1.8" class="q0b"/>
<circle cx="75.1" cy="843.6" r="1.8" class="q1"/>
<circle cx="277.4" cy="835.9" r="1.8" class="q18"/>
<circle cx="275.4" cy="822.7" r="1.8" class="q18"/>
<circle cx="310.7" cy="824.6" r="1.8" class="q17"/>
<circle cx="233.1" cy="800.1" r="1.8" class="q20"/>
<circle cx="197.3" cy="831.4" r="1.8" class="q17"/>
<circle cx="143.0" cy="809.7" r="1.8" class="q20"/>
<circle cx="250.6" cy="777.3" r="1.8" class="q20"/>
<circle cx="222.3" cy="820.2" r="1.8" class="q16"/>
<circle cx="302.1" cy="782.1" r="1.8" class="q20"/>
<circle cx="148.9" cy="866.6" r="1.8" class="q0b"/>
<circle cx="125.5" cy="855.0" r="1.8" class="q0b"/>
<circle cx="92.6" cy="854.6" r="1.8" class="q0b"/>
<circle cx="232.4" cy="855.1" r="1.8" class="q0b"/>
<circle cx="62.3" cy="838.8" r="1.8" class="q1"/>
<circle cx="114.5" cy="842.8" r="1.8" class="q4"/>
<circle cx="316.4" cy="791.4" r="1.8" class="q19"/>
<circle cx="138.3" cy="811.2" r="1.8" class="q18"/>
<circle cx="309.8" cy="811.6" r="1.8" class="q19"/>
<circle cx="236.9" cy="843.6" r="1.8" class="q17"/>
<circle cx="196.8" cy="776.2" r="1.8" class="q19"/>
<circle cx="174.1" cy="846.4" r="1.8" class="q14"/>
<circle cx="153.9" cy="821.3" r="1.8" class="q17"/>
<circle cx="138.5" cy="866.8" r="1.8" class="q1b"/>
<circle cx="224.0" cy="839.4" r="1.8" class="q17"/>
<circle cx="231.3" cy="805.8" r="1.8" class="q19"/>
<circle cx="69.6" cy="855.4" r="1.8" class="q1"/>
<circle cx="272.9" cy="752.9" r="1.8" class="q20"/>
<circle cx="165.8" cy="819.2" r="1.8" class="q16"/>
<circle cx="138.5" cy="809.6" r="1.8" class="q18"/>
<circle cx="192.2" cy="805.9" r="1.8" class="q20"/>
<circle cx="238.6" cy="819.7" r="1.8" class="q15"/>
<circle cx="143.3" cy="835.0" r="1.8" class="q16"/>
<circle cx="74.5" cy="847.5" r="1.8" class="q1"/>
<circle cx="59.1" cy="845.8" r="1.8" class="q2"/>
<circle cx="199.3" cy="855.2" r="1.8" class="q1b"/>
<circle cx="303.2" cy="793.9" r="1.8" class="q20"/>
<circle cx="199.6" cy="791.8" r="1.8" class="q19"/>
<circle cx="302.5" cy="867.8" r="1.8" class="q1b"/>
<circle cx="255.6" cy="828.2" r="1.8" class="q19"/>
<circle cx="259.6" cy="801.5" r="1.8" class="q20"/>
<circle cx="302.7" cy="784.7" r="1.8" class="q19"/>
<circle cx="306.9" cy="741.0" r="1.8" class="q20"/>
<circle cx="152.4" cy="833.2" r="1.8" class="q12"/>
<circle cx="220.4" cy="832.2" r="1.8" class="q17"/>
<circle cx="112.8" cy="824.6" r="1.8" class="q13"/>
<circle cx="155.0" cy="833.5" r="1.8" class="q13"/>
<circle cx="231.7" cy="866.8" r="1.8" class="q0b"/>
<circle cx="197.8" cy="843.7" r="1.8" class="q18"/>
<circle cx="126.2" cy="818.3" r="1.8" class="q16"/>
<circle cx="226.5" cy="796.3" r="1.8" class="q20"/>
<circle cx="122.6" cy="837.3" r="1.8" class="q10"/>
<circle cx="145.6" cy="841.8" r="1.8" class="q14"/>
<circle cx="306.7" cy="817.2" r="1.8" class="q20"/>
<circle cx="112.5" cy="797.6" r="1.8" class="q20"/>
<circle cx="117.5" cy="818.7" r="1.8" class="q18"/>
<circle cx="222.7" cy="844.1" r="1.8" class="q16"/>
<circle cx="180.5" cy="806.0" r="1.8" class="q20"/>
<circle cx="98.9" cy="842.7" r="1.8" class="q1"/>
<circle cx="278.5" cy="780.6" r="1.8" class="q20"/>
<circle cx="233.0" cy="817.5" r="1.8" class="q20"/>
<circle cx="260.8" cy="867.3" r="1.8" class="q1b"/>
<circle cx="142.0" cy="805.8" r="1.8" class="q18"/>
<circle cx="65.4" cy="855.4" r="1.8" class="q0"/>
<circle cx="258.9" cy="786.8" r="1.8" class="q19"/>
<circle cx="205.6" cy="826.4" r="1.8" class="q17"/>
<circle cx="143.4" cy="837.8" r="1.8" class="q12"/>
<circle cx="147.3" cy="826.3" r="1.8" class="q17"/>
<circle cx="249.6" cy="766.4" r="1.8" class="q19"/>
<circle cx="183.6" cy="825.2" r="1.8" class="q18"/>
<circle cx="282.0" cy="780.5" r="1.8" class="q20"/>
<circle cx="130.1" cy="851.0" r="1.8" class="q7"/>
<circle cx="141.7" cy="798.9" r="1.8" class="q20"/>
<circle cx="61.5" cy="844.1" r="1.8" class="q3"/>
<circle cx="315.3" cy="793.4" r="1.8" class="q20"/>
<circle cx="305.3" cy="855.6" r="1.8" class="q0b"/>
<circle cx="210.2" cy="822.2" r="1.8" class="q20"/>
<circle cx="105.0" cy="852.6" r="1.8" class="q0"/>
<circle cx="248.8" cy="766.3" r="1.8" class="q20"/>
<circle cx="145.5" cy="808.1" r="1.8" class="q15"/>
<circle cx="119.8" cy="800.1" r="1.8" class="q20"/>
<circle cx="90.1" cy="833.6" r="1.8" class="q7"/>
<circle cx="286.8" cy="824.5" r="1.8" class="q16"/>
<circle cx="235.9" cy="794.0" r="1.8" class="q20"/>
<circle cx="170.1" cy="840.9" r="1.8" class="q16"/>
<circle cx="185.2" cy="846.1" r="1.8" class="q14"/>
<circle cx="166.4" cy="793.0" r="1.8" class="q18"/>
<circle cx="300.9" cy="821.9" r="1.8" class="q20"/>
<circle cx="64.9" cy="854.2" r="1.8" class="q1"/>
<circle cx="113.0" cy="822.9" r="1.8" class="q15"/>
<circle cx="157.3" cy="866.5" r="1.8" class="q1b"/>
<circle cx="286.6" cy="829.2" r="1.8" class="q16"/>
<circle cx="203.9" cy="836.3" r="1.8" class="q19"/>
<circle cx="287.9" cy="776.1" r="1.8" class="q20"/>
<circle cx="207.4" cy="805.4" r="1.8" class="q20"/>
<circle cx="166.3" cy="800.2" r="1.8" class="q19"/>
<circle cx="204.8" cy="844.3" r="1.8" class="q16"/>
<circle cx="71.1" cy="843.0" r="1.8" class="q1"/>
<circle cx="131.2" cy="834.7" r="1.8" class="q11"/>
<circle cx="157.3" cy="834.1" r="1.8" class="q14"/>
<circle cx="89.4" cy="850.4" r="1.8" class="q0"/>
<circle cx="285.9" cy="827.9" r="1.8" class="q17"/>
<circle cx="71.8" cy="855.7" r="1.8" class="q1b"/>
<circle cx="259.8" cy="866.6" r="1.8" class="q1b"/>
<circle cx="286.9" cy="815.6" r="1.8" class="q20"/>
<circle cx="125.2" cy="833.0" r="1.8" class="q9"/>
<circle cx="253.7" cy="815.4" r="1.8" class="q17"/>
<circle cx="278.1" cy="823.3" r="1.8" class="q17"/>
<circle cx="262.7" cy="842.3" r="1.8" class="q16"/>
<circle cx="193.9" cy="866.9" r="1.8" class="q1b"/>
<circle cx="169.4" cy="837.0" r="1.8" class="q17"/>
<circle cx="252.3" cy="810.7" r="1.8" class="q18"/>
<circle cx="117.2" cy="787.3" r="1.8" class="q20"/>
<circle cx="96.7" cy="849.4" r="1.8" class="q0"/>
<circle cx="179.2" cy="812.7" r="1.8" class="q16"/>
<circle cx="185.1" cy="790.1" r="1.8" class="q18"/>
<circle cx="262.0" cy="788.2" r="1.8" class="q19"/>
<circle cx="96.3" cy="848.2" r="1.8" class="q0"/>
<circle cx="116.5" cy="851.2" r="1.8" class="q5"/>
<circle cx="251.1" cy="783.0" r="1.8" class="q20"/>
<circle cx="78.3" cy="855.3" r="1.8" class="q1b"/>
<circle cx="300.6" cy="829.0" r="1.8" class="q17"/>
<circle cx="165.7" cy="829.4" r="1.8" class="q17"/>
<circle cx="141.3" cy="806.6" r="1.8" class="q19"/>
<circle cx="292.3" cy="802.2" r="1.8" class="q17"/>
<circle cx="196.4" cy="827.5" r="1.8" class="q15"/>
<circle cx="118.1" cy="828.8" r="1.8" class="q11"/>
<circle cx="120.7" cy="809.3" r="1.8" class="q20"/>
<circle cx="178.7" cy="843.8" r="1.8" class="q16"/>
<circle cx="236.1" cy="802.2" r="1.8" class="q20"/>
<circle cx="251.6" cy="842.2" r="1.8" class="q18"/>
<circle cx="318.1" cy="759.6" r="1.8" class="q20"/>
<circle cx="185.1" cy="840.0" r="1.8" class="q19"/>
<circle cx="290.5" cy="866.6" r="1.8" class="q1b"/>
<circle cx="258.6" cy="866.0" r="1.8" class="q1b"/>
<circle cx="121.8" cy="849.2" r="1.8" class="q4"/>
<circle cx="157.9" cy="855.6" r="1.8" class="q1b"/>
<circle cx="253.0" cy="801.2" r="1.8" class="q17"/>
<circle cx="142.6" cy="787.9" r="1.8" class="q18"/>
<circle cx="146.3" cy="806.9" r="1.8" class="q20"/>
<circle cx="201.4" cy="866.5" r="1.8" class="q1b"/>
<circle cx="310.2" cy="743.2" r="1.8" class="q20"/>
<circle cx="205.3" cy="840.2" r="1.8" class="q15"/>
<circle cx="276.3" cy="791.2" r="1.8" class="q20"/>
<circle cx="310.7" cy="820.3" r="1.8" class="q17"/>
<circle cx="95.9" cy="823.1" r="1.8" class="q14"/>
<circle cx="167.5" cy="815.9" r="1.8" class="q16"/>
<circle cx="117.2" cy="842.0" r="1.8" class="q9"/>
<circle cx="111.5" cy="847.5" r="1.8" class="q4"/>
<circle cx="301.6" cy="866.3" r="1.8" class="q1b"/>
<circle cx="300.1" cy="855.4" r="1.8" class="q1b"/>
<circle cx="145.1" cy="866.8" r="1.8" class="q1b"/>
<circle cx="143.8" cy="830.5" r="1.8" class="q18"/>
<circle cx="102.0" cy="848.2" r="1.8" class="q0"/>
<circle cx="195.2" cy="811.3" r="1.8" class="q17"/>
<circle cx="155.4" cy="854.5" r="1.8" class="q1b"/>
<circle cx="273.9" cy="837.3" r="1.8" class="q20"/>
<circle cx="259.5" cy="782.5" r="1.8" class="q20"/>
<circle cx="120.7" cy="814.9" r="1.8" class="q14"/>
<circle cx="127.6" cy="841.0" r="1.8" class="q7"/>
<circle cx="64.4" cy="856.3" r="1.8" class="q1"/>
<circle cx="210.2" cy="855.4" r="1.8" class="q1b"/>
</g>
<line x1="68.2" y1="837.7" x2="68.2" y2="858.6" stroke="#000" stroke-width="2.3" />
<line x1="63.4" y1="838.6" x2="73" y2="838.6" stroke="#000" stroke-width="1.9" />
<line x1="63.4" y1="857.7" x2="73" y2="857.7" stroke="#000" stroke-width="1.9" />
<line x1="63.7" y1="848.9" x2="72.7" y2="848.9" stroke="#000" stroke-width="1.3" />
<line x1="95" y1="826.5" x2="95" y2="855.9" stroke="#000" stroke-width="2.3" />
<line x1="90.2" y1="827.4" x2="99.8" y2="827.4" stroke="#000" stroke-width="1.9" />
<line x1="90.2" y1="855" x2="99.8" y2="855" stroke="#000" stroke-width="1.9" />
<line x1="90.5" y1="841.2" x2="99.5" y2="841.2" stroke="#000" stroke-width="1.3" />
<line x1="121.8" y1="816.7" x2="121.8" y2="852" stroke="#000" stroke-width="2.3" />
<line x1="117" y1="817.6" x2="126.6" y2="817.6" stroke="#000" stroke-width="1.9" />
<line x1="117" y1="851.1" x2="126.6" y2="851.1" stroke="#000" stroke-width="1.9" />
<line x1="117.3" y1="834.2" x2="126.3" y2="834.2" stroke="#000" stroke-width="1.3" />
<line x1="148.6" y1="807.9" x2="148.6" y2="849.1" stroke="#000" stroke-width="2.3" />
<line x1="143.8" y1="808.8" x2="153.4" y2="808.8" stroke="#000" stroke-width="1.9" />
<line x1="143.8" y1="848.2" x2="153.4" y2="848.2" stroke="#000" stroke-width="1.9" />
<line x1="144.1" y1="828.8" x2="153.1" y2="828.8" stroke="#000" stroke-width="1.3" />
<line x1="175.4" y1="801.6" x2="175.4" y2="846.5" stroke="#000" stroke-width="2.3" />
<line x1="170.6" y1="802.5" x2="180.2" y2="802.5" stroke="#000" stroke-width="1.9" />
<line x1="170.6" y1="845.6" x2="180.2" y2="845.6" stroke="#000" stroke-width="1.9" />
<line x1="170.9" y1="824.4" x2="179.9" y2="824.4" stroke="#000" stroke-width="1.3" />
<line x1="202.2" y1="795.9" x2="202.2" y2="845.4" stroke="#000" stroke-width="2.3" />
<line x1="197.4" y1="796.8" x2="207" y2="796.8" stroke="#000" stroke-width="1.9" />
<line x1="197.4" y1="844.5" x2="207" y2="844.5" stroke="#000" stroke-width="1.9" />
<line x1="197.7" y1="820.4" x2="206.7" y2="820.4" stroke="#000" stroke-width="1.3" />
<line x1="229" y1="789.3" x2="229" y2="843.7" stroke="#000" stroke-width="2.3" />
<line x1="224.2" y1="790.2" x2="233.8" y2="790.2" stroke="#000" stroke-width="1.9" />
<line x1="224.2" y1="842.8" x2="233.8" y2="842.8" stroke="#000" stroke-width="1.9" />
<line x1="224.5" y1="816.5" x2="233.5" y2="816.5" stroke="#000" stroke-width="1.3" />
<line x1="255.8" y1="782.3" x2="255.8" y2="842.8" stroke="#000" stroke-width="2.3" />
<line x1="251" y1="783.2" x2="260.6" y2="783.2" stroke="#000" stroke-width="1.9" />
<line x1="251" y1="841.9" x2="260.6" y2="841.9" stroke="#000" stroke-width="1.9" />
<line x1="251.3" y1="812.8" x2="260.3" y2="812.8" stroke="#000" stroke-width="1.3" />
<line x1="282.6" y1="776.2" x2="282.6" y2="840.4" stroke="#000" stroke-width="2.3" />
<line x1="277.8" y1="777.1" x2="287.4" y2="777.1" stroke="#000" stroke-width="1.9" />
<line x1="277.8" y1="839.5" x2="287.4" y2="839.5" stroke="#000" stroke-width="1.9" />
<line x1="278.1" y1="808.4" x2="287.1" y2="808.4" stroke="#000" stroke-width="1.3" />
<line x1="309.4" y1="769.2" x2="309.4" y2="839.5" stroke="#000" stroke-width="2.3" />
<line x1="304.6" y1="770.1" x2="314.2" y2="770.1" stroke="#000" stroke-width="1.9" />
<line x1="304.6" y1="838.6" x2="314.2" y2="838.6" stroke="#000" stroke-width="1.9" />
<line x1="304.9" y1="804.7" x2="313.9" y2="804.7" stroke="#000" stroke-width="1.3" />
<rect x="45.6" y="704.4" width="286.7" height="171.7" fill="none" stroke="#b3b3b3" stroke-width="1.0"/>
<line x1="68.2" y1="876.1" x2="68.2" y2="881.9" stroke="#b3b3b3" stroke-width="1.0" />
<text transform="translate(68.2,895.8) scale(1,1.08)" font-size="11.8" text-anchor="middle" fill="#222222" >0.01</text>
<line x1="191.7" y1="876.1" x2="191.7" y2="881.9" stroke="#b3b3b3" stroke-width="1.0" />
<text transform="translate(191.7,895.8) scale(1,1.08)" font-size="11.8" text-anchor="middle" fill="#222222" >0.10</text>
<line x1="315.2" y1="876.1" x2="315.2" y2="881.9" stroke="#b3b3b3" stroke-width="1.0" />
<text transform="translate(315.2,895.8) scale(1,1.08)" font-size="11.8" text-anchor="middle" fill="#222222" >1.00</text>
<line x1="39.6" y1="819.8" x2="45.6" y2="819.8" stroke="#b3b3b3" stroke-width="1.0" />
<text transform="translate(34.3,824) scale(1,1.08)" font-size="11.8" text-anchor="end" fill="#222222" >10</text>
<line x1="39.6" y1="758.8" x2="45.6" y2="758.8" stroke="#b3b3b3" stroke-width="1.0" />
<text transform="translate(34.3,763) scale(1,1.08)" font-size="11.8" text-anchor="end" fill="#222222" >20</text>
<text x="188.95" y="913" font-size="12.4" text-anchor="middle" fill="#000000" >Fitness of a fully resistant capsid</text>
<text transform="translate(12.2,790.3) rotate(-90)" font-size="12.4" text-anchor="middle" fill="#000000">Clearance date (DPI)</text>
<text x="2.4" y="714.4" font-size="14.0" text-anchor="start" fill="#000000" >J</text>
<line x1="485.7" y1="704.4" x2="485.7" y2="876.1" stroke="#e4e4e4" stroke-width="0.75" />
<line x1="606.9" y1="704.4" x2="606.9" y2="876.1" stroke="#e4e4e4" stroke-width="0.75" />
<line x1="401.8" y1="876.5" x2="684.3" y2="876.5" stroke="#e4e4e4" stroke-width="0.75" />
<line x1="401.8" y1="839.1" x2="684.3" y2="839.1" stroke="#e4e4e4" stroke-width="0.75" />
<line x1="401.8" y1="801.7" x2="684.3" y2="801.7" stroke="#e4e4e4" stroke-width="0.75" />
<line x1="401.8" y1="764.3" x2="684.3" y2="764.3" stroke="#e4e4e4" stroke-width="0.75" />
<line x1="401.8" y1="726.9" x2="684.3" y2="726.9" stroke="#e4e4e4" stroke-width="0.75" />
<line x1="425.1" y1="704.4" x2="425.1" y2="876.1" stroke="#d3d3d3" stroke-width="1.0" />
<line x1="546.3" y1="704.4" x2="546.3" y2="876.1" stroke="#d3d3d3" stroke-width="1.0" />
<line x1="667.5" y1="704.4" x2="667.5" y2="876.1" stroke="#d3d3d3" stroke-width="1.0" />
<line x1="401.8" y1="857.8" x2="684.3" y2="857.8" stroke="#d3d3d3" stroke-width="1.0" />
<line x1="401.8" y1="820.4" x2="684.3" y2="820.4" stroke="#d3d3d3" stroke-width="1.0" />
<line x1="401.8" y1="783" x2="684.3" y2="783" stroke="#d3d3d3" stroke-width="1.0" />
<line x1="401.8" y1="745.6" x2="684.3" y2="745.6" stroke="#d3d3d3" stroke-width="1.0" />
<line x1="401.8" y1="708.2" x2="684.3" y2="708.2" stroke="#d3d3d3" stroke-width="1.0" />
<clipPath id="ck"><rect x="401.8" y="704.4" width="282.49999999999994" height="171.70000000000005"/></clipPath>
<g clip-path="url(#ck)" class="K">
<circle cx="513.9" cy="787.2" r="2.3" class="q19"/>
<circle cx="655.0" cy="722.8" r="2.3" class="q17"/>
<circle cx="606.4" cy="764.7" r="2.3" class="q19"/>
<circle cx="512.6" cy="785.3" r="2.3" class="q18"/>
<circle cx="481.7" cy="873.7" r="2.3" class="q0b"/>
<circle cx="507.6" cy="871.5" r="2.3" class="q0b"/>
<circle cx="586.3" cy="872.2" r="2.3" class="q0b"/>
<circle cx="605.6" cy="872.2" r="2.3" class="q1b"/>
<circle cx="662.1" cy="873.1" r="2.3" class="q0b"/>
<circle cx="474.5" cy="810.3" r="2.3" class="q16"/>
<circle cx="619.4" cy="872.4" r="2.3" class="q1b"/>
<circle cx="560.0" cy="784.4" r="2.3" class="q19"/>
<circle cx="579.9" cy="794.2" r="2.3" class="q17"/>
<circle cx="667.7" cy="739.1" r="2.3" class="q20"/>
<circle cx="448.2" cy="838.6" r="2.3" class="q13"/>
<circle cx="536.2" cy="842.0" r="2.3" class="q10"/>
<circle cx="560.7" cy="789.2" r="2.3" class="q20"/>
<circle cx="484.5" cy="823.7" r="2.3" class="q14"/>
<circle cx="592.1" cy="771.6" r="2.3" class="q18"/>
<circle cx="523.8" cy="783.0" r="2.3" class="q20"/>
<circle cx="446.0" cy="856.1" r="2.3" class="q9"/>
<circle cx="479.7" cy="872.2" r="2.3" class="q1b"/>
<circle cx="424.0" cy="872.2" r="2.3" class="q0b"/>
<circle cx="627.1" cy="729.6" r="2.3" class="q18"/>
<circle cx="527.0" cy="767.9" r="2.3" class="q18"/>
<circle cx="630.3" cy="872.3" r="2.3" class="q1b"/>
<circle cx="589.4" cy="873.5" r="2.3" class="q1b"/>
<circle cx="661.3" cy="725.6" r="2.3" class="q20"/>
<circle cx="550.3" cy="869.8" r="2.3" class="q0b"/>
<circle cx="590.7" cy="769.1" r="2.3" class="q20"/>
<circle cx="577.0" cy="872.8" r="2.3" class="q0b"/>
<circle cx="525.9" cy="760.3" r="2.3" class="q20"/>
<circle cx="507.1" cy="785.1" r="2.3" class="q19"/>
<circle cx="607.0" cy="728.8" r="2.3" class="q19"/>
<circle cx="423.5" cy="872.8" r="2.3" class="q0b"/>
<circle cx="636.1" cy="870.1" r="2.3" class="q0b"/>
<circle cx="608.0" cy="771.0" r="2.3" class="q18"/>
<circle cx="566.0" cy="872.2" r="2.3" class="q0b"/>
<circle cx="609.6" cy="747.6" r="2.3" class="q20"/>
<circle cx="534.4" cy="774.3" r="2.3" class="q19"/>
<circle cx="616.4" cy="872.0" r="2.3" class="q1b"/>
<circle cx="442.2" cy="829.3" r="2.3" class="q13"/>
<circle cx="522.9" cy="787.3" r="2.3" class="q20"/>
<circle cx="513.6" cy="840.3" r="2.3" class="q13"/>
<circle cx="547.5" cy="740.2" r="2.3" class="q20"/>
<circle cx="631.0" cy="871.8" r="2.3" class="q0b"/>
<circle cx="656.1" cy="871.7" r="2.3" class="q1b"/>
<circle cx="662.5" cy="724.3" r="2.3" class="q20"/>
<circle cx="468.3" cy="833.7" r="2.3" class="q14"/>
<circle cx="633.5" cy="738.1" r="2.3" class="q19"/>
<circle cx="467.5" cy="868.1" r="2.3" class="q7"/>
<circle cx="525.1" cy="863.3" r="2.3" class="q4"/>
<circle cx="652.5" cy="729.5" r="2.3" class="q19"/>
<circle cx="643.7" cy="726.0" r="2.3" class="q19"/>
<circle cx="443.5" cy="819.2" r="2.3" class="q16"/>
<circle cx="508.3" cy="777.1" r="2.3" class="q18"/>
<circle cx="632.1" cy="872.3" r="2.3" class="q0b"/>
<circle cx="445.1" cy="868.8" r="2.3" class="q6"/>
<circle cx="497.5" cy="873.3" r="2.3" class="q1b"/>
<circle cx="511.2" cy="782.1" r="2.3" class="q19"/>
<circle cx="641.7" cy="748.3" r="2.3" class="q19"/>
<circle cx="611.6" cy="764.8" r="2.3" class="q20"/>
<circle cx="575.5" cy="761.2" r="2.3" class="q17"/>
<circle cx="631.1" cy="747.7" r="2.3" class="q20"/>
<circle cx="589.1" cy="741.8" r="2.3" class="q20"/>
<circle cx="553.4" cy="769.4" r="2.3" class="q20"/>
<circle cx="479.3" cy="861.8" r="2.3" class="q4"/>
<circle cx="505.7" cy="866.3" r="2.3" class="q4"/>
<circle cx="482.3" cy="863.3" r="2.3" class="q5"/>
<circle cx="476.6" cy="809.8" r="2.3" class="q18"/>
<circle cx="480.6" cy="873.7" r="2.3" class="q1b"/>
<circle cx="450.5" cy="843.2" r="2.3" class="q11"/>
<circle cx="548.7" cy="776.6" r="2.3" class="q20"/>
<circle cx="626.0" cy="737.6" r="2.3" class="q20"/>
<circle cx="560.0" cy="872.0" r="2.3" class="q0b"/>
<circle cx="505.8" cy="788.4" r="2.3" class="q18"/>
<circle cx="665.3" cy="746.2" r="2.3" class="q20"/>
<circle cx="469.6" cy="794.8" r="2.3" class="q20"/>
<circle cx="495.2" cy="783.0" r="2.3" class="q19"/>
<circle cx="612.8" cy="739.4" r="2.3" class="q19"/>
<circle cx="500.0" cy="843.6" r="2.3" class="q11"/>
<circle cx="539.9" cy="800.9" r="2.3" class="q19"/>
<circle cx="560.5" cy="781.9" r="2.3" class="q20"/>
<circle cx="551.8" cy="811.4" r="2.3" class="q15"/>
<circle cx="473.5" cy="780.7" r="2.3" class="q20"/>
<circle cx="442.4" cy="870.6" r="2.3" class="q1b"/>
<circle cx="441.7" cy="868.9" r="2.3" class="q4"/>
<circle cx="494.9" cy="798.4" r="2.3" class="q19"/>
<circle cx="663.4" cy="745.7" r="2.3" class="q18"/>
<circle cx="553.4" cy="762.1" r="2.3" class="q20"/>
<circle cx="638.5" cy="872.5" r="2.3" class="q1b"/>
<circle cx="458.0" cy="821.9" r="2.3" class="q14"/>
<circle cx="566.3" cy="871.1" r="2.3" class="q1b"/>
<circle cx="587.2" cy="719.6" r="2.3" class="q19"/>
<circle cx="537.6" cy="871.5" r="2.3" class="q0b"/>
<circle cx="539.9" cy="870.9" r="2.3" class="q0b"/>
<circle cx="565.0" cy="803.7" r="2.3" class="q18"/>
<circle cx="473.6" cy="868.1" r="2.3" class="q5"/>
<circle cx="662.9" cy="871.7" r="2.3" class="q1b"/>
<circle cx="602.5" cy="830.5" r="2.3" class="q13"/>
<circle cx="430.2" cy="869.7" r="2.3" class="q0b"/>
<circle cx="669.3" cy="726.5" r="2.3" class="q18"/>
<circle cx="625.6" cy="747.2" r="2.3" class="q19"/>
<circle cx="560.4" cy="871.3" r="2.3" class="q1b"/>
<circle cx="653.6" cy="728.1" r="2.3" class="q20"/>
<circle cx="550.2" cy="791.0" r="2.3" class="q20"/>
<circle cx="585.6" cy="770.5" r="2.3" class="q19"/>
<circle cx="445.5" cy="863.5" r="2.3" class="q7"/>
<circle cx="513.6" cy="799.5" r="2.3" class="q18"/>
<circle cx="487.2" cy="777.3" r="2.3" class="q20"/>
<circle cx="577.6" cy="772.4" r="2.3" class="q19"/>
<circle cx="532.3" cy="870.7" r="2.3" class="q0b"/>
<circle cx="512.4" cy="873.0" r="2.3" class="q0b"/>
<circle cx="444.7" cy="834.9" r="2.3" class="q11"/>
<circle cx="441.8" cy="846.1" r="2.3" class="q10"/>
<circle cx="613.3" cy="770.6" r="2.3" class="q18"/>
<circle cx="640.1" cy="725.9" r="2.3" class="q19"/>
<circle cx="562.3" cy="775.2" r="2.3" class="q18"/>
<circle cx="450.4" cy="873.9" r="2.3" class="q0b"/>
<circle cx="480.8" cy="871.7" r="2.3" class="q0b"/>
<circle cx="471.2" cy="870.9" r="2.3" class="q0b"/>
<circle cx="485.8" cy="873.9" r="2.3" class="q1b"/>
<circle cx="638.9" cy="737.9" r="2.3" class="q20"/>
<circle cx="550.4" cy="784.2" r="2.3" class="q20"/>
<circle cx="502.5" cy="873.1" r="2.3" class="q0b"/>
<circle cx="635.8" cy="766.5" r="2.3" class="q20"/>
<circle cx="523.1" cy="767.4" r="2.3" class="q20"/>
<circle cx="472.4" cy="869.9" r="2.3" class="q0b"/>
<circle cx="417.9" cy="875.0" r="2.3" class="q1b"/>
<circle cx="487.3" cy="818.3" r="2.3" class="q14"/>
<circle cx="525.4" cy="872.4" r="2.3" class="q1b"/>
<circle cx="483.1" cy="873.1" r="2.3" class="q0b"/>
<circle cx="432.5" cy="872.0" r="2.3" class="q0b"/>
<circle cx="605.6" cy="870.7" r="2.3" class="q0b"/>
<circle cx="513.6" cy="763.1" r="2.3" class="q18"/>
<circle cx="579.6" cy="771.2" r="2.3" class="q19"/>
<circle cx="643.0" cy="750.9" r="2.3" class="q20"/>
<circle cx="667.6" cy="722.3" r="2.3" class="q20"/>
<circle cx="643.2" cy="871.3" r="2.3" class="q0b"/>
<circle cx="585.6" cy="734.7" r="2.3" class="q19"/>
<circle cx="525.9" cy="871.2" r="2.3" class="q1b"/>
<circle cx="611.2" cy="871.3" r="2.3" class="q1b"/>
<circle cx="658.2" cy="732.2" r="2.3" class="q20"/>
<circle cx="564.3" cy="872.2" r="2.3" class="q1b"/>
<circle cx="495.0" cy="867.2" r="2.3" class="q3"/>
<circle cx="429.9" cy="871.6" r="2.3" class="q1b"/>
<circle cx="600.5" cy="872.3" r="2.3" class="q1b"/>
<circle cx="520.0" cy="800.2" r="2.3" class="q20"/>
<circle cx="556.9" cy="782.4" r="2.3" class="q19"/>
<circle cx="625.1" cy="872.6" r="2.3" class="q1b"/>
<circle cx="586.0" cy="758.5" r="2.3" class="q19"/>
<circle cx="477.1" cy="833.5" r="2.3" class="q13"/>
<circle cx="669.8" cy="872.6" r="2.3" class="q1b"/>
<circle cx="532.9" cy="872.0" r="2.3" class="q0b"/>
<circle cx="631.2" cy="759.8" r="2.3" class="q20"/>
<circle cx="455.3" cy="850.5" r="2.3" class="q10"/>
<circle cx="547.6" cy="799.3" r="2.3" class="q19"/>
<circle cx="556.6" cy="777.2" r="2.3" class="q19"/>
<circle cx="423.5" cy="868.7" r="2.3" class="q6"/>
<circle cx="586.4" cy="868.8" r="2.3" class="q3"/>
<circle cx="426.2" cy="872.3" r="2.3" class="q0b"/>
<circle cx="536.9" cy="835.0" r="2.3" class="q12"/>
<circle cx="630.7" cy="747.8" r="2.3" class="q19"/>
<circle cx="474.6" cy="785.3" r="2.3" class="q20"/>
<circle cx="589.9" cy="774.5" r="2.3" class="q20"/>
<circle cx="522.2" cy="781.1" r="2.3" class="q20"/>
<circle cx="478.0" cy="868.0" r="2.3" class="q6"/>
<circle cx="609.9" cy="741.4" r="2.3" class="q19"/>
<circle cx="510.3" cy="794.5" r="2.3" class="q19"/>
<circle cx="470.6" cy="871.2" r="2.3" class="q0b"/>
<circle cx="609.8" cy="750.7" r="2.3" class="q18"/>
<circle cx="653.4" cy="718.2" r="2.3" class="q19"/>
<circle cx="456.1" cy="871.1" r="2.3" class="q0b"/>
<circle cx="583.1" cy="872.8" r="2.3" class="q1b"/>
<circle cx="527.8" cy="792.1" r="2.3" class="q18"/>
<circle cx="484.1" cy="866.3" r="2.3" class="q7"/>
<circle cx="548.8" cy="872.5" r="2.3" class="q0b"/>
<circle cx="582.9" cy="757.7" r="2.3" class="q19"/>
<circle cx="454.2" cy="863.3" r="2.3" class="q6"/>
<circle cx="449.3" cy="862.2" r="2.3" class="q7"/>
<circle cx="441.7" cy="815.3" r="2.3" class="q17"/>
<circle cx="530.3" cy="795.1" r="2.3" class="q19"/>
<circle cx="619.2" cy="734.1" r="2.3" class="q20"/>
<circle cx="459.9" cy="872.6" r="2.3" class="q1b"/>
<circle cx="525.5" cy="781.5" r="2.3" class="q20"/>
<circle cx="458.1" cy="865.5" r="2.3" class="q6"/>
<circle cx="565.8" cy="810.8" r="2.3" class="q16"/>
<circle cx="535.1" cy="849.6" r="2.3" class="q9"/>
<circle cx="484.5" cy="758.6" r="2.3" class="q20"/>
<circle cx="583.5" cy="751.3" r="2.3" class="q20"/>
<circle cx="662.6" cy="750.0" r="2.3" class="q20"/>
<circle cx="494.4" cy="801.0" r="2.3" class="q19"/>
<circle cx="588.0" cy="767.5" r="2.3" class="q20"/>
<circle cx="564.5" cy="774.5" r="2.3" class="q20"/>
<circle cx="592.8" cy="761.2" r="2.3" class="q20"/>
<circle cx="525.0" cy="792.6" r="2.3" class="q20"/>
<circle cx="467.6" cy="749.1" r="2.3" class="q19"/>
<circle cx="511.0" cy="789.0" r="2.3" class="q19"/>
<circle cx="527.1" cy="800.3" r="2.3" class="q18"/>
<circle cx="509.4" cy="871.1" r="2.3" class="q0b"/>
<circle cx="476.7" cy="868.0" r="2.3" class="q7"/>
<circle cx="529.7" cy="804.3" r="2.3" class="q16"/>
<circle cx="502.4" cy="794.8" r="2.3" class="q20"/>
<circle cx="474.6" cy="863.5" r="2.3" class="q4"/>
<circle cx="529.1" cy="794.4" r="2.3" class="q20"/>
<circle cx="547.6" cy="872.8" r="2.3" class="q0b"/>
<circle cx="472.0" cy="836.8" r="2.3" class="q13"/>
<circle cx="640.1" cy="872.4" r="2.3" class="q0b"/>
<circle cx="625.9" cy="872.1" r="2.3" class="q0b"/>
<circle cx="603.3" cy="759.0" r="2.3" class="q19"/>
<circle cx="440.7" cy="866.4" r="2.3" class="q8"/>
<circle cx="501.4" cy="871.1" r="2.3" class="q0b"/>
<circle cx="554.3" cy="773.2" r="2.3" class="q20"/>
<circle cx="669.7" cy="717.6" r="2.3" class="q20"/>
<circle cx="508.5" cy="796.6" r="2.3" class="q20"/>
<circle cx="588.2" cy="747.4" r="2.3" class="q19"/>
<circle cx="502.8" cy="866.6" r="2.3" class="q2"/>
<circle cx="467.4" cy="748.1" r="2.3" class="q20"/>
<circle cx="512.9" cy="874.0" r="2.3" class="q1b"/>
<circle cx="586.9" cy="870.8" r="2.3" class="q0b"/>
<circle cx="512.1" cy="796.4" r="2.3" class="q20"/>
<circle cx="669.9" cy="873.3" r="2.3" class="q1b"/>
<circle cx="509.9" cy="799.4" r="2.3" class="q19"/>
<circle cx="665.1" cy="708.3" r="2.3" class="q19"/>
<circle cx="531.3" cy="786.1" r="2.3" class="q19"/>
<circle cx="602.6" cy="768.2" r="2.3" class="q18"/>
<circle cx="457.9" cy="858.6" r="2.3" class="q7"/>
<circle cx="499.9" cy="770.0" r="2.3" class="q18"/>
<circle cx="456.4" cy="868.1" r="2.3" class="q5"/>
<circle cx="671.8" cy="872.2" r="2.3" class="q1b"/>
<circle cx="642.6" cy="744.0" r="2.3" class="q19"/>
<circle cx="655.1" cy="872.4" r="2.3" class="q1b"/>
<circle cx="482.5" cy="863.6" r="2.3" class="q10"/>
<circle cx="547.5" cy="782.2" r="2.3" class="q20"/>
<circle cx="630.8" cy="738.1" r="2.3" class="q20"/>
<circle cx="641.8" cy="871.8" r="2.3" class="q0b"/>
<circle cx="617.0" cy="748.2" r="2.3" class="q19"/>
<circle cx="580.6" cy="871.2" r="2.3" class="q0b"/>
<circle cx="554.3" cy="763.0" r="2.3" class="q19"/>
<circle cx="556.1" cy="872.2" r="2.3" class="q1b"/>
<circle cx="535.6" cy="872.3" r="2.3" class="q0b"/>
<circle cx="481.7" cy="871.9" r="2.3" class="q1b"/>
<circle cx="547.2" cy="870.7" r="2.3" class="q0b"/>
<circle cx="671.9" cy="728.4" r="2.3" class="q20"/>
<circle cx="618.1" cy="872.1" r="2.3" class="q1b"/>
<circle cx="546.6" cy="869.7" r="2.3" class="q1b"/>
<circle cx="587.9" cy="762.1" r="2.3" class="q20"/>
<circle cx="642.5" cy="764.8" r="2.3" class="q20"/>
<circle cx="579.7" cy="766.8" r="2.3" class="q19"/>
<circle cx="453.5" cy="818.2" r="2.3" class="q14"/>
<circle cx="561.5" cy="768.2" r="2.3" class="q20"/>
<circle cx="576.0" cy="871.1" r="2.3" class="q1b"/>
<circle cx="458.3" cy="853.9" r="2.3" class="q9"/>
<circle cx="561.9" cy="774.7" r="2.3" class="q18"/>
<circle cx="565.1" cy="767.2" r="2.3" class="q19"/>
<circle cx="559.7" cy="780.2" r="2.3" class="q17"/>
<circle cx="610.1" cy="764.4" r="2.3" class="q20"/>
<circle cx="599.0" cy="746.3" r="2.3" class="q20"/>
<circle cx="419.5" cy="873.0" r="2.3" class="q1b"/>
<circle cx="416.4" cy="871.1" r="2.3" class="q1b"/>
<circle cx="579.9" cy="757.8" r="2.3" class="q20"/>
<circle cx="508.5" cy="797.1" r="2.3" class="q20"/>
<circle cx="665.7" cy="736.7" r="2.3" class="q20"/>
<circle cx="551.8" cy="872.9" r="2.3" class="q0b"/>
<circle cx="634.0" cy="716.7" r="2.3" class="q19"/>
<circle cx="548.1" cy="862.2" r="2.3" class="q8"/>
<circle cx="613.3" cy="764.1" r="2.3" class="q20"/>
<circle cx="426.6" cy="872.2" r="2.3" class="q1b"/>
<circle cx="448.6" cy="871.7" r="2.3" class="q0b"/>
<circle cx="617.3" cy="779.5" r="2.3" class="q19"/>
<circle cx="583.9" cy="871.4" r="2.3" class="q0b"/>
<circle cx="459.9" cy="866.8" r="2.3" class="q8"/>
<circle cx="635.3" cy="742.8" r="2.3" class="q19"/>
<circle cx="529.8" cy="795.5" r="2.3" class="q19"/>
<circle cx="538.7" cy="872.5" r="2.3" class="q1b"/>
<circle cx="445.5" cy="876.0" r="2.3" class="q0b"/>
<circle cx="652.2" cy="729.2" r="2.3" class="q19"/>
<circle cx="556.6" cy="871.5" r="2.3" class="q1b"/>
<circle cx="626.8" cy="751.0" r="2.3" class="q17"/>
<circle cx="493.5" cy="775.2" r="2.3" class="q18"/>
<circle cx="632.0" cy="750.4" r="2.3" class="q19"/>
<circle cx="470.3" cy="873.0" r="2.3" class="q1b"/>
<circle cx="605.6" cy="750.5" r="2.3" class="q19"/>
<circle cx="549.5" cy="769.0" r="2.3" class="q19"/>
<circle cx="672.0" cy="750.0" r="2.3" class="q19"/>
<circle cx="666.8" cy="741.0" r="2.3" class="q20"/>
<circle cx="415.9" cy="872.8" r="2.3" class="q0b"/>
<circle cx="529.5" cy="862.6" r="2.3" class="q6"/>
<circle cx="442.7" cy="871.3" r="2.3" class="q0b"/>
<circle cx="577.4" cy="773.6" r="2.3" class="q20"/>
<circle cx="599.8" cy="872.4" r="2.3" class="q0b"/>
<circle cx="453.2" cy="873.5" r="2.3" class="q1b"/>
<circle cx="432.5" cy="871.5" r="2.3" class="q0b"/>
<circle cx="440.6" cy="872.7" r="2.3" class="q1b"/>
<circle cx="547.8" cy="797.9" r="2.3" class="q19"/>
<circle cx="494.8" cy="865.9" r="2.3" class="q4"/>
<circle cx="444.6" cy="874.5" r="2.3" class="q0b"/>
<circle cx="562.8" cy="872.3" r="2.3" class="q1b"/>
<circle cx="652.0" cy="730.4" r="2.3" class="q20"/>
<circle cx="592.8" cy="870.9" r="2.3" class="q0b"/>
<circle cx="587.6" cy="749.2" r="2.3" class="q19"/>
<circle cx="468.9" cy="866.3" r="2.3" class="q5"/>
<circle cx="625.1" cy="738.6" r="2.3" class="q20"/>
<circle cx="659.4" cy="873.1" r="2.3" class="q0b"/>
<circle cx="591.5" cy="752.8" r="2.3" class="q20"/>
<circle cx="619.5" cy="768.6" r="2.3" class="q18"/>
<circle cx="580.4" cy="769.4" r="2.3" class="q19"/>
<circle cx="456.1" cy="855.7" r="2.3" class="q10"/>
<circle cx="422.6" cy="868.7" r="2.3" class="q2"/>
<circle cx="635.7" cy="870.9" r="2.3" class="q0b"/>
<circle cx="501.7" cy="823.1" r="2.3" class="q12"/>
<circle cx="611.4" cy="755.1" r="2.3" class="q19"/>
<circle cx="548.1" cy="763.8" r="2.3" class="q20"/>
<circle cx="510.6" cy="867.2" r="2.3" class="q6"/>
<circle cx="452.0" cy="809.9" r="2.3" class="q15"/>
<circle cx="520.1" cy="781.0" r="2.3" class="q19"/>
<circle cx="580.9" cy="769.4" r="2.3" class="q20"/>
<circle cx="460.0" cy="850.5" r="2.3" class="q8"/>
<circle cx="535.0" cy="835.7" r="2.3" class="q12"/>
<circle cx="548.0" cy="762.7" r="2.3" class="q19"/>
<circle cx="533.5" cy="785.5" r="2.3" class="q20"/>
<circle cx="653.8" cy="738.9" r="2.3" class="q20"/>
<circle cx="601.0" cy="769.9" r="2.3" class="q18"/>
<circle cx="506.5" cy="801.1" r="2.3" class="q19"/>
<circle cx="579.9" cy="775.0" r="2.3" class="q20"/>
<circle cx="529.6" cy="821.1" r="2.3" class="q17"/>
<circle cx="519.7" cy="786.6" r="2.3" class="q18"/>
<circle cx="651.4" cy="722.0" r="2.3" class="q20"/>
<circle cx="511.2" cy="789.6" r="2.3" class="q19"/>
<circle cx="555.6" cy="782.2" r="2.3" class="q20"/>
<circle cx="661.2" cy="703.6" r="2.3" class="q17"/>
<circle cx="601.1" cy="739.0" r="2.3" class="q19"/>
<circle cx="523.1" cy="804.5" r="2.3" class="q17"/>
<circle cx="651.4" cy="872.4" r="2.3" class="q1b"/>
<circle cx="608.6" cy="781.7" r="2.3" class="q20"/>
<circle cx="447.3" cy="872.5" r="2.3" class="q0b"/>
<circle cx="655.4" cy="726.5" r="2.3" class="q19"/>
<circle cx="584.8" cy="871.5" r="2.3" class="q0b"/>
<circle cx="600.1" cy="745.5" r="2.3" class="q19"/>
<circle cx="507.5" cy="865.9" r="2.3" class="q8"/>
<circle cx="471.5" cy="866.7" r="2.3" class="q2"/>
<circle cx="473.3" cy="820.2" r="2.3" class="q16"/>
<circle cx="664.0" cy="729.0" r="2.3" class="q18"/>
<circle cx="550.6" cy="872.2" r="2.3" class="q0b"/>
<circle cx="633.8" cy="733.5" r="2.3" class="q19"/>
<circle cx="520.9" cy="866.0" r="2.3" class="q6"/>
<circle cx="636.0" cy="873.7" r="2.3" class="q1b"/>
<circle cx="582.3" cy="871.4" r="2.3" class="q1b"/>
<circle cx="607.3" cy="872.4" r="2.3" class="q0b"/>
<circle cx="625.3" cy="738.1" r="2.3" class="q20"/>
<circle cx="519.4" cy="872.7" r="2.3" class="q1b"/>
<circle cx="429.6" cy="871.8" r="2.3" class="q1b"/>
<circle cx="583.5" cy="779.6" r="2.3" class="q20"/>
<circle cx="444.5" cy="843.8" r="2.3" class="q9"/>
<circle cx="656.2" cy="723.5" r="2.3" class="q20"/>
<circle cx="590.4" cy="871.8" r="2.3" class="q1b"/>
<circle cx="652.8" cy="872.1" r="2.3" class="q0b"/>
<circle cx="665.6" cy="719.9" r="2.3" class="q19"/>
<circle cx="615.6" cy="751.0" r="2.3" class="q19"/>
<circle cx="662.7" cy="740.1" r="2.3" class="q19"/>
<circle cx="494.7" cy="823.2" r="2.3" class="q12"/>
<circle cx="476.0" cy="846.4" r="2.3" class="q10"/>
<circle cx="499.4" cy="871.9" r="2.3" class="q0b"/>
<circle cx="587.2" cy="802.1" r="2.3" class="q17"/>
<circle cx="580.6" cy="871.2" r="2.3" class="q0b"/>
<circle cx="513.6" cy="859.5" r="2.3" class="q2"/>
<circle cx="619.0" cy="871.0" r="2.3" class="q0b"/>
<circle cx="547.9" cy="872.8" r="2.3" class="q1b"/>
<circle cx="511.4" cy="815.7" r="2.3" class="q16"/>
<circle cx="562.9" cy="752.7" r="2.3" class="q19"/>
<circle cx="499.9" cy="755.4" r="2.3" class="q19"/>
<circle cx="453.2" cy="868.1" r="2.3" class="q5"/>
<circle cx="605.0" cy="753.7" r="2.3" class="q17"/>
<circle cx="530.7" cy="788.1" r="2.3" class="q18"/>
<circle cx="563.0" cy="873.0" r="2.3" class="q1b"/>
<circle cx="531.3" cy="793.5" r="2.3" class="q20"/>
<circle cx="588.0" cy="761.9" r="2.3" class="q20"/>
<circle cx="625.2" cy="871.6" r="2.3" class="q0b"/>
<circle cx="639.2" cy="735.9" r="2.3" class="q20"/>
<circle cx="636.5" cy="747.3" r="2.3" class="q20"/>
<circle cx="469.9" cy="817.5" r="2.3" class="q15"/>
<circle cx="501.2" cy="872.1" r="2.3" class="q1b"/>
<circle cx="659.0" cy="734.3" r="2.3" class="q19"/>
<circle cx="483.7" cy="775.5" r="2.3" class="q20"/>
<circle cx="421.7" cy="871.6" r="2.3" class="q0b"/>
<circle cx="560.3" cy="872.0" r="2.3" class="q1b"/>
<circle cx="545.8" cy="872.7" r="2.3" class="q1b"/>
<circle cx="609.1" cy="754.6" r="2.3" class="q19"/>
<circle cx="585.3" cy="871.0" r="2.3" class="q0b"/>
<circle cx="471.1" cy="813.1" r="2.3" class="q18"/>
<circle cx="628.6" cy="757.2" r="2.3" class="q19"/>
<circle cx="590.6" cy="744.2" r="2.3" class="q17"/>
<circle cx="461.4" cy="843.3" r="2.3" class="q10"/>
<circle cx="612.7" cy="752.1" r="2.3" class="q19"/>
<circle cx="616.5" cy="747.2" r="2.3" class="q19"/>
<circle cx="613.9" cy="735.3" r="2.3" class="q19"/>
<circle cx="662.4" cy="743.7" r="2.3" class="q20"/>
<circle cx="539.1" cy="785.9" r="2.3" class="q20"/>
<circle cx="414.7" cy="868.2" r="2.3" class="q5"/>
<circle cx="658.5" cy="872.3" r="2.3" class="q0b"/>
<circle cx="592.6" cy="761.2" r="2.3" class="q17"/>
<circle cx="575.5" cy="772.7" r="2.3" class="q18"/>
<circle cx="563.9" cy="766.0" r="2.3" class="q19"/>
<circle cx="444.0" cy="866.5" r="2.3" class="q3"/>
<circle cx="454.4" cy="863.1" r="2.3" class="q6"/>
<circle cx="418.5" cy="872.3" r="2.3" class="q1b"/>
<circle cx="494.2" cy="866.7" r="2.3" class="q8"/>
<circle cx="607.3" cy="749.8" r="2.3" class="q18"/>
<circle cx="457.1" cy="870.3" r="2.3" class="q1b"/>
<circle cx="501.9" cy="872.5" r="2.3" class="q0b"/>
<circle cx="628.9" cy="740.9" r="2.3" class="q19"/>
<circle cx="484.1" cy="868.3" r="2.3" class="q7"/>
<circle cx="473.7" cy="864.1" r="2.3" class="q5"/>
<circle cx="624.8" cy="871.2" r="2.3" class="q0b"/>
<circle cx="588.0" cy="760.5" r="2.3" class="q20"/>
<circle cx="533.6" cy="828.7" r="2.3" class="q14"/>
<circle cx="528.4" cy="755.6" r="2.3" class="q20"/>
<circle cx="476.2" cy="858.1" r="2.3" class="q9"/>
<circle cx="583.2" cy="872.2" r="2.3" class="q1b"/>
<circle cx="617.7" cy="751.3" r="2.3" class="q20"/>
<circle cx="581.3" cy="745.0" r="2.3" class="q20"/>
<circle cx="613.6" cy="872.6" r="2.3" class="q0b"/>
<circle cx="608.7" cy="747.6" r="2.3" class="q19"/>
<circle cx="555.8" cy="774.0" r="2.3" class="q19"/>
<circle cx="589.3" cy="747.8" r="2.3" class="q18"/>
<circle cx="455.1" cy="873.8" r="2.3" class="q1b"/>
<circle cx="580.9" cy="872.7" r="2.3" class="q0b"/>
<circle cx="644.8" cy="756.8" r="2.3" class="q17"/>
<circle cx="553.4" cy="759.3" r="2.3" class="q19"/>
<circle cx="456.2" cy="872.1" r="2.3" class="q0b"/>
<circle cx="485.9" cy="861.6" r="2.3" class="q7"/>
<circle cx="520.8" cy="828.7" r="2.3" class="q12"/>
<circle cx="658.9" cy="737.8" r="2.3" class="q20"/>
<circle cx="660.7" cy="743.7" r="2.3" class="q19"/>
<circle cx="586.2" cy="763.6" r="2.3" class="q20"/>
<circle cx="532.8" cy="871.7" r="2.3" class="q0b"/>
<circle cx="546.2" cy="791.9" r="2.3" class="q20"/>
<circle cx="494.8" cy="764.0" r="2.3" class="q20"/>
<circle cx="512.5" cy="800.7" r="2.3" class="q18"/>
<circle cx="508.6" cy="868.0" r="2.3" class="q5"/>
<circle cx="606.7" cy="748.3" r="2.3" class="q19"/>
<circle cx="663.2" cy="871.7" r="2.3" class="q1b"/>
<circle cx="636.0" cy="734.0" r="2.3" class="q20"/>
<circle cx="548.6" cy="765.4" r="2.3" class="q17"/>
<circle cx="446.9" cy="844.2" r="2.3" class="q11"/>
<circle cx="559.8" cy="854.4" r="2.3" class="q9"/>
<circle cx="643.8" cy="743.6" r="2.3" class="q20"/>
<circle cx="671.2" cy="872.4" r="2.3" class="q0b"/>
<circle cx="550.5" cy="872.9" r="2.3" class="q0b"/>
<circle cx="637.0" cy="871.4" r="2.3" class="q1b"/>
<circle cx="671.1" cy="872.0" r="2.3" class="q0b"/>
<circle cx="661.1" cy="726.9" r="2.3" class="q20"/>
<circle cx="592.1" cy="805.3" r="2.3" class="q18"/>
<circle cx="552.7" cy="871.7" r="2.3" class="q1b"/>
<circle cx="535.9" cy="774.1" r="2.3" class="q19"/>
<circle cx="529.3" cy="787.1" r="2.3" class="q18"/>
<circle cx="474.6" cy="868.5" r="2.3" class="q2"/>
<circle cx="666.1" cy="871.6" r="2.3" class="q1b"/>
<circle cx="480.4" cy="867.8" r="2.3" class="q5"/>
<circle cx="498.8" cy="868.6" r="2.3" class="q0b"/>
<circle cx="651.4" cy="720.1" r="2.3" class="q20"/>
<circle cx="573.0" cy="871.7" r="2.3" class="q1b"/>
<circle cx="591.4" cy="872.9" r="2.3" class="q1b"/>
<circle cx="423.2" cy="871.0" r="2.3" class="q0b"/>
<circle cx="641.5" cy="756.2" r="2.3" class="q20"/>
<circle cx="450.3" cy="840.1" r="2.3" class="q12"/>
<circle cx="654.2" cy="748.6" r="2.3" class="q20"/>
<circle cx="486.3" cy="873.4" r="2.3" class="q0b"/>
<circle cx="600.4" cy="749.2" r="2.3" class="q20"/>
<circle cx="509.5" cy="870.3" r="2.3" class="q0b"/>
<circle cx="578.0" cy="871.6" r="2.3" class="q1b"/>
<circle cx="525.6" cy="780.5" r="2.3" class="q18"/>
<circle cx="519.7" cy="785.4" r="2.3" class="q20"/>
<circle cx="486.3" cy="830.7" r="2.3" class="q15"/>
<circle cx="643.3" cy="724.6" r="2.3" class="q18"/>
<circle cx="664.5" cy="739.1" r="2.3" class="q18"/>
<circle cx="485.7" cy="858.0" r="2.3" class="q8"/>
<circle cx="496.6" cy="784.3" r="2.3" class="q19"/>
<circle cx="619.4" cy="872.0" r="2.3" class="q0b"/>
<circle cx="627.2" cy="736.2" r="2.3" class="q18"/>
<circle cx="475.9" cy="817.3" r="2.3" class="q16"/>
<circle cx="617.4" cy="733.4" r="2.3" class="q20"/>
<circle cx="564.0" cy="795.1" r="2.3" class="q19"/>
<circle cx="531.1" cy="772.0" r="2.3" class="q19"/>
<circle cx="574.9" cy="772.9" r="2.3" class="q20"/>
<circle cx="519.7" cy="872.5" r="2.3" class="q1b"/>
<circle cx="617.2" cy="872.8" r="2.3" class="q1b"/>
<circle cx="522.4" cy="872.6" r="2.3" class="q1b"/>
<circle cx="546.3" cy="766.1" r="2.3" class="q18"/>
<circle cx="450.8" cy="872.6" r="2.3" class="q1b"/>
<circle cx="627.2" cy="756.3" r="2.3" class="q20"/>
<circle cx="416.0" cy="867.3" r="2.3" class="q2"/>
<circle cx="642.4" cy="749.3" r="2.3" class="q20"/>
<circle cx="587.7" cy="752.3" r="2.3" class="q18"/>
<circle cx="524.4" cy="788.3" r="2.3" class="q19"/>
<circle cx="561.3" cy="872.0" r="2.3" class="q0b"/>
<circle cx="444.4" cy="871.7" r="2.3" class="q1b"/>
<circle cx="529.8" cy="769.5" r="2.3" class="q20"/>
<circle cx="534.1" cy="782.0" r="2.3" class="q19"/>
<circle cx="643.6" cy="871.5" r="2.3" class="q1b"/>
<circle cx="605.8" cy="726.4" r="2.3" class="q19"/>
<circle cx="578.1" cy="798.6" r="2.3" class="q17"/>
<circle cx="512.4" cy="871.3" r="2.3" class="q1b"/>
<circle cx="640.5" cy="742.9" r="2.3" class="q18"/>
<circle cx="526.3" cy="770.6" r="2.3" class="q18"/>
<circle cx="444.4" cy="873.8" r="2.3" class="q0b"/>
<circle cx="599.4" cy="872.1" r="2.3" class="q1b"/>
<circle cx="579.0" cy="760.0" r="2.3" class="q19"/>
<circle cx="599.7" cy="747.1" r="2.3" class="q19"/>
<circle cx="612.4" cy="765.9" r="2.3" class="q19"/>
<circle cx="551.8" cy="872.6" r="2.3" class="q0b"/>
<circle cx="555.2" cy="871.2" r="2.3" class="q0b"/>
<circle cx="576.2" cy="760.5" r="2.3" class="q19"/>
<circle cx="482.0" cy="794.6" r="2.3" class="q19"/>
<circle cx="468.1" cy="800.9" r="2.3" class="q17"/>
<circle cx="506.2" cy="774.0" r="2.3" class="q20"/>
<circle cx="441.5" cy="874.4" r="2.3" class="q0b"/>
<circle cx="507.9" cy="792.7" r="2.3" class="q18"/>
<circle cx="556.8" cy="817.2" r="2.3" class="q17"/>
<circle cx="617.5" cy="871.1" r="2.3" class="q1b"/>
<circle cx="613.8" cy="872.6" r="2.3" class="q0b"/>
<circle cx="628.8" cy="751.1" r="2.3" class="q19"/>
<circle cx="472.1" cy="873.1" r="2.3" class="q1b"/>
<circle cx="645.6" cy="742.1" r="2.3" class="q19"/>
<circle cx="660.5" cy="733.0" r="2.3" class="q19"/>
<circle cx="484.8" cy="875.3" r="2.3" class="q1b"/>
<circle cx="447.6" cy="870.2" r="2.3" class="q1b"/>
<circle cx="459.1" cy="869.5" r="2.3" class="q0b"/>
<circle cx="644.0" cy="732.1" r="2.3" class="q18"/>
<circle cx="448.5" cy="869.9" r="2.3" class="q1b"/>
<circle cx="487.5" cy="871.7" r="2.3" class="q1b"/>
<circle cx="523.3" cy="873.3" r="2.3" class="q0b"/>
<circle cx="501.3" cy="870.0" r="2.3" class="q1b"/>
<circle cx="664.4" cy="734.7" r="2.3" class="q20"/>
<circle cx="640.9" cy="871.5" r="2.3" class="q0b"/>
<circle cx="663.7" cy="809.8" r="2.3" class="q16"/>
<circle cx="502.3" cy="830.0" r="2.3" class="q14"/>
<circle cx="458.2" cy="847.4" r="2.3" class="q10"/>
<circle cx="534.1" cy="776.7" r="2.3" class="q20"/>
<circle cx="547.4" cy="871.8" r="2.3" class="q0b"/>
<circle cx="604.9" cy="872.0" r="2.3" class="q0b"/>
<circle cx="501.0" cy="775.0" r="2.3" class="q20"/>
<circle cx="457.4" cy="866.2" r="2.3" class="q3"/>
<circle cx="472.9" cy="837.2" r="2.3" class="q13"/>
<circle cx="662.5" cy="735.2" r="2.3" class="q18"/>
<circle cx="631.9" cy="729.2" r="2.3" class="q18"/>
<circle cx="497.1" cy="871.3" r="2.3" class="q0b"/>
<circle cx="484.1" cy="868.4" r="2.3" class="q0b"/>
<circle cx="616.3" cy="757.5" r="2.3" class="q19"/>
<circle cx="633.0" cy="750.9" r="2.3" class="q20"/>
<circle cx="639.2" cy="730.4" r="2.3" class="q18"/>
<circle cx="538.0" cy="871.5" r="2.3" class="q1b"/>
<circle cx="637.9" cy="746.2" r="2.3" class="q20"/>
<circle cx="483.2" cy="807.4" r="2.3" class="q18"/>
<circle cx="502.4" cy="871.6" r="2.3" class="q1b"/>
<circle cx="468.0" cy="840.0" r="2.3" class="q12"/>
<circle cx="626.1" cy="871.9" r="2.3" class="q1b"/>
<circle cx="614.9" cy="770.2" r="2.3" class="q20"/>
<circle cx="470.2" cy="785.8" r="2.3" class="q19"/>
<circle cx="616.6" cy="749.1" r="2.3" class="q20"/>
<circle cx="585.3" cy="757.0" r="2.3" class="q19"/>
<circle cx="669.6" cy="721.2" r="2.3" class="q20"/>
<circle cx="657.5" cy="762.6" r="2.3" class="q20"/>
<circle cx="591.0" cy="790.2" r="2.3" class="q18"/>
<circle cx="440.7" cy="828.9" r="2.3" class="q13"/>
<circle cx="493.6" cy="871.1" r="2.3" class="q0b"/>
<circle cx="526.5" cy="768.3" r="2.3" class="q20"/>
<circle cx="485.0" cy="873.3" r="2.3" class="q1b"/>
<circle cx="602.5" cy="873.0" r="2.3" class="q0b"/>
<circle cx="550.6" cy="872.8" r="2.3" class="q1b"/>
<circle cx="493.5" cy="760.4" r="2.3" class="q18"/>
<circle cx="600.2" cy="872.9" r="2.3" class="q1b"/>
<circle cx="508.9" cy="795.0" r="2.3" class="q19"/>
<circle cx="473.3" cy="806.2" r="2.3" class="q16"/>
<circle cx="440.6" cy="873.5" r="2.3" class="q0b"/>
<circle cx="425.3" cy="873.3" r="2.3" class="q1b"/>
<circle cx="552.9" cy="772.6" r="2.3" class="q20"/>
<circle cx="589.5" cy="747.8" r="2.3" class="q19"/>
<circle cx="639.8" cy="871.5" r="2.3" class="q0b"/>
<circle cx="584.6" cy="758.0" r="2.3" class="q19"/>
<circle cx="521.4" cy="766.1" r="2.3" class="q19"/>
<circle cx="493.9" cy="869.0" r="2.3" class="q1b"/>
<circle cx="493.1" cy="873.1" r="2.3" class="q1b"/>
<circle cx="508.1" cy="794.1" r="2.3" class="q19"/>
<circle cx="501.8" cy="871.6" r="2.3" class="q0b"/>
<circle cx="471.0" cy="871.8" r="2.3" class="q1b"/>
<circle cx="532.1" cy="871.2" r="2.3" class="q1b"/>
<circle cx="539.6" cy="765.8" r="2.3" class="q20"/>
<circle cx="613.7" cy="741.4" r="2.3" class="q18"/>
<circle cx="574.1" cy="772.2" r="2.3" class="q19"/>
<circle cx="643.5" cy="872.8" r="2.3" class="q0b"/>
<circle cx="671.8" cy="737.4" r="2.3" class="q20"/>
<circle cx="444.7" cy="872.0" r="2.3" class="q1b"/>
<circle cx="611.3" cy="762.7" r="2.3" class="q20"/>
<circle cx="521.2" cy="793.5" r="2.3" class="q17"/>
<circle cx="549.1" cy="754.0" r="2.3" class="q19"/>
<circle cx="626.3" cy="758.0" r="2.3" class="q19"/>
<circle cx="471.2" cy="872.6" r="2.3" class="q0b"/>
<circle cx="523.8" cy="871.5" r="2.3" class="q0b"/>
<circle cx="468.1" cy="831.3" r="2.3" class="q13"/>
<circle cx="551.4" cy="781.2" r="2.3" class="q19"/>
<circle cx="635.4" cy="759.6" r="2.3" class="q19"/>
<circle cx="453.8" cy="860.3" r="2.3" class="q7"/>
<circle cx="658.8" cy="759.5" r="2.3" class="q19"/>
<circle cx="583.9" cy="867.4" r="2.3" class="q8"/>
<circle cx="636.4" cy="751.9" r="2.3" class="q18"/>
<circle cx="498.7" cy="866.9" r="2.3" class="q3"/>
<circle cx="475.1" cy="812.5" r="2.3" class="q17"/>
<circle cx="662.1" cy="726.8" r="2.3" class="q20"/>
<circle cx="560.4" cy="771.5" r="2.3" class="q20"/>
<circle cx="540.4" cy="784.3" r="2.3" class="q18"/>
<circle cx="553.8" cy="763.6" r="2.3" class="q20"/>
<circle cx="579.1" cy="743.5" r="2.3" class="q20"/>
<circle cx="486.3" cy="788.0" r="2.3" class="q20"/>
<circle cx="592.7" cy="754.2" r="2.3" class="q19"/>
<circle cx="484.3" cy="866.1" r="2.3" class="q4"/>
<circle cx="604.1" cy="871.3" r="2.3" class="q1b"/>
<circle cx="566.0" cy="872.2" r="2.3" class="q1b"/>
<circle cx="655.3" cy="724.9" r="2.3" class="q20"/>
<circle cx="606.7" cy="745.8" r="2.3" class="q19"/>
<circle cx="601.3" cy="870.5" r="2.3" class="q0b"/>
<circle cx="473.6" cy="763.4" r="2.3" class="q18"/>
<circle cx="550.4" cy="761.6" r="2.3" class="q19"/>
<circle cx="509.5" cy="826.7" r="2.3" class="q12"/>
<circle cx="539.7" cy="852.4" r="2.3" class="q9"/>
<circle cx="474.3" cy="770.2" r="2.3" class="q20"/>
<circle cx="661.8" cy="738.2" r="2.3" class="q20"/>
<circle cx="533.9" cy="872.7" r="2.3" class="q1b"/>
<circle cx="553.8" cy="872.7" r="2.3" class="q0b"/>
<circle cx="566.5" cy="760.9" r="2.3" class="q20"/>
<circle cx="448.2" cy="867.7" r="2.3" class="q6"/>
<circle cx="625.3" cy="748.4" r="2.3" class="q19"/>
<circle cx="522.3" cy="795.9" r="2.3" class="q20"/>
<circle cx="553.8" cy="816.7" r="2.3" class="q15"/>
<circle cx="640.8" cy="871.6" r="2.3" class="q1b"/>
<circle cx="600.2" cy="734.6" r="2.3" class="q18"/>
<circle cx="448.8" cy="866.8" r="2.3" class="q6"/>
<circle cx="626.6" cy="756.9" r="2.3" class="q20"/>
<circle cx="553.0" cy="858.7" r="2.3" class="q7"/>
<circle cx="513.4" cy="867.7" r="2.3" class="q7"/>
<circle cx="616.9" cy="764.3" r="2.3" class="q20"/>
<circle cx="548.4" cy="772.8" r="2.3" class="q18"/>
<circle cx="660.1" cy="730.0" r="2.3" class="q19"/>
<circle cx="529.2" cy="805.6" r="2.3" class="q17"/>
<circle cx="559.9" cy="871.0" r="2.3" class="q1b"/>
<circle cx="574.6" cy="871.2" r="2.3" class="q0b"/>
<circle cx="513.4" cy="871.2" r="2.3" class="q0b"/>
<circle cx="660.4" cy="871.2" r="2.3" class="q1b"/>
<circle cx="526.7" cy="780.0" r="2.3" class="q18"/>
<circle cx="434.1" cy="867.1" r="2.3" class="q2"/>
<circle cx="660.0" cy="733.0" r="2.3" class="q20"/>
<circle cx="451.1" cy="867.1" r="2.3" class="q5"/>
<circle cx="599.3" cy="728.8" r="2.3" class="q20"/>
<circle cx="512.6" cy="796.8" r="2.3" class="q20"/>
<circle cx="419.4" cy="872.4" r="2.3" class="q0b"/>
<circle cx="564.5" cy="872.3" r="2.3" class="q0b"/>
<circle cx="440.9" cy="808.9" r="2.3" class="q17"/>
<circle cx="414.5" cy="872.1" r="2.3" class="q0b"/>
<circle cx="654.3" cy="722.6" r="2.3" class="q20"/>
<circle cx="484.5" cy="861.5" r="2.3" class="q7"/>
<circle cx="470.1" cy="832.8" r="2.3" class="q12"/>
<circle cx="422.7" cy="870.2" r="2.3" class="q0b"/>
<circle cx="610.8" cy="871.1" r="2.3" class="q0b"/>
<circle cx="613.7" cy="759.6" r="2.3" class="q19"/>
<circle cx="417.8" cy="875.3" r="2.3" class="q1b"/>
<circle cx="638.0" cy="871.3" r="2.3" class="q1b"/>
<circle cx="581.0" cy="766.3" r="2.3" class="q20"/>
<circle cx="482.1" cy="776.4" r="2.3" class="q17"/>
<circle cx="472.3" cy="870.7" r="2.3" class="q1b"/>
<circle cx="472.6" cy="864.6" r="2.3" class="q7"/>
<circle cx="564.0" cy="828.5" r="2.3" class="q13"/>
<circle cx="478.5" cy="871.2" r="2.3" class="q1b"/>
<circle cx="667.9" cy="733.3" r="2.3" class="q20"/>
<circle cx="612.1" cy="766.6" r="2.3" class="q19"/>
<circle cx="563.0" cy="871.6" r="2.3" class="q1b"/>
<circle cx="534.5" cy="791.8" r="2.3" class="q20"/>
<circle cx="484.5" cy="810.2" r="2.3" class="q17"/>
<circle cx="619.0" cy="780.3" r="2.3" class="q19"/>
<circle cx="584.3" cy="871.9" r="2.3" class="q0b"/>
<circle cx="605.9" cy="761.5" r="2.3" class="q19"/>
<circle cx="575.4" cy="767.0" r="2.3" class="q18"/>
<circle cx="560.8" cy="776.2" r="2.3" class="q19"/>
<circle cx="555.5" cy="853.8" r="2.3" class="q10"/>
<circle cx="453.3" cy="831.6" r="2.3" class="q13"/>
<circle cx="482.6" cy="866.5" r="2.3" class="q5"/>
<circle cx="656.5" cy="872.4" r="2.3" class="q1b"/>
<circle cx="450.3" cy="868.6" r="2.3" class="q2"/>
<circle cx="535.3" cy="872.6" r="2.3" class="q0b"/>
<circle cx="549.1" cy="770.3" r="2.3" class="q19"/>
<circle cx="574.9" cy="764.8" r="2.3" class="q20"/>
<circle cx="559.1" cy="872.8" r="2.3" class="q0b"/>
<circle cx="609.4" cy="737.0" r="2.3" class="q20"/>
<circle cx="506.5" cy="778.3" r="2.3" class="q20"/>
<circle cx="522.6" cy="789.9" r="2.3" class="q18"/>
<circle cx="578.8" cy="871.8" r="2.3" class="q0b"/>
<circle cx="514.1" cy="820.9" r="2.3" class="q17"/>
<circle cx="558.6" cy="782.5" r="2.3" class="q18"/>
<circle cx="471.2" cy="786.5" r="2.3" class="q20"/>
<circle cx="644.4" cy="872.8" r="2.3" class="q0b"/>
<circle cx="645.5" cy="872.7" r="2.3" class="q1b"/>
<circle cx="416.5" cy="866.2" r="2.3" class="q2"/>
<circle cx="633.6" cy="748.2" r="2.3" class="q18"/>
<circle cx="469.5" cy="875.0" r="2.3" class="q1b"/>
<circle cx="521.4" cy="872.1" r="2.3" class="q1b"/>
<circle cx="522.7" cy="871.3" r="2.3" class="q0b"/>
<circle cx="641.2" cy="872.3" r="2.3" class="q0b"/>
<circle cx="602.4" cy="871.9" r="2.3" class="q0b"/>
<circle cx="564.3" cy="783.0" r="2.3" class="q20"/>
<circle cx="538.0" cy="844.2" r="2.3" class="q11"/>
<circle cx="588.9" cy="757.3" r="2.3" class="q19"/>
<circle cx="664.1" cy="759.5" r="2.3" class="q18"/>
<circle cx="655.5" cy="729.8" r="2.3" class="q19"/>
<circle cx="445.1" cy="868.4" r="2.3" class="q3"/>
<circle cx="631.5" cy="871.5" r="2.3" class="q1b"/>
<circle cx="520.4" cy="791.7" r="2.3" class="q18"/>
<circle cx="644.0" cy="872.3" r="2.3" class="q1b"/>
<circle cx="538.9" cy="787.4" r="2.3" class="q20"/>
<circle cx="454.4" cy="788.5" r="2.3" class="q19"/>
<circle cx="667.7" cy="716.8" r="2.3" class="q19"/>
<circle cx="448.1" cy="820.2" r="2.3" class="q15"/>
<circle cx="608.3" cy="734.9" r="2.3" class="q18"/>
<circle cx="536.4" cy="788.7" r="2.3" class="q19"/>
<circle cx="655.3" cy="748.5" r="2.3" class="q19"/>
<circle cx="566.5" cy="767.9" r="2.3" class="q20"/>
<circle cx="470.1" cy="871.2" r="2.3" class="q0b"/>
<circle cx="561.0" cy="803.1" r="2.3" class="q18"/>
<circle cx="608.6" cy="744.3" r="2.3" class="q20"/>
<circle cx="540.7" cy="871.2" r="2.3" class="q1b"/>
<circle cx="446.9" cy="848.6" r="2.3" class="q10"/>
<circle cx="505.6" cy="788.6" r="2.3" class="q18"/>
<circle cx="527.3" cy="807.3" r="2.3" class="q19"/>
<circle cx="579.6" cy="764.6" r="2.3" class="q19"/>
<circle cx="550.8" cy="814.5" r="2.3" class="q14"/>
<circle cx="638.3" cy="871.5" r="2.3" class="q1b"/>
<circle cx="531.1" cy="768.2" r="2.3" class="q19"/>
<circle cx="662.8" cy="870.9" r="2.3" class="q0b"/>
<circle cx="505.8" cy="871.3" r="2.3" class="q1b"/>
<circle cx="576.9" cy="873.3" r="2.3" class="q1b"/>
<circle cx="499.4" cy="846.3" r="2.3" class="q10"/>
<circle cx="475.2" cy="867.7" r="2.3" class="q6"/>
<circle cx="549.3" cy="873.4" r="2.3" class="q1b"/>
<circle cx="472.1" cy="871.4" r="2.3" class="q0b"/>
<circle cx="429.4" cy="873.0" r="2.3" class="q0b"/>
<circle cx="510.3" cy="794.5" r="2.3" class="q20"/>
<circle cx="579.6" cy="872.1" r="2.3" class="q1b"/>
<circle cx="521.5" cy="871.7" r="2.3" class="q0b"/>
<circle cx="521.8" cy="762.8" r="2.3" class="q18"/>
<circle cx="528.7" cy="777.2" r="2.3" class="q20"/>
<circle cx="522.9" cy="784.7" r="2.3" class="q19"/>
<circle cx="670.0" cy="871.4" r="2.3" class="q1b"/>
<circle cx="654.4" cy="730.7" r="2.3" class="q20"/>
<circle cx="539.8" cy="872.5" r="2.3" class="q1b"/>
<circle cx="480.2" cy="795.0" r="2.3" class="q18"/>
<circle cx="507.7" cy="804.9" r="2.3" class="q18"/>
<circle cx="469.0" cy="761.3" r="2.3" class="q20"/>
<circle cx="453.3" cy="872.6" r="2.3" class="q1b"/>
<circle cx="614.9" cy="865.2" r="2.3" class="q5"/>
<circle cx="467.6" cy="813.1" r="2.3" class="q16"/>
<circle cx="638.0" cy="743.8" r="2.3" class="q20"/>
<circle cx="502.4" cy="819.0" r="2.3" class="q14"/>
<circle cx="473.8" cy="846.0" r="2.3" class="q11"/>
<circle cx="512.4" cy="825.2" r="2.3" class="q14"/>
<circle cx="625.6" cy="741.1" r="2.3" class="q20"/>
<circle cx="645.6" cy="728.3" r="2.3" class="q20"/>
<circle cx="584.6" cy="740.3" r="2.3" class="q19"/>
<circle cx="656.5" cy="870.8" r="2.3" class="q1b"/>
<circle cx="533.5" cy="872.0" r="2.3" class="q0b"/>
<circle cx="469.3" cy="796.8" r="2.3" class="q19"/>
<circle cx="633.6" cy="741.5" r="2.3" class="q19"/>
<circle cx="475.7" cy="864.2" r="2.3" class="q4"/>
<circle cx="631.3" cy="750.7" r="2.3" class="q20"/>
<circle cx="481.6" cy="803.2" r="2.3" class="q17"/>
<circle cx="473.4" cy="796.4" r="2.3" class="q19"/>
<circle cx="619.6" cy="873.1" r="2.3" class="q1b"/>
<circle cx="627.1" cy="874.2" r="2.3" class="q1b"/>
<circle cx="631.9" cy="745.5" r="2.3" class="q19"/>
<circle cx="481.0" cy="764.4" r="2.3" class="q19"/>
<circle cx="566.2" cy="751.7" r="2.3" class="q19"/>
<circle cx="667.2" cy="736.9" r="2.3" class="q20"/>
<circle cx="641.0" cy="720.6" r="2.3" class="q19"/>
<circle cx="635.0" cy="871.7" r="2.3" class="q1b"/>
<circle cx="625.2" cy="736.9" r="2.3" class="q20"/>
<circle cx="530.2" cy="790.5" r="2.3" class="q20"/>
<circle cx="446.8" cy="868.3" r="2.3" class="q7"/>
<circle cx="601.5" cy="872.7" r="2.3" class="q0b"/>
<circle cx="661.9" cy="872.7" r="2.3" class="q1b"/>
<circle cx="487.2" cy="855.4" r="2.3" class="q9"/>
<circle cx="635.0" cy="870.6" r="2.3" class="q0b"/>
<circle cx="534.6" cy="775.1" r="2.3" class="q20"/>
<circle cx="588.6" cy="872.6" r="2.3" class="q0b"/>
<circle cx="415.4" cy="871.4" r="2.3" class="q0b"/>
<circle cx="583.4" cy="871.8" r="2.3" class="q1b"/>
<circle cx="644.9" cy="870.9" r="2.3" class="q1b"/>
<circle cx="452.4" cy="871.3" r="2.3" class="q0b"/>
<circle cx="668.5" cy="746.4" r="2.3" class="q18"/>
<circle cx="589.4" cy="759.0" r="2.3" class="q20"/>
<circle cx="587.0" cy="776.2" r="2.3" class="q20"/>
<circle cx="605.3" cy="742.9" r="2.3" class="q20"/>
<circle cx="640.9" cy="735.9" r="2.3" class="q20"/>
<circle cx="606.4" cy="768.3" r="2.3" class="q20"/>
<circle cx="588.9" cy="761.7" r="2.3" class="q20"/>
<circle cx="549.9" cy="790.9" r="2.3" class="q20"/>
<circle cx="642.0" cy="739.4" r="2.3" class="q19"/>
<circle cx="471.5" cy="815.6" r="2.3" class="q14"/>
<circle cx="536.9" cy="868.4" r="2.3" class="q8"/>
<circle cx="588.1" cy="758.2" r="2.3" class="q19"/>
<circle cx="470.7" cy="870.7" r="2.3" class="q0b"/>
<circle cx="449.9" cy="870.1" r="2.3" class="q1b"/>
<circle cx="496.6" cy="858.7" r="2.3" class="q6"/>
<circle cx="573.3" cy="752.4" r="2.3" class="q19"/>
<circle cx="613.1" cy="747.7" r="2.3" class="q20"/>
<circle cx="658.7" cy="726.8" r="2.3" class="q20"/>
<circle cx="484.0" cy="866.2" r="2.3" class="q4"/>
<circle cx="441.1" cy="810.4" r="2.3" class="q20"/>
<circle cx="633.0" cy="723.2" r="2.3" class="q19"/>
<circle cx="619.4" cy="746.9" r="2.3" class="q19"/>
<circle cx="628.9" cy="743.8" r="2.3" class="q19"/>
<circle cx="592.9" cy="760.9" r="2.3" class="q19"/>
<circle cx="576.2" cy="872.8" r="2.3" class="q0b"/>
<circle cx="494.7" cy="817.0" r="2.3" class="q14"/>
<circle cx="579.5" cy="756.2" r="2.3" class="q19"/>
<circle cx="486.7" cy="821.0" r="2.3" class="q15"/>
<circle cx="612.7" cy="871.1" r="2.3" class="q1b"/>
<circle cx="574.9" cy="770.0" r="2.3" class="q19"/>
<circle cx="665.0" cy="734.8" r="2.3" class="q20"/>
<circle cx="573.4" cy="753.6" r="2.3" class="q20"/>
<circle cx="614.4" cy="735.1" r="2.3" class="q18"/>
<circle cx="643.3" cy="752.8" r="2.3" class="q19"/>
<circle cx="664.8" cy="872.1" r="2.3" class="q1b"/>
<circle cx="531.6" cy="813.3" r="2.3" class="q18"/>
<circle cx="553.5" cy="792.6" r="2.3" class="q19"/>
<circle cx="565.1" cy="771.9" r="2.3" class="q19"/>
<circle cx="611.6" cy="764.3" r="2.3" class="q19"/>
<circle cx="504.0" cy="807.4" r="2.3" class="q18"/>
<circle cx="483.2" cy="830.8" r="2.3" class="q13"/>
<circle cx="628.2" cy="872.1" r="2.3" class="q1b"/>
<circle cx="547.1" cy="770.6" r="2.3" class="q18"/>
<circle cx="635.1" cy="756.3" r="2.3" class="q19"/>
<circle cx="559.8" cy="871.5" r="2.3" class="q0b"/>
<circle cx="659.2" cy="743.4" r="2.3" class="q20"/>
<circle cx="511.8" cy="808.8" r="2.3" class="q15"/>
<circle cx="526.4" cy="871.3" r="2.3" class="q0b"/>
<circle cx="444.8" cy="857.9" r="2.3" class="q9"/>
<circle cx="615.9" cy="763.1" r="2.3" class="q20"/>
<circle cx="592.5" cy="772.3" r="2.3" class="q19"/>
<circle cx="659.4" cy="731.3" r="2.3" class="q19"/>
<circle cx="442.1" cy="864.8" r="2.3" class="q4"/>
<circle cx="608.4" cy="750.0" r="2.3" class="q19"/>
<circle cx="538.4" cy="797.1" r="2.3" class="q18"/>
<circle cx="645.1" cy="750.1" r="2.3" class="q18"/>
<circle cx="578.4" cy="761.5" r="2.3" class="q17"/>
<circle cx="424.7" cy="871.5" r="2.3" class="q0b"/>
<circle cx="532.6" cy="754.5" r="2.3" class="q20"/>
<circle cx="635.7" cy="744.9" r="2.3" class="q20"/>
<circle cx="513.8" cy="785.6" r="2.3" class="q20"/>
<circle cx="469.0" cy="870.8" r="2.3" class="q0b"/>
<circle cx="619.4" cy="871.8" r="2.3" class="q0b"/>
<circle cx="590.4" cy="773.1" r="2.3" class="q20"/>
<circle cx="654.2" cy="730.9" r="2.3" class="q20"/>
<circle cx="671.9" cy="871.1" r="2.3" class="q0b"/>
<circle cx="513.7" cy="784.8" r="2.3" class="q20"/>
<circle cx="670.4" cy="742.8" r="2.3" class="q19"/>
<circle cx="457.5" cy="866.3" r="2.3" class="q3"/>
<circle cx="598.5" cy="871.6" r="2.3" class="q0b"/>
<circle cx="603.0" cy="732.2" r="2.3" class="q20"/>
<circle cx="549.8" cy="772.0" r="2.3" class="q18"/>
<circle cx="512.0" cy="783.7" r="2.3" class="q18"/>
<circle cx="512.9" cy="819.0" r="2.3" class="q16"/>
<circle cx="657.8" cy="737.7" r="2.3" class="q19"/>
<circle cx="613.8" cy="766.2" r="2.3" class="q20"/>
<circle cx="563.2" cy="871.3" r="2.3" class="q1b"/>
<circle cx="606.2" cy="755.5" r="2.3" class="q20"/>
<circle cx="630.3" cy="752.6" r="2.3" class="q18"/>
<circle cx="478.6" cy="873.1" r="2.3" class="q0b"/>
<circle cx="461.2" cy="871.5" r="2.3" class="q1b"/>
<circle cx="507.7" cy="797.8" r="2.3" class="q19"/>
<circle cx="589.5" cy="751.5" r="2.3" class="q20"/>
<circle cx="613.5" cy="771.8" r="2.3" class="q18"/>
<circle cx="641.9" cy="760.7" r="2.3" class="q20"/>
<circle cx="467.9" cy="874.5" r="2.3" class="q1b"/>
<circle cx="632.6" cy="738.3" r="2.3" class="q19"/>
<circle cx="654.6" cy="870.5" r="2.3" class="q0b"/>
<circle cx="497.3" cy="803.5" r="2.3" class="q19"/>
<circle cx="601.4" cy="749.0" r="2.3" class="q19"/>
<circle cx="422.1" cy="869.7" r="2.3" class="q1b"/>
<circle cx="670.5" cy="732.5" r="2.3" class="q18"/>
<circle cx="667.2" cy="732.3" r="2.3" class="q19"/>
<circle cx="511.3" cy="821.1" r="2.3" class="q16"/>
<circle cx="444.2" cy="870.5" r="2.3" class="q1b"/>
<circle cx="636.9" cy="733.1" r="2.3" class="q18"/>
<circle cx="415.8" cy="875.3" r="2.3" class="q0b"/>
<circle cx="523.8" cy="833.7" r="2.3" class="q12"/>
<circle cx="617.0" cy="744.5" r="2.3" class="q20"/>
<circle cx="556.7" cy="785.4" r="2.3" class="q19"/>
<circle cx="528.2" cy="872.1" r="2.3" class="q0b"/>
<circle cx="525.8" cy="795.3" r="2.3" class="q20"/>
<circle cx="525.4" cy="791.6" r="2.3" class="q20"/>
<circle cx="652.6" cy="742.7" r="2.3" class="q19"/>
<circle cx="559.5" cy="785.4" r="2.3" class="q20"/>
<circle cx="592.5" cy="769.3" r="2.3" class="q18"/>
<circle cx="497.6" cy="870.3" r="2.3" class="q1b"/>
<circle cx="507.0" cy="864.0" r="2.3" class="q7"/>
<circle cx="494.3" cy="799.9" r="2.3" class="q19"/>
<circle cx="495.1" cy="870.6" r="2.3" class="q0b"/>
<circle cx="661.9" cy="750.5" r="2.3" class="q19"/>
<circle cx="563.4" cy="789.2" r="2.3" class="q19"/>
<circle cx="468.7" cy="806.0" r="2.3" class="q18"/>
<circle cx="578.3" cy="756.1" r="2.3" class="q19"/>
<circle cx="453.2" cy="867.4" r="2.3" class="q2"/>
<circle cx="528.3" cy="872.2" r="2.3" class="q0b"/>
<circle cx="606.4" cy="871.1" r="2.3" class="q1b"/>
<circle cx="627.2" cy="726.7" r="2.3" class="q18"/>
<circle cx="670.6" cy="720.9" r="2.3" class="q20"/>
<circle cx="612.4" cy="746.6" r="2.3" class="q18"/>
<circle cx="557.8" cy="782.7" r="2.3" class="q20"/>
<circle cx="652.3" cy="872.2" r="2.3" class="q0b"/>
<circle cx="561.9" cy="773.6" r="2.3" class="q20"/>
<circle cx="467.6" cy="863.8" r="2.3" class="q5"/>
<circle cx="577.1" cy="862.0" r="2.3" class="q8"/>
<circle cx="501.2" cy="790.7" r="2.3" class="q19"/>
<circle cx="452.4" cy="875.3" r="2.3" class="q1b"/>
<circle cx="558.6" cy="788.8" r="2.3" class="q18"/>
<circle cx="656.6" cy="727.7" r="2.3" class="q19"/>
<circle cx="605.6" cy="749.7" r="2.3" class="q20"/>
<circle cx="605.3" cy="746.5" r="2.3" class="q19"/>
<circle cx="521.5" cy="777.0" r="2.3" class="q20"/>
<circle cx="663.6" cy="743.7" r="2.3" class="q19"/>
<circle cx="658.7" cy="727.3" r="2.3" class="q20"/>
<circle cx="497.9" cy="820.2" r="2.3" class="q16"/>
<circle cx="428.7" cy="867.0" r="2.3" class="q7"/>
<circle cx="513.5" cy="787.3" r="2.3" class="q20"/>
<circle cx="547.0" cy="770.2" r="2.3" class="q19"/>
<circle cx="525.7" cy="786.3" r="2.3" class="q19"/>
<circle cx="522.1" cy="783.1" r="2.3" class="q20"/>
<circle cx="589.9" cy="872.1" r="2.3" class="q0b"/>
<circle cx="668.1" cy="750.8" r="2.3" class="q20"/>
<circle cx="572.8" cy="873.3" r="2.3" class="q1b"/>
<circle cx="589.6" cy="755.5" r="2.3" class="q20"/>
<circle cx="668.4" cy="735.1" r="2.3" class="q17"/>
<circle cx="587.9" cy="798.6" r="2.3" class="q19"/>
<circle cx="435.0" cy="866.1" r="2.3" class="q6"/>
<circle cx="498.2" cy="817.3" r="2.3" class="q15"/>
<circle cx="579.3" cy="730.1" r="2.3" class="q20"/>
<circle cx="601.7" cy="872.7" r="2.3" class="q0b"/>
<circle cx="506.5" cy="756.7" r="2.3" class="q19"/>
<circle cx="520.2" cy="770.0" r="2.3" class="q19"/>
<circle cx="600.0" cy="747.4" r="2.3" class="q19"/>
<circle cx="555.7" cy="837.3" r="2.3" class="q13"/>
<circle cx="576.2" cy="871.5" r="2.3" class="q0b"/>
<circle cx="587.2" cy="871.1" r="2.3" class="q0b"/>
<circle cx="579.9" cy="761.8" r="2.3" class="q20"/>
<circle cx="617.3" cy="753.0" r="2.3" class="q20"/>
<circle cx="626.2" cy="871.4" r="2.3" class="q0b"/>
<circle cx="472.9" cy="793.1" r="2.3" class="q19"/>
<circle cx="451.9" cy="871.5" r="2.3" class="q0b"/>
<circle cx="513.7" cy="791.2" r="2.3" class="q19"/>
<circle cx="451.1" cy="873.2" r="2.3" class="q1b"/>
<circle cx="509.6" cy="767.9" r="2.3" class="q19"/>
<circle cx="426.5" cy="873.9" r="2.3" class="q0b"/>
<circle cx="507.8" cy="870.8" r="2.3" class="q0b"/>
<circle cx="603.6" cy="751.9" r="2.3" class="q19"/>
<circle cx="640.5" cy="721.4" r="2.3" class="q19"/>
<circle cx="654.5" cy="739.6" r="2.3" class="q17"/>
<circle cx="632.5" cy="740.4" r="2.3" class="q18"/>
<circle cx="604.9" cy="872.3" r="2.3" class="q0b"/>
<circle cx="638.7" cy="871.1" r="2.3" class="q0b"/>
<circle cx="495.9" cy="787.6" r="2.3" class="q20"/>
<circle cx="535.8" cy="872.0" r="2.3" class="q1b"/>
<circle cx="430.5" cy="869.8" r="2.3" class="q1b"/>
<circle cx="473.1" cy="782.1" r="2.3" class="q20"/>
<circle cx="527.1" cy="811.3" r="2.3" class="q17"/>
<circle cx="526.6" cy="779.5" r="2.3" class="q18"/>
<circle cx="446.1" cy="846.4" r="2.3" class="q13"/>
<circle cx="654.6" cy="746.0" r="2.3" class="q19"/>
<circle cx="580.3" cy="873.0" r="2.3" class="q0b"/>
<circle cx="444.2" cy="867.3" r="2.3" class="q4"/>
<circle cx="582.6" cy="872.4" r="2.3" class="q1b"/>
<circle cx="452.0" cy="863.6" r="2.3" class="q8"/>
<circle cx="671.6" cy="751.2" r="2.3" class="q20"/>
<circle cx="527.8" cy="872.6" r="2.3" class="q0b"/>
<circle cx="524.8" cy="805.5" r="2.3" class="q16"/>
<circle cx="483.6" cy="868.8" r="2.3" class="q6"/>
<circle cx="452.9" cy="817.1" r="2.3" class="q14"/>
<circle cx="455.7" cy="814.3" r="2.3" class="q16"/>
<circle cx="475.4" cy="866.2" r="2.3" class="q7"/>
<circle cx="473.5" cy="873.2" r="2.3" class="q1b"/>
<circle cx="636.8" cy="749.3" r="2.3" class="q19"/>
<circle cx="604.7" cy="871.6" r="2.3" class="q1b"/>
<circle cx="577.2" cy="749.9" r="2.3" class="q20"/>
<circle cx="615.0" cy="752.6" r="2.3" class="q20"/>
<circle cx="643.9" cy="732.9" r="2.3" class="q19"/>
<circle cx="656.6" cy="873.0" r="2.3" class="q1b"/>
<circle cx="548.2" cy="781.9" r="2.3" class="q19"/>
<circle cx="672.2" cy="871.1" r="2.3" class="q1b"/>
<circle cx="636.9" cy="733.8" r="2.3" class="q20"/>
<circle cx="519.7" cy="838.3" r="2.3" class="q13"/>
<circle cx="454.9" cy="870.5" r="2.3" class="q0b"/>
<circle cx="509.4" cy="872.5" r="2.3" class="q1b"/>
<circle cx="443.8" cy="846.7" r="2.3" class="q9"/>
<circle cx="628.7" cy="752.9" r="2.3" class="q19"/>
<circle cx="614.4" cy="743.7" r="2.3" class="q19"/>
<circle cx="662.5" cy="759.3" r="2.3" class="q19"/>
<circle cx="473.2" cy="815.5" r="2.3" class="q17"/>
<circle cx="633.7" cy="734.7" r="2.3" class="q20"/>
<circle cx="608.0" cy="873.7" r="2.3" class="q1b"/>
<circle cx="598.8" cy="756.5" r="2.3" class="q18"/>
<circle cx="592.8" cy="756.9" r="2.3" class="q19"/>
<circle cx="520.4" cy="871.8" r="2.3" class="q0b"/>
<circle cx="600.3" cy="871.5" r="2.3" class="q1b"/>
<circle cx="576.4" cy="872.5" r="2.3" class="q1b"/>
<circle cx="660.4" cy="729.9" r="2.3" class="q20"/>
<circle cx="524.0" cy="872.0" r="2.3" class="q0b"/>
<circle cx="472.5" cy="765.4" r="2.3" class="q18"/>
<circle cx="666.3" cy="739.5" r="2.3" class="q20"/>
<circle cx="529.1" cy="872.3" r="2.3" class="q0b"/>
<circle cx="644.5" cy="872.5" r="2.3" class="q0b"/>
<circle cx="446.6" cy="866.6" r="2.3" class="q5"/>
<circle cx="429.8" cy="875.0" r="2.3" class="q1b"/>
<circle cx="453.0" cy="849.0" r="2.3" class="q12"/>
<circle cx="524.7" cy="797.8" r="2.3" class="q17"/>
<circle cx="627.6" cy="732.9" r="2.3" class="q20"/>
<circle cx="574.2" cy="760.6" r="2.3" class="q19"/>
<circle cx="655.7" cy="726.9" r="2.3" class="q20"/>
<circle cx="660.7" cy="748.9" r="2.3" class="q18"/>
<circle cx="555.7" cy="808.6" r="2.3" class="q17"/>
<circle cx="633.0" cy="731.8" r="2.3" class="q18"/>
<circle cx="662.9" cy="744.6" r="2.3" class="q20"/>
<circle cx="579.1" cy="873.3" r="2.3" class="q0b"/>
<circle cx="417.9" cy="871.5" r="2.3" class="q0b"/>
<circle cx="454.7" cy="869.7" r="2.3" class="q0b"/>
<circle cx="592.4" cy="873.2" r="2.3" class="q0b"/>
<circle cx="626.3" cy="737.1" r="2.3" class="q19"/>
<circle cx="429.1" cy="872.1" r="2.3" class="q0b"/>
<circle cx="494.9" cy="799.3" r="2.3" class="q20"/>
<circle cx="513.0" cy="865.0" r="2.3" class="q2"/>
<circle cx="549.9" cy="765.1" r="2.3" class="q19"/>
<circle cx="495.8" cy="822.5" r="2.3" class="q16"/>
<circle cx="521.9" cy="872.3" r="2.3" class="q0b"/>
<circle cx="611.3" cy="756.0" r="2.3" class="q20"/>
<circle cx="559.5" cy="764.2" r="2.3" class="q20"/>
<circle cx="560.6" cy="777.7" r="2.3" class="q19"/>
<circle cx="525.9" cy="771.7" r="2.3" class="q20"/>
<circle cx="522.2" cy="869.0" r="2.3" class="q7"/>
<circle cx="572.9" cy="760.4" r="2.3" class="q19"/>
<circle cx="616.6" cy="741.0" r="2.3" class="q20"/>
<circle cx="549.9" cy="873.4" r="2.3" class="q1b"/>
<circle cx="577.8" cy="871.6" r="2.3" class="q1b"/>
<circle cx="552.5" cy="778.8" r="2.3" class="q20"/>
<circle cx="537.2" cy="872.0" r="2.3" class="q0b"/>
<circle cx="505.2" cy="783.6" r="2.3" class="q20"/>
<circle cx="600.8" cy="873.9" r="2.3" class="q1b"/>
<circle cx="552.9" cy="857.9" r="2.3" class="q6"/>
<circle cx="484.1" cy="863.5" r="2.3" class="q7"/>
<circle cx="524.3" cy="760.9" r="2.3" class="q20"/>
<circle cx="474.9" cy="868.0" r="2.3" class="q7"/>
<circle cx="602.9" cy="755.7" r="2.3" class="q18"/>
<circle cx="470.4" cy="864.5" r="2.3" class="q7"/>
<circle cx="530.9" cy="769.4" r="2.3" class="q20"/>
<circle cx="658.6" cy="742.1" r="2.3" class="q17"/>
<circle cx="521.1" cy="822.5" r="2.3" class="q17"/>
<circle cx="512.2" cy="874.3" r="2.3" class="q1b"/>
<circle cx="602.9" cy="870.8" r="2.3" class="q1b"/>
<circle cx="454.2" cy="857.3" r="2.3" class="q10"/>
<circle cx="608.5" cy="723.3" r="2.3" class="q19"/>
<circle cx="664.8" cy="721.8" r="2.3" class="q19"/>
<circle cx="495.3" cy="794.6" r="2.3" class="q20"/>
<circle cx="601.9" cy="873.3" r="2.3" class="q0b"/>
<circle cx="468.3" cy="874.1" r="2.3" class="q0b"/>
<circle cx="656.9" cy="872.6" r="2.3" class="q1b"/>
<circle cx="633.0" cy="742.4" r="2.3" class="q19"/>
<circle cx="532.1" cy="796.7" r="2.3" class="q19"/>
<circle cx="424.6" cy="872.5" r="2.3" class="q0b"/>
<circle cx="528.2" cy="795.6" r="2.3" class="q19"/>
<circle cx="441.7" cy="868.5" r="2.3" class="q5"/>
<circle cx="495.0" cy="806.9" r="2.3" class="q18"/>
<circle cx="451.1" cy="829.2" r="2.3" class="q12"/>
<circle cx="495.6" cy="871.1" r="2.3" class="q0b"/>
<circle cx="619.5" cy="760.0" r="2.3" class="q19"/>
<circle cx="418.7" cy="872.7" r="2.3" class="q1b"/>
<circle cx="661.9" cy="872.1" r="2.3" class="q1b"/>
<circle cx="467.6" cy="864.8" r="2.3" class="q3"/>
<circle cx="474.8" cy="815.6" r="2.3" class="q16"/>
<circle cx="536.6" cy="761.6" r="2.3" class="q20"/>
<circle cx="555.8" cy="762.0" r="2.3" class="q19"/>
<circle cx="577.9" cy="825.9" r="2.3" class="q15"/>
<circle cx="667.2" cy="737.5" r="2.3" class="q19"/>
<circle cx="529.3" cy="791.9" r="2.3" class="q19"/>
<circle cx="670.8" cy="716.1" r="2.3" class="q20"/>
<circle cx="454.7" cy="853.9" r="2.3" class="q9"/>
<circle cx="662.2" cy="798.7" r="2.3" class="q20"/>
<circle cx="560.0" cy="758.1" r="2.3" class="q20"/>
<circle cx="493.3" cy="832.7" r="2.3" class="q13"/>
<circle cx="581.5" cy="758.7" r="2.3" class="q19"/>
<circle cx="591.2" cy="871.6" r="2.3" class="q0b"/>
<circle cx="555.9" cy="766.4" r="2.3" class="q19"/>
<circle cx="498.2" cy="872.5" r="2.3" class="q1b"/>
<circle cx="614.6" cy="778.9" r="2.3" class="q20"/>
<circle cx="641.2" cy="735.2" r="2.3" class="q20"/>
<circle cx="638.2" cy="742.1" r="2.3" class="q20"/>
<circle cx="480.7" cy="859.7" r="2.3" class="q7"/>
<circle cx="546.4" cy="864.6" r="2.3" class="q6"/>
<circle cx="657.9" cy="871.3" r="2.3" class="q0b"/>
<circle cx="640.5" cy="740.8" r="2.3" class="q19"/>
<circle cx="447.7" cy="872.7" r="2.3" class="q0b"/>
<circle cx="536.4" cy="828.7" r="2.3" class="q13"/>
<circle cx="639.2" cy="733.3" r="2.3" class="q20"/>
<circle cx="578.5" cy="790.9" r="2.3" class="q20"/>
<circle cx="526.3" cy="804.5" r="2.3" class="q17"/>
<circle cx="444.7" cy="872.5" r="2.3" class="q1b"/>
<circle cx="443.7" cy="871.0" r="2.3" class="q0b"/>
<circle cx="598.7" cy="753.8" r="2.3" class="q18"/>
<circle cx="645.1" cy="741.5" r="2.3" class="q19"/>
<circle cx="558.0" cy="804.5" r="2.3" class="q18"/>
<circle cx="482.4" cy="780.0" r="2.3" class="q20"/>
<circle cx="533.8" cy="783.2" r="2.3" class="q19"/>
<circle cx="526.8" cy="810.4" r="2.3" class="q15"/>
<circle cx="616.4" cy="870.3" r="2.3" class="q1b"/>
<circle cx="523.9" cy="780.6" r="2.3" class="q19"/>
<circle cx="660.0" cy="730.5" r="2.3" class="q19"/>
<circle cx="625.8" cy="763.0" r="2.3" class="q19"/>
<circle cx="625.5" cy="733.0" r="2.3" class="q20"/>
<circle cx="626.6" cy="752.7" r="2.3" class="q19"/>
<circle cx="547.3" cy="762.8" r="2.3" class="q18"/>
<circle cx="583.7" cy="758.9" r="2.3" class="q20"/>
<circle cx="456.2" cy="833.1" r="2.3" class="q11"/>
<circle cx="524.9" cy="777.9" r="2.3" class="q17"/>
<circle cx="432.9" cy="874.0" r="2.3" class="q1b"/>
<circle cx="478.8" cy="872.9" r="2.3" class="q1b"/>
<circle cx="617.5" cy="743.7" r="2.3" class="q20"/>
<circle cx="633.2" cy="737.1" r="2.3" class="q19"/>
<circle cx="644.2" cy="757.5" r="2.3" class="q20"/>
<circle cx="506.0" cy="764.9" r="2.3" class="q20"/>
<circle cx="576.6" cy="769.5" r="2.3" class="q18"/>
<circle cx="662.0" cy="746.2" r="2.3" class="q19"/>
<circle cx="634.4" cy="738.7" r="2.3" class="q19"/>
<circle cx="550.9" cy="741.0" r="2.3" class="q20"/>
<circle cx="599.4" cy="757.4" r="2.3" class="q20"/>
<circle cx="512.1" cy="873.9" r="2.3" class="q0b"/>
<circle cx="616.1" cy="747.0" r="2.3" class="q19"/>
<circle cx="564.5" cy="826.9" r="2.3" class="q14"/>
<circle cx="547.4" cy="861.2" r="2.3" class="q7"/>
<circle cx="549.9" cy="774.4" r="2.3" class="q18"/>
<circle cx="430.5" cy="872.3" r="2.3" class="q0b"/>
<circle cx="629.1" cy="871.7" r="2.3" class="q1b"/>
<circle cx="475.7" cy="811.0" r="2.3" class="q17"/>
<circle cx="507.8" cy="800.7" r="2.3" class="q19"/>
<circle cx="546.5" cy="806.8" r="2.3" class="q18"/>
<circle cx="505.4" cy="872.9" r="2.3" class="q0b"/>
<circle cx="618.1" cy="762.5" r="2.3" class="q19"/>
<circle cx="456.0" cy="865.8" r="2.3" class="q2"/>
<circle cx="583.7" cy="768.1" r="2.3" class="q20"/>
<circle cx="481.2" cy="819.8" r="2.3" class="q15"/>
<circle cx="444.9" cy="827.5" r="2.3" class="q15"/>
<circle cx="626.4" cy="751.4" r="2.3" class="q20"/>
<circle cx="629.7" cy="735.2" r="2.3" class="q18"/>
<circle cx="579.2" cy="793.9" r="2.3" class="q19"/>
<circle cx="513.9" cy="859.4" r="2.3" class="q9"/>
<circle cx="478.2" cy="781.0" r="2.3" class="q18"/>
<circle cx="666.3" cy="872.5" r="2.3" class="q0b"/>
<circle cx="564.2" cy="774.2" r="2.3" class="q20"/>
<circle cx="494.0" cy="813.4" r="2.3" class="q17"/>
<circle cx="535.3" cy="787.9" r="2.3" class="q20"/>
<circle cx="582.4" cy="758.7" r="2.3" class="q19"/>
<circle cx="605.6" cy="753.7" r="2.3" class="q20"/>
<circle cx="521.2" cy="873.2" r="2.3" class="q1b"/>
<circle cx="651.8" cy="753.8" r="2.3" class="q20"/>
<circle cx="556.4" cy="760.0" r="2.3" class="q18"/>
<circle cx="470.0" cy="867.8" r="2.3" class="q3"/>
<circle cx="483.9" cy="787.7" r="2.3" class="q18"/>
<circle cx="471.5" cy="867.4" r="2.3" class="q8"/>
<circle cx="529.0" cy="775.6" r="2.3" class="q19"/>
<circle cx="639.0" cy="738.0" r="2.3" class="q19"/>
<circle cx="631.3" cy="741.0" r="2.3" class="q20"/>
<circle cx="555.6" cy="766.1" r="2.3" class="q19"/>
<circle cx="668.0" cy="741.2" r="2.3" class="q19"/>
<circle cx="555.4" cy="790.1" r="2.3" class="q19"/>
<circle cx="459.9" cy="867.8" r="2.3" class="q5"/>
<circle cx="534.8" cy="864.1" r="2.3" class="q7"/>
<circle cx="419.0" cy="872.3" r="2.3" class="q1b"/>
<circle cx="480.9" cy="858.6" r="2.3" class="q8"/>
<circle cx="555.3" cy="872.5" r="2.3" class="q0b"/>
<circle cx="618.2" cy="871.2" r="2.3" class="q1b"/>
<circle cx="445.6" cy="843.1" r="2.3" class="q10"/>
<circle cx="497.5" cy="811.8" r="2.3" class="q17"/>
<circle cx="600.2" cy="760.3" r="2.3" class="q20"/>
<circle cx="609.0" cy="872.7" r="2.3" class="q1b"/>
<circle cx="625.4" cy="871.9" r="2.3" class="q1b"/>
<circle cx="638.0" cy="749.9" r="2.3" class="q20"/>
<circle cx="526.8" cy="761.4" r="2.3" class="q20"/>
<circle cx="467.7" cy="760.8" r="2.3" class="q18"/>
<circle cx="642.7" cy="728.8" r="2.3" class="q20"/>
<circle cx="505.5" cy="874.7" r="2.3" class="q0b"/>
<circle cx="512.3" cy="867.9" r="2.3" class="q7"/>
<circle cx="508.6" cy="776.9" r="2.3" class="q20"/>
<circle cx="513.7" cy="794.7" r="2.3" class="q20"/>
<circle cx="653.2" cy="873.0" r="2.3" class="q1b"/>
<circle cx="636.6" cy="872.2" r="2.3" class="q0b"/>
<circle cx="560.0" cy="865.7" r="2.3" class="q7"/>
<circle cx="498.0" cy="818.2" r="2.3" class="q16"/>
<circle cx="555.7" cy="785.8" r="2.3" class="q19"/>
<circle cx="460.0" cy="832.8" r="2.3" class="q13"/>
<circle cx="657.0" cy="731.9" r="2.3" class="q19"/>
<circle cx="474.6" cy="866.9" r="2.3" class="q4"/>
<circle cx="586.6" cy="762.1" r="2.3" class="q19"/>
<circle cx="520.0" cy="822.9" r="2.3" class="q14"/>
<circle cx="528.7" cy="775.5" r="2.3" class="q18"/>
<circle cx="574.2" cy="779.9" r="2.3" class="q19"/>
<circle cx="574.9" cy="744.6" r="2.3" class="q17"/>
<circle cx="559.9" cy="775.5" r="2.3" class="q20"/>
<circle cx="456.7" cy="871.0" r="2.3" class="q0b"/>
<circle cx="662.1" cy="725.8" r="2.3" class="q20"/>
<circle cx="512.0" cy="801.7" r="2.3" class="q19"/>
<circle cx="633.2" cy="737.6" r="2.3" class="q17"/>
<circle cx="593.2" cy="746.3" r="2.3" class="q20"/>
<circle cx="457.0" cy="846.3" r="2.3" class="q11"/>
<circle cx="416.1" cy="870.9" r="2.3" class="q0b"/>
<circle cx="548.0" cy="871.5" r="2.3" class="q0b"/>
<circle cx="497.3" cy="773.9" r="2.3" class="q19"/>
<circle cx="501.3" cy="800.3" r="2.3" class="q18"/>
<circle cx="513.3" cy="873.4" r="2.3" class="q0b"/>
<circle cx="551.9" cy="871.9" r="2.3" class="q1b"/>
<circle cx="663.3" cy="742.2" r="2.3" class="q20"/>
<circle cx="600.5" cy="740.5" r="2.3" class="q20"/>
<circle cx="606.4" cy="735.1" r="2.3" class="q19"/>
<circle cx="590.1" cy="761.2" r="2.3" class="q19"/>
<circle cx="579.6" cy="797.6" r="2.3" class="q18"/>
<circle cx="534.3" cy="798.3" r="2.3" class="q20"/>
<circle cx="653.0" cy="724.7" r="2.3" class="q20"/>
<circle cx="607.9" cy="744.2" r="2.3" class="q20"/>
<circle cx="524.9" cy="870.4" r="2.3" class="q0b"/>
<circle cx="654.9" cy="872.1" r="2.3" class="q0b"/>
<circle cx="589.0" cy="758.6" r="2.3" class="q19"/>
<circle cx="485.7" cy="875.0" r="2.3" class="q1b"/>
<circle cx="501.4" cy="868.8" r="2.3" class="q4"/>
<circle cx="458.7" cy="833.0" r="2.3" class="q14"/>
<circle cx="610.2" cy="749.6" r="2.3" class="q20"/>
<circle cx="591.2" cy="870.8" r="2.3" class="q1b"/>
<circle cx="604.1" cy="743.4" r="2.3" class="q18"/>
<circle cx="629.2" cy="746.8" r="2.3" class="q18"/>
<circle cx="478.8" cy="782.0" r="2.3" class="q19"/>
<circle cx="425.9" cy="870.8" r="2.3" class="q0b"/>
<circle cx="654.2" cy="722.3" r="2.3" class="q18"/>
<circle cx="547.0" cy="783.6" r="2.3" class="q20"/>
<circle cx="548.8" cy="757.5" r="2.3" class="q19"/>
<circle cx="654.5" cy="741.1" r="2.3" class="q18"/>
<circle cx="663.7" cy="872.7" r="2.3" class="q0b"/>
<circle cx="658.5" cy="736.9" r="2.3" class="q19"/>
<circle cx="502.6" cy="868.5" r="2.3" class="q4"/>
<circle cx="538.8" cy="797.0" r="2.3" class="q19"/>
<circle cx="661.6" cy="872.4" r="2.3" class="q1b"/>
<circle cx="474.3" cy="798.3" r="2.3" class="q20"/>
<circle cx="636.8" cy="871.9" r="2.3" class="q0b"/>
<circle cx="502.7" cy="870.8" r="2.3" class="q0b"/>
<circle cx="666.1" cy="871.3" r="2.3" class="q0b"/>
<circle cx="655.2" cy="727.9" r="2.3" class="q19"/>
<circle cx="615.1" cy="732.8" r="2.3" class="q19"/>
<circle cx="425.4" cy="867.6" r="2.3" class="q6"/>
<circle cx="435.0" cy="872.8" r="2.3" class="q1b"/>
<circle cx="580.1" cy="872.1" r="2.3" class="q1b"/>
<circle cx="579.1" cy="742.3" r="2.3" class="q20"/>
<circle cx="631.6" cy="744.5" r="2.3" class="q20"/>
<circle cx="658.2" cy="871.3" r="2.3" class="q1b"/>
<circle cx="617.3" cy="760.1" r="2.3" class="q19"/>
<circle cx="459.1" cy="815.4" r="2.3" class="q17"/>
<circle cx="655.0" cy="716.8" r="2.3" class="q18"/>
<circle cx="576.5" cy="752.6" r="2.3" class="q20"/>
<circle cx="456.7" cy="819.9" r="2.3" class="q16"/>
<circle cx="508.9" cy="866.6" r="2.3" class="q5"/>
<circle cx="469.5" cy="804.0" r="2.3" class="q19"/>
<circle cx="450.7" cy="867.8" r="2.3" class="q5"/>
<circle cx="455.2" cy="864.1" r="2.3" class="q8"/>
<circle cx="629.4" cy="750.7" r="2.3" class="q19"/>
<circle cx="486.4" cy="797.0" r="2.3" class="q20"/>
<circle cx="457.9" cy="845.3" r="2.3" class="q9"/>
<circle cx="587.5" cy="746.9" r="2.3" class="q20"/>
<circle cx="509.7" cy="860.8" r="2.3" class="q8"/>
<circle cx="520.8" cy="872.2" r="2.3" class="q0b"/>
<circle cx="514.2" cy="870.9" r="2.3" class="q1b"/>
<circle cx="445.4" cy="871.8" r="2.3" class="q0b"/>
<circle cx="469.6" cy="872.8" r="2.3" class="q0b"/>
<circle cx="424.3" cy="873.2" r="2.3" class="q0b"/>
<circle cx="535.4" cy="782.1" r="2.3" class="q19"/>
<circle cx="640.3" cy="734.1" r="2.3" class="q19"/>
<circle cx="493.7" cy="873.1" r="2.3" class="q1b"/>
<circle cx="658.9" cy="872.8" r="2.3" class="q1b"/>
<circle cx="497.1" cy="783.3" r="2.3" class="q20"/>
<circle cx="477.6" cy="871.6" r="2.3" class="q0b"/>
<circle cx="513.0" cy="813.3" r="2.3" class="q16"/>
<circle cx="486.8" cy="861.9" r="2.3" class="q5"/>
<circle cx="624.9" cy="872.8" r="2.3" class="q0b"/>
<circle cx="600.7" cy="762.5" r="2.3" class="q19"/>
<circle cx="593.0" cy="871.8" r="2.3" class="q1b"/>
<circle cx="511.0" cy="786.7" r="2.3" class="q18"/>
<circle cx="587.8" cy="872.8" r="2.3" class="q1b"/>
<circle cx="456.3" cy="859.7" r="2.3" class="q8"/>
<circle cx="631.9" cy="870.9" r="2.3" class="q0b"/>
<circle cx="432.6" cy="873.6" r="2.3" class="q0b"/>
<circle cx="449.9" cy="843.1" r="2.3" class="q11"/>
<circle cx="653.5" cy="718.2" r="2.3" class="q18"/>
<circle cx="575.7" cy="742.3" r="2.3" class="q20"/>
<circle cx="556.4" cy="871.5" r="2.3" class="q0b"/>
<circle cx="562.5" cy="784.0" r="2.3" class="q18"/>
<circle cx="551.3" cy="787.9" r="2.3" class="q19"/>
<circle cx="426.4" cy="867.2" r="2.3" class="q7"/>
<circle cx="495.8" cy="794.8" r="2.3" class="q20"/>
<circle cx="551.3" cy="787.8" r="2.3" class="q19"/>
<circle cx="646.1" cy="872.3" r="2.3" class="q1b"/>
<circle cx="612.0" cy="749.0" r="2.3" class="q18"/>
<circle cx="483.2" cy="873.4" r="2.3" class="q0b"/>
<circle cx="664.6" cy="872.9" r="2.3" class="q1b"/>
<circle cx="560.8" cy="751.7" r="2.3" class="q19"/>
<circle cx="664.3" cy="727.8" r="2.3" class="q20"/>
<circle cx="583.2" cy="772.9" r="2.3" class="q17"/>
<circle cx="598.9" cy="736.8" r="2.3" class="q19"/>
<circle cx="499.1" cy="877.4" r="2.3" class="q0b"/>
<circle cx="666.8" cy="739.3" r="2.3" class="q20"/>
<circle cx="529.0" cy="780.2" r="2.3" class="q19"/>
<circle cx="502.5" cy="873.6" r="2.3" class="q0b"/>
<circle cx="537.5" cy="872.8" r="2.3" class="q0b"/>
<circle cx="559.5" cy="744.1" r="2.3" class="q20"/>
<circle cx="441.0" cy="864.6" r="2.3" class="q2"/>
<circle cx="616.6" cy="760.1" r="2.3" class="q18"/>
<circle cx="461.4" cy="870.7" r="2.3" class="q0b"/>
<circle cx="634.7" cy="722.8" r="2.3" class="q17"/>
<circle cx="631.8" cy="732.6" r="2.3" class="q19"/>
<circle cx="669.8" cy="765.4" r="2.3" class="q20"/>
<circle cx="549.7" cy="865.4" r="2.3" class="q2"/>
<circle cx="526.3" cy="776.3" r="2.3" class="q17"/>
<circle cx="458.7" cy="872.1" r="2.3" class="q0b"/>
<circle cx="640.5" cy="722.7" r="2.3" class="q19"/>
<circle cx="603.4" cy="749.4" r="2.3" class="q20"/>
<circle cx="509.0" cy="871.9" r="2.3" class="q0b"/>
<circle cx="666.0" cy="722.4" r="2.3" class="q19"/>
<circle cx="499.7" cy="780.4" r="2.3" class="q20"/>
<circle cx="572.6" cy="775.1" r="2.3" class="q20"/>
<circle cx="654.9" cy="729.8" r="2.3" class="q20"/>
<circle cx="564.8" cy="758.8" r="2.3" class="q20"/>
<circle cx="665.8" cy="746.7" r="2.3" class="q19"/>
<circle cx="583.6" cy="767.1" r="2.3" class="q19"/>
<circle cx="666.5" cy="743.7" r="2.3" class="q20"/>
<circle cx="601.9" cy="756.7" r="2.3" class="q18"/>
<circle cx="608.8" cy="872.0" r="2.3" class="q1b"/>
<circle cx="500.6" cy="775.9" r="2.3" class="q18"/>
<circle cx="422.1" cy="871.1" r="2.3" class="q0b"/>
<circle cx="496.2" cy="861.2" r="2.3" class="q7"/>
<circle cx="557.3" cy="777.5" r="2.3" class="q19"/>
<circle cx="470.2" cy="866.9" r="2.3" class="q4"/>
<circle cx="460.6" cy="812.4" r="2.3" class="q18"/>
<circle cx="523.6" cy="871.9" r="2.3" class="q1b"/>
<circle cx="578.2" cy="764.9" r="2.3" class="q19"/>
<circle cx="527.5" cy="872.3" r="2.3" class="q1b"/>
<circle cx="532.7" cy="751.1" r="2.3" class="q18"/>
<circle cx="452.7" cy="865.6" r="2.3" class="q4"/>
<circle cx="487.3" cy="786.6" r="2.3" class="q20"/>
<circle cx="645.2" cy="724.0" r="2.3" class="q18"/>
<circle cx="474.0" cy="859.7" r="2.3" class="q8"/>
<circle cx="554.9" cy="778.4" r="2.3" class="q19"/>
<circle cx="587.1" cy="726.9" r="2.3" class="q19"/>
<circle cx="505.3" cy="777.1" r="2.3" class="q19"/>
<circle cx="534.9" cy="815.6" r="2.3" class="q17"/>
<circle cx="584.3" cy="778.7" r="2.3" class="q19"/>
<circle cx="559.3" cy="794.7" r="2.3" class="q19"/>
<circle cx="601.1" cy="749.2" r="2.3" class="q20"/>
<circle cx="533.6" cy="770.4" r="2.3" class="q19"/>
<circle cx="566.8" cy="764.4" r="2.3" class="q19"/>
<circle cx="659.5" cy="748.4" r="2.3" class="q20"/>
<circle cx="510.3" cy="791.2" r="2.3" class="q19"/>
<circle cx="468.9" cy="819.3" r="2.3" class="q15"/>
<circle cx="496.1" cy="863.7" r="2.3" class="q8"/>
<circle cx="642.1" cy="739.2" r="2.3" class="q19"/>
<circle cx="476.0" cy="872.4" r="2.3" class="q1b"/>
<circle cx="601.4" cy="871.6" r="2.3" class="q1b"/>
<circle cx="666.3" cy="729.5" r="2.3" class="q20"/>
<circle cx="603.4" cy="872.9" r="2.3" class="q0b"/>
<circle cx="495.9" cy="767.3" r="2.3" class="q17"/>
<circle cx="475.2" cy="795.6" r="2.3" class="q20"/>
<circle cx="533.7" cy="773.7" r="2.3" class="q20"/>
<circle cx="642.0" cy="742.6" r="2.3" class="q20"/>
<circle cx="602.8" cy="744.1" r="2.3" class="q18"/>
<circle cx="506.7" cy="798.3" r="2.3" class="q19"/>
<circle cx="659.7" cy="741.1" r="2.3" class="q20"/>
<circle cx="641.3" cy="746.3" r="2.3" class="q19"/>
<circle cx="482.1" cy="865.3" r="2.3" class="q4"/>
<circle cx="639.0" cy="746.2" r="2.3" class="q20"/>
<circle cx="511.7" cy="869.9" r="2.3" class="q1b"/>
<circle cx="509.9" cy="780.3" r="2.3" class="q19"/>
<circle cx="485.2" cy="874.2" r="2.3" class="q1b"/>
<circle cx="628.4" cy="755.0" r="2.3" class="q20"/>
<circle cx="495.7" cy="864.2" r="2.3" class="q8"/>
<circle cx="414.4" cy="869.9" r="2.3" class="q1b"/>
<circle cx="558.2" cy="773.5" r="2.3" class="q20"/>
<circle cx="593.2" cy="783.8" r="2.3" class="q19"/>
<circle cx="614.9" cy="872.6" r="2.3" class="q0b"/>
<circle cx="625.6" cy="746.0" r="2.3" class="q19"/>
<circle cx="600.8" cy="871.6" r="2.3" class="q0b"/>
<circle cx="578.1" cy="873.4" r="2.3" class="q0b"/>
<circle cx="472.7" cy="872.1" r="2.3" class="q0b"/>
<circle cx="473.7" cy="873.6" r="2.3" class="q1b"/>
<circle cx="635.5" cy="742.8" r="2.3" class="q18"/>
<circle cx="641.3" cy="755.5" r="2.3" class="q19"/>
<circle cx="565.0" cy="747.7" r="2.3" class="q19"/>
<circle cx="422.3" cy="869.0" r="2.3" class="q7"/>
<circle cx="452.8" cy="862.3" r="2.3" class="q8"/>
<circle cx="654.1" cy="750.6" r="2.3" class="q19"/>
<circle cx="668.5" cy="750.5" r="2.3" class="q20"/>
<circle cx="524.2" cy="780.1" r="2.3" class="q20"/>
<circle cx="667.6" cy="737.6" r="2.3" class="q20"/>
<circle cx="496.9" cy="868.5" r="2.3" class="q4"/>
<circle cx="467.9" cy="826.4" r="2.3" class="q15"/>
<circle cx="631.1" cy="870.7" r="2.3" class="q1b"/>
<circle cx="495.6" cy="774.8" r="2.3" class="q20"/>
<circle cx="487.0" cy="799.6" r="2.3" class="q17"/>
<circle cx="656.9" cy="871.0" r="2.3" class="q0b"/>
<circle cx="576.6" cy="762.6" r="2.3" class="q18"/>
<circle cx="510.3" cy="794.5" r="2.3" class="q19"/>
<circle cx="522.0" cy="788.0" r="2.3" class="q17"/>
<circle cx="590.1" cy="871.6" r="2.3" class="q0b"/>
<circle cx="578.5" cy="763.3" r="2.3" class="q19"/>
<circle cx="448.9" cy="873.8" r="2.3" class="q1b"/>
<circle cx="467.2" cy="810.8" r="2.3" class="q16"/>
<circle cx="630.9" cy="731.0" r="2.3" class="q19"/>
<circle cx="417.2" cy="864.1" r="2.3" class="q6"/>
<circle cx="557.5" cy="775.5" r="2.3" class="q20"/>
<circle cx="508.8" cy="871.5" r="2.3" class="q1b"/>
<circle cx="537.2" cy="872.9" r="2.3" class="q1b"/>
<circle cx="500.3" cy="865.5" r="2.3" class="q5"/>
<circle cx="431.5" cy="872.7" r="2.3" class="q0b"/>
<circle cx="425.6" cy="864.2" r="2.3" class="q2"/>
<circle cx="484.3" cy="812.1" r="2.3" class="q17"/>
<circle cx="533.4" cy="865.1" r="2.3" class="q9"/>
<circle cx="610.6" cy="749.5" r="2.3" class="q19"/>
<circle cx="579.5" cy="759.1" r="2.3" class="q20"/>
<circle cx="611.3" cy="736.9" r="2.3" class="q19"/>
<circle cx="446.5" cy="871.4" r="2.3" class="q0b"/>
<circle cx="557.7" cy="812.9" r="2.3" class="q16"/>
<circle cx="549.0" cy="799.1" r="2.3" class="q19"/>
<circle cx="521.6" cy="871.7" r="2.3" class="q0b"/>
<circle cx="662.4" cy="741.0" r="2.3" class="q20"/>
<circle cx="558.3" cy="808.7" r="2.3" class="q17"/>
<circle cx="500.4" cy="799.7" r="2.3" class="q20"/>
<circle cx="481.9" cy="871.5" r="2.3" class="q1b"/>
<circle cx="526.5" cy="871.3" r="2.3" class="q0b"/>
<circle cx="507.8" cy="873.9" r="2.3" class="q0b"/>
<circle cx="635.7" cy="721.3" r="2.3" class="q20"/>
<circle cx="663.2" cy="724.6" r="2.3" class="q18"/>
<circle cx="528.2" cy="797.0" r="2.3" class="q18"/>
<circle cx="455.4" cy="816.2" r="2.3" class="q15"/>
<circle cx="478.6" cy="814.3" r="2.3" class="q17"/>
<circle cx="603.4" cy="732.9" r="2.3" class="q18"/>
<circle cx="660.9" cy="871.7" r="2.3" class="q1b"/>
<circle cx="551.5" cy="773.8" r="2.3" class="q19"/>
<circle cx="618.3" cy="776.3" r="2.3" class="q17"/>
<circle cx="550.6" cy="776.4" r="2.3" class="q19"/>
<circle cx="561.6" cy="871.8" r="2.3" class="q0b"/>
<circle cx="466.8" cy="869.7" r="2.3" class="q1b"/>
<circle cx="508.3" cy="761.6" r="2.3" class="q20"/>
<circle cx="520.2" cy="786.0" r="2.3" class="q19"/>
<circle cx="634.3" cy="739.9" r="2.3" class="q19"/>
<circle cx="458.0" cy="871.2" r="2.3" class="q1b"/>
<circle cx="632.3" cy="750.2" r="2.3" class="q19"/>
<circle cx="582.3" cy="758.8" r="2.3" class="q20"/>
<circle cx="553.8" cy="770.1" r="2.3" class="q20"/>
<circle cx="563.0" cy="871.0" r="2.3" class="q1b"/>
<circle cx="432.8" cy="870.7" r="2.3" class="q1b"/>
<circle cx="495.0" cy="748.9" r="2.3" class="q19"/>
<circle cx="486.0" cy="873.3" r="2.3" class="q0b"/>
<circle cx="523.6" cy="873.2" r="2.3" class="q1b"/>
<circle cx="576.4" cy="757.8" r="2.3" class="q20"/>
<circle cx="511.0" cy="770.7" r="2.3" class="q18"/>
<circle cx="537.5" cy="872.2" r="2.3" class="q1b"/>
<circle cx="502.3" cy="874.0" r="2.3" class="q1b"/>
<circle cx="592.0" cy="872.4" r="2.3" class="q1b"/>
<circle cx="563.5" cy="779.5" r="2.3" class="q20"/>
<circle cx="633.6" cy="737.8" r="2.3" class="q20"/>
<circle cx="588.9" cy="784.2" r="2.3" class="q18"/>
<circle cx="530.4" cy="873.1" r="2.3" class="q0b"/>
<circle cx="500.8" cy="869.8" r="2.3" class="q1b"/>
<circle cx="633.7" cy="873.1" r="2.3" class="q0b"/>
<circle cx="654.0" cy="872.9" r="2.3" class="q1b"/>
<circle cx="523.4" cy="871.1" r="2.3" class="q0b"/>
<circle cx="638.7" cy="872.4" r="2.3" class="q1b"/>
<circle cx="590.5" cy="741.2" r="2.3" class="q19"/>
<circle cx="604.4" cy="737.0" r="2.3" class="q19"/>
<circle cx="449.8" cy="868.5" r="2.3" class="q1b"/>
<circle cx="424.8" cy="871.3" r="2.3" class="q1b"/>
<circle cx="629.0" cy="737.6" r="2.3" class="q20"/>
<circle cx="532.3" cy="812.4" r="2.3" class="q16"/>
<circle cx="662.8" cy="873.4" r="2.3" class="q1b"/>
<circle cx="529.0" cy="791.2" r="2.3" class="q18"/>
<circle cx="602.8" cy="763.1" r="2.3" class="q20"/>
<circle cx="618.7" cy="752.5" r="2.3" class="q19"/>
<circle cx="445.2" cy="819.1" r="2.3" class="q15"/>
<circle cx="566.1" cy="872.1" r="2.3" class="q1b"/>
<circle cx="467.7" cy="830.0" r="2.3" class="q13"/>
<circle cx="416.9" cy="867.7" r="2.3" class="q5"/>
<circle cx="535.1" cy="808.1" r="2.3" class="q18"/>
<circle cx="584.6" cy="763.5" r="2.3" class="q18"/>
<circle cx="566.3" cy="775.0" r="2.3" class="q20"/>
<circle cx="513.9" cy="866.4" r="2.3" class="q5"/>
<circle cx="480.7" cy="814.7" r="2.3" class="q15"/>
<circle cx="477.1" cy="872.3" r="2.3" class="q0b"/>
<circle cx="474.7" cy="758.1" r="2.3" class="q19"/>
<circle cx="583.5" cy="871.7" r="2.3" class="q1b"/>
<circle cx="527.0" cy="865.2" r="2.3" class="q2"/>
<circle cx="671.3" cy="871.2" r="2.3" class="q1b"/>
<circle cx="562.1" cy="870.6" r="2.3" class="q0b"/>
<circle cx="534.8" cy="788.6" r="2.3" class="q19"/>
<circle cx="613.4" cy="768.2" r="2.3" class="q19"/>
<circle cx="500.8" cy="866.6" r="2.3" class="q6"/>
<circle cx="506.4" cy="782.4" r="2.3" class="q19"/>
<circle cx="590.7" cy="757.0" r="2.3" class="q18"/>
<circle cx="476.9" cy="873.4" r="2.3" class="q0b"/>
<circle cx="420.6" cy="869.8" r="2.3" class="q0b"/>
<circle cx="600.1" cy="871.7" r="2.3" class="q0b"/>
<circle cx="653.3" cy="726.6" r="2.3" class="q17"/>
<circle cx="458.4" cy="856.6" r="2.3" class="q9"/>
<circle cx="613.3" cy="755.6" r="2.3" class="q19"/>
<circle cx="467.2" cy="780.2" r="2.3" class="q19"/>
<circle cx="484.4" cy="870.0" r="2.3" class="q0b"/>
<circle cx="611.3" cy="809.6" r="2.3" class="q17"/>
<circle cx="584.2" cy="760.1" r="2.3" class="q18"/>
<circle cx="662.5" cy="872.5" r="2.3" class="q0b"/>
<circle cx="583.7" cy="746.0" r="2.3" class="q18"/>
<circle cx="631.6" cy="739.5" r="2.3" class="q20"/>
<circle cx="665.0" cy="743.9" r="2.3" class="q19"/>
<circle cx="503.6" cy="791.9" r="2.3" class="q20"/>
<circle cx="667.5" cy="721.6" r="2.3" class="q20"/>
<circle cx="536.2" cy="787.0" r="2.3" class="q19"/>
<circle cx="653.2" cy="872.6" r="2.3" class="q1b"/>
<circle cx="452.0" cy="869.3" r="2.3" class="q0b"/>
<circle cx="627.5" cy="744.9" r="2.3" class="q20"/>
<circle cx="582.1" cy="769.3" r="2.3" class="q19"/>
<circle cx="642.5" cy="740.1" r="2.3" class="q19"/>
<circle cx="554.9" cy="871.6" r="2.3" class="q0b"/>
<circle cx="657.5" cy="753.6" r="2.3" class="q19"/>
<circle cx="604.4" cy="754.3" r="2.3" class="q18"/>
<circle cx="445.5" cy="874.9" r="2.3" class="q1b"/>
<circle cx="497.6" cy="872.1" r="2.3" class="q0b"/>
<circle cx="470.5" cy="780.4" r="2.3" class="q18"/>
<circle cx="497.1" cy="783.9" r="2.3" class="q19"/>
<circle cx="468.1" cy="871.5" r="2.3" class="q1b"/>
<circle cx="445.0" cy="850.0" r="2.3" class="q10"/>
<circle cx="619.5" cy="872.2" r="2.3" class="q1b"/>
<circle cx="583.7" cy="777.5" r="2.3" class="q20"/>
<circle cx="638.2" cy="871.5" r="2.3" class="q1b"/>
<circle cx="453.4" cy="828.4" r="2.3" class="q11"/>
<circle cx="547.8" cy="871.8" r="2.3" class="q0b"/>
<circle cx="575.1" cy="749.4" r="2.3" class="q20"/>
<circle cx="546.0" cy="763.2" r="2.3" class="q19"/>
<circle cx="600.2" cy="760.7" r="2.3" class="q18"/>
<circle cx="614.2" cy="736.6" r="2.3" class="q20"/>
<circle cx="591.7" cy="749.8" r="2.3" class="q20"/>
<circle cx="615.5" cy="747.8" r="2.3" class="q17"/>
<circle cx="574.8" cy="765.9" r="2.3" class="q20"/>
<circle cx="501.5" cy="802.0" r="2.3" class="q19"/>
<circle cx="553.8" cy="838.8" r="2.3" class="q11"/>
<circle cx="497.9" cy="803.6" r="2.3" class="q20"/>
<circle cx="584.4" cy="871.2" r="2.3" class="q1b"/>
<circle cx="562.0" cy="871.1" r="2.3" class="q0b"/>
<circle cx="549.0" cy="801.1" r="2.3" class="q19"/>
<circle cx="619.3" cy="766.0" r="2.3" class="q20"/>
<circle cx="552.3" cy="817.2" r="2.3" class="q14"/>
<circle cx="419.6" cy="870.7" r="2.3" class="q1b"/>
<circle cx="530.5" cy="796.8" r="2.3" class="q20"/>
<circle cx="547.8" cy="796.1" r="2.3" class="q18"/>
<circle cx="561.3" cy="778.4" r="2.3" class="q20"/>
<circle cx="503.8" cy="872.4" r="2.3" class="q1b"/>
<circle cx="486.8" cy="861.4" r="2.3" class="q9"/>
<circle cx="472.6" cy="871.5" r="2.3" class="q1b"/>
<circle cx="587.2" cy="791.4" r="2.3" class="q18"/>
<circle cx="479.1" cy="777.9" r="2.3" class="q20"/>
<circle cx="613.4" cy="756.6" r="2.3" class="q20"/>
<circle cx="535.8" cy="872.7" r="2.3" class="q1b"/>
<circle cx="520.0" cy="862.5" r="2.3" class="q8"/>
<circle cx="474.7" cy="823.7" r="2.3" class="q14"/>
<circle cx="660.4" cy="740.8" r="2.3" class="q18"/>
<circle cx="446.8" cy="870.2" r="2.3" class="q1b"/>
<circle cx="565.0" cy="754.9" r="2.3" class="q20"/>
<circle cx="613.5" cy="871.2" r="2.3" class="q1b"/>
<circle cx="608.7" cy="769.5" r="2.3" class="q19"/>
<circle cx="500.4" cy="800.0" r="2.3" class="q17"/>
<circle cx="418.8" cy="864.4" r="2.3" class="q6"/>
<circle cx="493.8" cy="870.4" r="2.3" class="q0b"/>
<circle cx="482.3" cy="780.7" r="2.3" class="q20"/>
<circle cx="665.9" cy="741.3" r="2.3" class="q18"/>
<circle cx="440.7" cy="865.5" r="2.3" class="q2"/>
<circle cx="508.0" cy="827.0" r="2.3" class="q15"/>
<circle cx="660.8" cy="870.6" r="2.3" class="q0b"/>
<circle cx="573.8" cy="872.8" r="2.3" class="q0b"/>
<circle cx="531.2" cy="784.6" r="2.3" class="q20"/>
<circle cx="547.0" cy="870.9" r="2.3" class="q1b"/>
<circle cx="630.6" cy="745.2" r="2.3" class="q18"/>
<circle cx="576.5" cy="761.5" r="2.3" class="q20"/>
<circle cx="584.9" cy="761.3" r="2.3" class="q20"/>
<circle cx="615.3" cy="733.5" r="2.3" class="q20"/>
<circle cx="574.6" cy="774.0" r="2.3" class="q19"/>
<circle cx="510.5" cy="872.2" r="2.3" class="q0b"/>
<circle cx="659.8" cy="871.3" r="2.3" class="q1b"/>
<circle cx="446.5" cy="799.7" r="2.3" class="q20"/>
<circle cx="427.5" cy="867.9" r="2.3" class="q3"/>
<circle cx="485.8" cy="818.7" r="2.3" class="q16"/>
<circle cx="470.1" cy="871.4" r="2.3" class="q1b"/>
<circle cx="446.3" cy="870.1" r="2.3" class="q0b"/>
<circle cx="633.8" cy="871.9" r="2.3" class="q0b"/>
</g>
<line x1="424.7" y1="864.8" x2="424.7" y2="874.3" stroke="#000" stroke-width="2.3" />
<line x1="419.8" y1="865.7" x2="429.6" y2="865.7" stroke="#000" stroke-width="1.9" />
<line x1="419.8" y1="873.4" x2="429.6" y2="873.4" stroke="#000" stroke-width="1.9" />
<line x1="420" y1="869.4" x2="429.4" y2="869.4" stroke="#000" stroke-width="1.3" />
<line x1="451.05" y1="823.4" x2="451.05" y2="858.6" stroke="#000" stroke-width="2.3" />
<line x1="446.15" y1="824.3" x2="455.95" y2="824.3" stroke="#000" stroke-width="1.9" />
<line x1="446.15" y1="857.7" x2="455.95" y2="857.7" stroke="#000" stroke-width="1.9" />
<line x1="446.35" y1="845.3" x2="455.75" y2="845.3" stroke="#000" stroke-width="1.3" />
<line x1="477.4" y1="790" x2="477.4" y2="858.6" stroke="#000" stroke-width="2.3" />
<line x1="472.5" y1="790.9" x2="482.3" y2="790.9" stroke="#000" stroke-width="1.9" />
<line x1="472.5" y1="857.7" x2="482.3" y2="857.7" stroke="#000" stroke-width="1.9" />
<line x1="472.7" y1="811" x2="482.1" y2="811" stroke="#000" stroke-width="1.3" />
<line x1="503.75" y1="777.9" x2="503.75" y2="858.7" stroke="#000" stroke-width="2.3" />
<line x1="498.85" y1="778.8" x2="508.65" y2="778.8" stroke="#000" stroke-width="1.9" />
<line x1="498.85" y1="857.8" x2="508.65" y2="857.8" stroke="#000" stroke-width="1.9" />
<line x1="499.05" y1="794.9" x2="508.45" y2="794.9" stroke="#000" stroke-width="1.3" />
<line x1="530.1" y1="768.2" x2="530.1" y2="858.7" stroke="#000" stroke-width="2.3" />
<line x1="525.2" y1="769.1" x2="535" y2="769.1" stroke="#000" stroke-width="1.9" />
<line x1="525.2" y1="857.8" x2="535" y2="857.8" stroke="#000" stroke-width="1.9" />
<line x1="525.4" y1="782.4" x2="534.8" y2="782.4" stroke="#000" stroke-width="1.3" />
<line x1="556.45" y1="759" x2="556.45" y2="858.7" stroke="#000" stroke-width="2.3" />
<line x1="551.55" y1="759.9" x2="561.35" y2="759.9" stroke="#000" stroke-width="1.9" />
<line x1="551.55" y1="857.8" x2="561.35" y2="857.8" stroke="#000" stroke-width="1.9" />
<line x1="551.75" y1="771.8" x2="561.15" y2="771.8" stroke="#000" stroke-width="1.3" />
<line x1="582.8" y1="749.6" x2="582.8" y2="858.7" stroke="#000" stroke-width="2.3" />
<line x1="577.9" y1="750.5" x2="587.7" y2="750.5" stroke="#000" stroke-width="1.9" />
<line x1="577.9" y1="857.8" x2="587.7" y2="857.8" stroke="#000" stroke-width="1.9" />
<line x1="578.1" y1="761.6" x2="587.5" y2="761.6" stroke="#000" stroke-width="1.3" />
<line x1="609.15" y1="740.4" x2="609.15" y2="804.1" stroke="#000" stroke-width="2.3" />
<line x1="604.25" y1="741.3" x2="614.05" y2="741.3" stroke="#000" stroke-width="1.9" />
<line x1="604.25" y1="803.2" x2="614.05" y2="803.2" stroke="#000" stroke-width="1.9" />
<line x1="604.45" y1="752.4" x2="613.85" y2="752.4" stroke="#000" stroke-width="1.3" />
<line x1="635.5" y1="732.1" x2="635.5" y2="786.6" stroke="#000" stroke-width="2.3" />
<line x1="630.6" y1="733" x2="640.4" y2="733" stroke="#000" stroke-width="1.9" />
<line x1="630.6" y1="785.7" x2="640.4" y2="785.7" stroke="#000" stroke-width="1.9" />
<line x1="630.8" y1="743.3" x2="640.2" y2="743.3" stroke="#000" stroke-width="1.3" />
<line x1="661.85" y1="722.9" x2="661.85" y2="774.1" stroke="#000" stroke-width="2.3" />
<line x1="656.95" y1="723.8" x2="666.75" y2="723.8" stroke="#000" stroke-width="1.9" />
<line x1="656.95" y1="773.2" x2="666.75" y2="773.2" stroke="#000" stroke-width="1.9" />
<line x1="657.15" y1="734.4" x2="666.55" y2="734.4" stroke="#000" stroke-width="1.3" />
<rect x="401.8" y="704.4" width="282.5" height="171.7" fill="none" stroke="#b3b3b3" stroke-width="1.0"/>
<line x1="425.1" y1="876.1" x2="425.1" y2="881.9" stroke="#b3b3b3" stroke-width="1.0" />
<text transform="translate(425.1,895.8) scale(1,1.08)" font-size="11.8" text-anchor="middle" fill="#222222" >0.01</text>
<line x1="546.3" y1="876.1" x2="546.3" y2="881.9" stroke="#b3b3b3" stroke-width="1.0" />
<text transform="translate(546.3,895.8) scale(1,1.08)" font-size="11.8" text-anchor="middle" fill="#222222" >0.10</text>
<line x1="667.5" y1="876.1" x2="667.5" y2="881.9" stroke="#b3b3b3" stroke-width="1.0" />
<text transform="translate(667.5,895.8) scale(1,1.08)" font-size="11.8" text-anchor="middle" fill="#222222" >1.00</text>
<line x1="395.8" y1="857.8" x2="401.8" y2="857.8" stroke="#b3b3b3" stroke-width="1.0" />
<text transform="translate(373.76,863.9) scale(1,1.08)" font-size="11.8" fill="#222222">10</text>
<text x="386.88" y="857.6" font-size="8.3" fill="#222222">4</text>
<line x1="395.8" y1="820.4" x2="401.8" y2="820.4" stroke="#b3b3b3" stroke-width="1.0" />
<text transform="translate(373.76,826.5) scale(1,1.08)" font-size="11.8" fill="#222222">10</text>
<text x="386.88" y="820.2" font-size="8.3" fill="#222222">5</text>
<line x1="395.8" y1="783" x2="401.8" y2="783" stroke="#b3b3b3" stroke-width="1.0" />
<text transform="translate(373.76,789.1) scale(1,1.08)" font-size="11.8" fill="#222222">10</text>
<text x="386.88" y="782.8" font-size="8.3" fill="#222222">6</text>
<line x1="395.8" y1="745.6" x2="401.8" y2="745.6" stroke="#b3b3b3" stroke-width="1.0" />
<text transform="translate(373.76,751.7) scale(1,1.08)" font-size="11.8" fill="#222222">10</text>
<text x="386.88" y="745.4" font-size="8.3" fill="#222222">7</text>
<line x1="395.8" y1="708.2" x2="401.8" y2="708.2" stroke="#b3b3b3" stroke-width="1.0" />
<text transform="translate(373.76,714.3) scale(1,1.08)" font-size="11.8" fill="#222222">10</text>
<text x="386.88" y="708" font-size="8.3" fill="#222222">8</text>
<text x="543.05" y="913" font-size="12.4" text-anchor="middle" fill="#000000" >Fitness of a fully resistant capsid</text>
<text transform="translate(364,791) rotate(-90)" font-size="12.4" text-anchor="middle" fill="#000000">Sum total viral load</text>
<text x="347.2" y="714.4" font-size="14.0" text-anchor="start" fill="#000000" >K</text>
<rect x="402.2" y="704.6" width="43.3" height="96.8" fill="#fff" stroke="#000" stroke-width="1"/>
<defs><linearGradient id="cb" x1="0" y1="1" x2="0" y2="0"><stop offset="0.00" stop-color="#6a8ad2"/><stop offset="0.10" stop-color="#7e84c4"/><stop offset="0.20" stop-color="#8d7eb6"/><stop offset="0.30" stop-color="#9977a8"/><stop offset="0.40" stop-color="#a3709b"/><stop offset="0.50" stop-color="#ac698d"/><stop offset="0.60" stop-color="#b46280"/><stop offset="0.70" stop-color="#ba5b73"/><stop offset="0.80" stop-color="#c05366"/><stop offset="0.90" stop-color="#c54a59"/><stop offset="1.00" stop-color="#c9404c"/></linearGradient></defs>
<rect x="404.3" y="737.3" width="11.8" height="58.5" fill="url(#cb)"/>
<line x1="404.3" y1="781.17" x2="406.8" y2="781.17" stroke="#fff" stroke-width="1.0" />
<line x1="413.6" y1="781.17" x2="416.1" y2="781.17" stroke="#fff" stroke-width="1.0" />
<line x1="404.3" y1="766.55" x2="406.8" y2="766.55" stroke="#fff" stroke-width="1.0" />
<line x1="413.6" y1="766.55" x2="416.1" y2="766.55" stroke="#fff" stroke-width="1.0" />
<line x1="404.3" y1="751.92" x2="406.8" y2="751.92" stroke="#fff" stroke-width="1.0" />
<line x1="413.6" y1="751.92" x2="416.1" y2="751.92" stroke="#fff" stroke-width="1.0" />
<text x="443.6" y="740.3" font-size="8.2" text-anchor="end" fill="#333" >1.00</text>
<text x="443.6" y="754.92" font-size="8.2" text-anchor="end" fill="#333" >0.75</text>
<text x="443.6" y="769.55" font-size="8.2" text-anchor="end" fill="#333" >0.50</text>
<text x="443.6" y="784.17" font-size="8.2" text-anchor="end" fill="#333" >0.25</text>
<text x="443.6" y="798.8" font-size="8.2" text-anchor="end" fill="#333" >0.00</text>
<text x="412.2" y="720.4" font-size="15.8" text-anchor="start" fill="#000" >f</text>
<text x="417" y="723.4" font-size="10.4" text-anchor="start" fill="#000" >Res</text>
</svg>
</body></html>
